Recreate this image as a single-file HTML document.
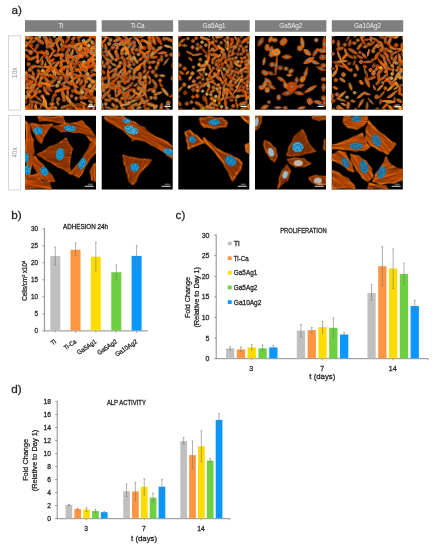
<!DOCTYPE html>
<html lang="en"><head><meta charset="utf-8"><title>Figure</title>
<style>
html,body{margin:0;padding:0;background:#fff;}
body{width:435px;height:550px;overflow:hidden;}
svg{display:block;}
svg text{font-family:"Liberation Sans", sans-serif;stroke-width:0.26px;paint-order:stroke;}
</style></head><body>
<svg width="435" height="550" viewBox="0 0 435 550">
<rect width="435" height="550" fill="#fff"/>
<text x="11.40" y="13.80" font-size="11.7" text-anchor="start" fill="#222" stroke="#222">a)</text>
<rect x="25.00" y="20.20" width="71.40" height="11.60" fill="#7f7f7f"/>
<text x="60.80" y="28.30" font-size="6.8" text-anchor="middle" fill="#f2f2f2" textLength="5.20" lengthAdjust="spacingAndGlyphs">Ti</text>
<rect x="101.70" y="20.20" width="71.40" height="11.60" fill="#7f7f7f"/>
<text x="137.50" y="28.30" font-size="6.8" text-anchor="middle" fill="#f2f2f2" textLength="14.20" lengthAdjust="spacingAndGlyphs">Ti-Ca</text>
<rect x="178.30" y="20.20" width="71.40" height="11.60" fill="#7f7f7f"/>
<text x="214.10" y="28.30" font-size="6.8" text-anchor="middle" fill="#f2f2f2" textLength="23.00" lengthAdjust="spacingAndGlyphs">Ga5Ag1</text>
<rect x="255.00" y="20.20" width="71.40" height="11.60" fill="#7f7f7f"/>
<text x="290.80" y="28.30" font-size="6.8" text-anchor="middle" fill="#f2f2f2" textLength="23.00" lengthAdjust="spacingAndGlyphs">Ga5Ag2</text>
<rect x="331.80" y="20.20" width="71.40" height="11.60" fill="#7f7f7f"/>
<text x="367.60" y="28.30" font-size="6.8" text-anchor="middle" fill="#f2f2f2" textLength="27.00" lengthAdjust="spacingAndGlyphs">Ga10Ag2</text>
<rect x="8.50" y="35.80" width="12.20" height="74.30" fill="#fff" stroke="#cdcdcd" stroke-width="0.8"/>
<text x="17.10" y="72.75" font-size="7.4" text-anchor="middle" fill="#969696" textLength="10.40" lengthAdjust="spacingAndGlyphs" transform="rotate(-90 17.10 72.75)">10x</text>
<rect x="8.50" y="115.60" width="12.20" height="74.30" fill="#fff" stroke="#cdcdcd" stroke-width="0.8"/>
<text x="17.10" y="152.55" font-size="7.4" text-anchor="middle" fill="#969696" textLength="10.40" lengthAdjust="spacingAndGlyphs" transform="rotate(-90 17.10 152.55)">40x</text>
<style>.k0{fill:#6e2800;stroke:#b04400;stroke-width:4}.k1{fill:#8a3000;stroke:#c85000;stroke-width:4}.k2{fill:#a03600;stroke:#dc5a02;stroke-width:4}.k3{fill:#b03c00;stroke:#ee6204;stroke-width:4}.k4{fill:#c04200;stroke:#f66c08;stroke-width:4}.k5{fill:#cc4a00;stroke:#ff760e;stroke-width:4}.k6{fill:#d85200;stroke:#ff8218;stroke-width:4}.k7{fill:#e66208;stroke:#ff9628;stroke-width:4}.k8{fill:#f47a14;stroke:#ffac3c;stroke-width:4}.k9{fill:#ff9a28;stroke:#ffc860;stroke-width:4}.nu{fill:#2a9ccc}.nv{fill:#2884a8}.nw{fill:#58b8d8}</style>
<defs><filter id="b1" x="-5%" y="-5%" width="110%" height="110%"><feGaussianBlur stdDeviation="1.4"/></filter><filter id="b2" x="-10%" y="-10%" width="120%" height="120%" color-interpolation-filters="sRGB"><feTurbulence type="fractalNoise" baseFrequency="0.008 0.09" numOctaves="3" seed="7" result="n"/><feColorMatrix in="n" type="matrix" values="0 0 0 0 0  0 0 0 0 0  0 0 0 0 0  1.7 0 0 0 -0.42" result="m"/><feGaussianBlur in="SourceGraphic" stdDeviation="4" result="g"/><feFlood flood-color="#6a2400" result="d"/><feComposite in="d" in2="m" operator="in" result="dm"/><feComposite in="dm" in2="g" operator="atop"/></filter><filter id="b3" x="-5%" y="-5%" width="110%" height="110%" color-interpolation-filters="sRGB"><feTurbulence type="fractalNoise" baseFrequency="0.11" numOctaves="2" seed="3" result="n"/><feColorMatrix in="n" type="matrix" values="0 0 0 0 0  0 0 0 0 0  0 0 0 0 0  1.6 0 0 0 -0.5" result="m"/><feGaussianBlur in="SourceGraphic" stdDeviation="2" result="g"/><feFlood flood-color="#0a4a78" result="d"/><feComposite in="d" in2="m" operator="in" result="dm"/><feComposite in="dm" in2="g" operator="atop"/></filter></defs>
<clipPath id="c00"><rect x="25.0" y="36.0" width="71.0" height="73.7"/></clipPath>
<rect x="25.0" y="36.0" width="71.0" height="73.7" fill="#000"/>
<g clip-path="url(#c00)"><svg x="25" y="36" width="71" height="74" viewBox="0 0 435 453" preserveAspectRatio="none" overflow="visible"><g filter="url(#b1)"><path transform="translate(202.2 230.1)rotate(16.9)" class="k5" d="M-20.1,0Q0,-15.1 20.1,0Q0,15.1 -20.1,0"/><ellipse transform="translate(202.2 230.1)rotate(16.9)" class="nv" rx="5.1" ry="4.1"/><ellipse transform="translate(286 280)rotate(43.5)" class="k9" rx="9.4" ry="9.4"/><ellipse transform="translate(286 280)rotate(43.5)" class="nv" rx="5.1" ry="4.3"/><path transform="translate(279.9 226.4)rotate(151.2)" class="k4" d="M-26.1,0Q0,-12.8 26.1,0Q0,12.8 -26.1,0"/><ellipse transform="translate(279.9 226.4)rotate(151.2)" class="nw" rx="6.2" ry="4.1"/><path transform="translate(135.3 101.3)rotate(69.6)" class="k6" d="M-17.5,0Q0,-17.6 17.5,0Q0,17.6 -17.5,0"/><ellipse transform="translate(135.3 101.3)rotate(69.6)" class="nv" rx="5.1" ry="4.1"/><path transform="translate(372.1 -4.7)rotate(13.1)" class="k3" d="M-36,0Q0,-14.7 36,0Q0,14.7 -36,0"/><ellipse transform="translate(341.4 119.9)rotate(44.3)" class="k6" rx="17.5" ry="9.3"/><ellipse transform="translate(341.4 119.9)rotate(44.3)" class="nw" rx="5.1" ry="4.3"/><ellipse transform="translate(21.7 364)rotate(23.6)" class="k7" rx="11.9" ry="11.9"/><ellipse transform="translate(21.7 364)rotate(23.6)" class="nw" rx="5.1" ry="5.5"/><path transform="translate(46.8 189.8)rotate(159.3)" class="k3" d="M-21.9,0Q0,-19.7 21.9,0Q0,19.7 -21.9,0"/><ellipse transform="translate(46.8 189.8)rotate(159.3)" class="nw" rx="5.2" ry="4.3"/><ellipse transform="translate(39.6 453)rotate(13.2)" class="k5" rx="16.3" ry="8.4"/><ellipse transform="translate(39.6 453)rotate(13.2)" class="nu" rx="5.1" ry="4.1"/><path transform="translate(254.3 107.5)rotate(103.4)" class="k4" d="M-24.2,0Q0,-14.6 24.2,0Q0,14.6 -24.2,0"/><ellipse transform="translate(254.3 107.5)rotate(103.4)" class="nv" rx="5.8" ry="4.1"/><ellipse transform="translate(358.9 110.5)rotate(158.8)" class="k5" rx="12.8" ry="12.8"/><ellipse transform="translate(358.9 110.5)rotate(158.8)" class="nv" rx="5.1" ry="5.5"/><ellipse transform="translate(182.5 43.1)rotate(148.3)" class="k4" rx="27.9" ry="5.9"/><ellipse transform="translate(182.5 43.1)rotate(148.3)" class="nu" rx="6.7" ry="4.1"/><ellipse transform="translate(374.3 279.4)rotate(80.2)" class="k7" rx="10.1" ry="10.1"/><ellipse transform="translate(374.3 279.4)rotate(80.2)" class="nv" rx="5.1" ry="4.6"/><ellipse transform="translate(431.3 299.2)rotate(163.8)" class="k6" rx="9.1" ry="9.1"/><path transform="translate(423.4 4.8)rotate(13.5)" class="k4" d="M-26.6,0Q0,-17.3 26.6,0Q0,17.3 -26.6,0"/><path transform="translate(382.6 188.1)rotate(104.9)" class="k3" d="M-35,0Q0,-15.7 35,0Q0,15.7 -35,0"/><ellipse transform="translate(382.6 188.1)rotate(104.9)" class="nv" rx="6.9" ry="4.1"/><path transform="translate(386.5 332.2)rotate(15.1)" class="k5" d="M-32.2,0Q0,-15.8 32.2,0Q0,15.8 -32.2,0"/><ellipse transform="translate(386.5 332.2)rotate(15.1)" class="nv" rx="6.9" ry="4.1"/><path transform="translate(8.3 273.4)rotate(165.7)" class="k1" d="M-21.1,0Q0,-17 21.1,0Q0,17 -21.1,0"/><path transform="translate(140.5 303.3)rotate(69.2)" class="k6" d="M-25.5,0Q0,-18 25.5,0Q0,18 -25.5,0"/><path transform="translate(417.8 123.2)rotate(112.6)" class="k2" d="M-25.9,0Q0,-12.8 25.9,0Q0,12.8 -25.9,0"/><ellipse transform="translate(417.8 123.2)rotate(112.6)" class="nw" rx="6.2" ry="4.1"/><ellipse transform="translate(3.5 57.9)rotate(8.4)" class="k7" rx="12.4" ry="8.7"/><ellipse transform="translate(3.5 57.9)rotate(8.4)" class="nu" rx="5.1" ry="4.1"/><ellipse transform="translate(83.7 215)rotate(49)" class="k5" rx="12.2" ry="7"/><ellipse transform="translate(83.7 215)rotate(49)" class="nu" rx="5.1" ry="4.1"/><path transform="translate(305.3 236)rotate(15.7)" class="k2" d="M-32.6,0Q0,-14 32.6,0Q0,14 -32.6,0"/><ellipse transform="translate(305.3 236)rotate(15.7)" class="nv" rx="6.9" ry="4.1"/><path transform="translate(316.5 55.1)rotate(158.3)" class="k7" d="M-29.8,0Q0,-19.1 29.8,0Q0,19.1 -29.8,0"/><ellipse transform="translate(316.5 55.1)rotate(158.3)" class="nu" rx="6.9" ry="4.2"/><path transform="translate(415.2 209.7)rotate(129.2)" class="k1" d="M-20.5,0Q0,-17.2 20.5,0Q0,17.2 -20.5,0"/><ellipse transform="translate(415.2 209.7)rotate(129.2)" class="nv" rx="5.1" ry="4.1"/><ellipse transform="translate(233.9 361.1)rotate(79.4)" class="k6" rx="27" ry="8.8"/><ellipse transform="translate(233.9 361.1)rotate(79.4)" class="nu" rx="6.5" ry="4.1"/><ellipse transform="translate(336.9 220.7)rotate(60.3)" class="k5" rx="25.4" ry="5.1"/><ellipse transform="translate(336.9 220.7)rotate(60.3)" class="nw" rx="6.1" ry="4.1"/><path transform="translate(124.1 332.5)rotate(68.6)" class="k5" d="M-27.5,0Q0,-18.4 27.5,0Q0,18.4 -27.5,0"/><ellipse transform="translate(124.1 332.5)rotate(68.6)" class="nv" rx="6.6" ry="4.1"/><path transform="translate(426 237.7)rotate(5)" class="k1" d="M-20.4,0Q0,-15.4 20.4,0Q0,15.4 -20.4,0"/><ellipse transform="translate(426 237.7)rotate(5)" class="nv" rx="5.1" ry="4.1"/><path transform="translate(24.3 244.4)rotate(22.9)" class="k4" d="M-37.1,0Q0,-19.2 37.1,0Q0,19.2 -37.1,0"/><ellipse transform="translate(24.3 244.4)rotate(22.9)" class="nv" rx="6.9" ry="4.2"/><path transform="translate(358 412)rotate(23.3)" class="k7" d="M-23,0Q0,-12 23,0Q0,12 -23,0"/><ellipse transform="translate(358 412)rotate(23.3)" class="nw" rx="5.5" ry="4.1"/><path transform="translate(5.1 84.9)rotate(18.9)" class="k3" d="M-31.1,0Q0,-13.3 31.1,0Q0,13.3 -31.1,0"/><ellipse transform="translate(5.1 84.9)rotate(18.9)" class="nu" rx="6.9" ry="4.1"/><path transform="translate(49.6 231.3)rotate(74.4)" class="k3" d="M-20.4,0Q0,-15.3 20.4,0Q0,15.3 -20.4,0"/><ellipse transform="translate(49.6 231.3)rotate(74.4)" class="nw" rx="5.1" ry="4.1"/><path transform="translate(267.2 391.7)rotate(56.7)" class="k8" d="M-32.3,0Q0,-18.1 32.3,0Q0,18.1 -32.3,0"/><ellipse transform="translate(267.2 391.7)rotate(56.7)" class="nu" rx="6.9" ry="4.1"/><ellipse transform="translate(182.6 360.7)rotate(122.8)" class="k3" rx="9.8" ry="9.8"/><ellipse transform="translate(425.9 48.4)rotate(12.7)" class="k4" rx="24.5" ry="7.2"/><ellipse transform="translate(425.9 48.4)rotate(12.7)" class="nu" rx="5.9" ry="4.1"/><path transform="translate(248.1 62.9)rotate(17.1)" class="k4" d="M-20.5,0Q0,-18.4 20.5,0Q0,18.4 -20.5,0"/><ellipse transform="translate(140.4 211.2)rotate(152)" class="k6" rx="11.8" ry="11.8"/><ellipse transform="translate(197 337.3)rotate(160.8)" class="k5" rx="15.2" ry="5.6"/><path transform="translate(175 272.6)rotate(134)" class="k3" d="M-37.6,0Q0,-18 37.6,0Q0,18 -37.6,0"/><ellipse transform="translate(175 272.6)rotate(134)" class="nv" rx="6.9" ry="4.1"/><ellipse transform="translate(335.5 182.9)rotate(64)" class="k5" rx="13.2" ry="6.4"/><ellipse transform="translate(335.5 182.9)rotate(64)" class="nv" rx="5.1" ry="4.1"/><path transform="translate(291.4 151.4)rotate(115.6)" class="k5" d="M-28.5,0Q0,-15.3 28.5,0Q0,15.3 -28.5,0"/><ellipse transform="translate(291.4 151.4)rotate(115.6)" class="nv" rx="6.8" ry="4.1"/><path transform="translate(334 448.8)rotate(9.1)" class="k5" d="M-29.5,0Q0,-17.4 29.5,0Q0,17.4 -29.5,0"/><path transform="translate(398 249.7)rotate(145.7)" class="k5" d="M-37.3,0Q0,-15.7 37.3,0Q0,15.7 -37.3,0"/><ellipse transform="translate(398 249.7)rotate(145.7)" class="nv" rx="6.9" ry="4.1"/><ellipse transform="translate(260.9 346.5)rotate(89.2)" class="k4" rx="27.3" ry="5.6"/><ellipse transform="translate(260.9 346.5)rotate(89.2)" class="nw" rx="6.5" ry="4.1"/><ellipse transform="translate(21.1 432.7)rotate(117.9)" class="k4" rx="20.7" ry="7.6"/><ellipse transform="translate(64.7 344.4)rotate(170)" class="k5" rx="13" ry="13"/><ellipse transform="translate(64.7 344.4)rotate(170)" class="nu" rx="5.1" ry="5.5"/><ellipse transform="translate(412.1 329.6)rotate(112.4)" class="k7" rx="28.2" ry="8.6"/><ellipse transform="translate(412.1 329.6)rotate(112.4)" class="nv" rx="6.7" ry="4.1"/><path transform="translate(197.7 116.4)rotate(171.5)" class="k6" d="M-25.2,0Q0,-17.8 25.2,0Q0,17.8 -25.2,0"/><ellipse transform="translate(197.7 116.4)rotate(171.5)" class="nu" rx="6" ry="4.1"/><path transform="translate(344 284.4)rotate(114)" class="k4" d="M-22,0Q0,-16.8 22,0Q0,16.8 -22,0"/><ellipse transform="translate(344 284.4)rotate(114)" class="nu" rx="5.3" ry="4.1"/><path transform="translate(402.5 401.9)rotate(18.4)" class="k7" d="M-17.3,0Q0,-12.8 17.3,0Q0,12.8 -17.3,0"/><ellipse transform="translate(402.5 401.9)rotate(18.4)" class="nv" rx="5.1" ry="4.1"/><path transform="translate(240 287.2)rotate(150.9)" class="k4" d="M-26.5,0Q0,-12.2 26.5,0Q0,12.2 -26.5,0"/><ellipse transform="translate(240 287.2)rotate(150.9)" class="nw" rx="6.3" ry="4.1"/><ellipse transform="translate(48.3 369.7)rotate(145.8)" class="k6" rx="24.7" ry="5.8"/><path transform="translate(285.9 453)rotate(66.5)" class="k1" d="M-28.1,0Q0,-17.4 28.1,0Q0,17.4 -28.1,0"/><ellipse transform="translate(285.9 453)rotate(66.5)" class="nv" rx="6.7" ry="4.1"/><ellipse transform="translate(384.5 31.3)rotate(139.6)" class="k8" rx="21.3" ry="7.1"/><ellipse transform="translate(384.5 31.3)rotate(139.6)" class="nv" rx="5.1" ry="4.1"/><ellipse transform="translate(89.9 301.6)rotate(25.7)" class="k4" rx="17" ry="8.2"/><ellipse transform="translate(89.9 301.6)rotate(25.7)" class="nu" rx="5.1" ry="4.1"/><path transform="translate(318.1 164.6)rotate(164.4)" class="k2" d="M-31.6,0Q0,-15.7 31.6,0Q0,15.7 -31.6,0"/><ellipse transform="translate(318.1 164.6)rotate(164.4)" class="nv" rx="6.9" ry="4.1"/><ellipse transform="translate(105.5 162.5)rotate(101.5)" class="k5" rx="18" ry="6.7"/><ellipse transform="translate(105.5 162.5)rotate(101.5)" class="nu" rx="5.1" ry="4.1"/><ellipse transform="translate(284.8 367.4)rotate(132.7)" class="k4" rx="9.3" ry="9.3"/><ellipse transform="translate(284.8 367.4)rotate(132.7)" class="nv" rx="5.1" ry="4.3"/><ellipse transform="translate(32.7 288.6)rotate(137.8)" class="k5" rx="24.3" ry="7.9"/><ellipse transform="translate(32.7 288.6)rotate(137.8)" class="nu" rx="5.8" ry="4.1"/><path transform="translate(402.2 185.1)rotate(160)" class="k4" d="M-30.7,0Q0,-18.5 30.7,0Q0,18.5 -30.7,0"/><ellipse transform="translate(162.1 72.6)rotate(55.5)" class="k6" rx="19" ry="6.2"/><ellipse transform="translate(162.1 72.6)rotate(55.5)" class="nv" rx="5.1" ry="4.1"/><path transform="translate(399.6 11.8)rotate(107.1)" class="k4" d="M-20.1,0Q0,-12.2 20.1,0Q0,12.2 -20.1,0"/><ellipse transform="translate(399.6 11.8)rotate(107.1)" class="nu" rx="5.1" ry="4.1"/><path transform="translate(77.3 125.1)rotate(86.3)" class="k5" d="M-32.7,0Q0,-13.2 32.7,0Q0,13.2 -32.7,0"/><ellipse transform="translate(77.3 125.1)rotate(86.3)" class="nv" rx="6.9" ry="4.1"/><path transform="translate(287.6 105)rotate(109.1)" class="k8" d="M-26.4,0Q0,-13.7 26.4,0Q0,13.7 -26.4,0"/><ellipse transform="translate(287.6 105)rotate(109.1)" class="nu" rx="6.3" ry="4.1"/><ellipse transform="translate(381.8 234)rotate(138.7)" class="k9" rx="10.5" ry="10.5"/><ellipse transform="translate(381.8 234)rotate(138.7)" class="nw" rx="5.1" ry="4.8"/><ellipse transform="translate(371.6 375.6)rotate(84.4)" class="k6" rx="10.9" ry="10.9"/><ellipse transform="translate(371.6 375.6)rotate(84.4)" class="nv" rx="5.1" ry="5"/><ellipse transform="translate(236.8 238.4)rotate(55)" class="k4" rx="25.7" ry="6.3"/><ellipse transform="translate(236.8 238.4)rotate(55)" class="nv" rx="6.2" ry="4.1"/><ellipse transform="translate(100.7 256.2)rotate(110.9)" class="k4" rx="12.2" ry="9.5"/><ellipse transform="translate(100.7 256.2)rotate(110.9)" class="nw" rx="5.1" ry="4.4"/><ellipse transform="translate(162.3 244.9)rotate(36)" class="k6" rx="17.6" ry="6.6"/><ellipse transform="translate(36.1 60.2)rotate(150.6)" class="k4" rx="10.6" ry="10.6"/><ellipse transform="translate(35.1 99.9)rotate(76.9)" class="k5" rx="12.7" ry="12.7"/><ellipse transform="translate(35.1 99.9)rotate(76.9)" class="nw" rx="5.1" ry="5.5"/><path transform="translate(166.7 148.4)rotate(142.1)" class="k5" d="M-16.3,0Q0,-14 16.3,0Q0,14 -16.3,0"/><ellipse transform="translate(265.8 3.6)rotate(91.7)" class="k6" rx="10.5" ry="10.5"/><ellipse transform="translate(265.8 3.6)rotate(91.7)" class="nu" rx="5.1" ry="4.8"/><ellipse transform="translate(313.3 381.8)rotate(44)" class="k6" rx="9.3" ry="9.3"/><ellipse transform="translate(313.3 381.8)rotate(44)" class="nu" rx="5.1" ry="4.3"/><path transform="translate(77.6 248.7)rotate(118.5)" class="k7" d="M-16.7,0Q0,-11.9 16.7,0Q0,11.9 -16.7,0"/><ellipse transform="translate(293.7 336.5)rotate(84.2)" class="k3" rx="9.8" ry="9.8"/><ellipse transform="translate(226.3 117.1)rotate(26.1)" class="k6" rx="11.7" ry="11.7"/><ellipse transform="translate(226.3 117.1)rotate(26.1)" class="nu" rx="5.1" ry="5.4"/><path transform="translate(262 212.6)rotate(87.4)" class="k2" d="M-29.7,0Q0,-16.9 29.7,0Q0,16.9 -29.7,0"/><ellipse transform="translate(262 212.6)rotate(87.4)" class="nv" rx="6.9" ry="4.1"/><path transform="translate(397.4 143.5)rotate(135.3)" class="k5" d="M-32,0Q0,-19 32,0Q0,19 -32,0"/><ellipse transform="translate(397.4 143.5)rotate(135.3)" class="nv" rx="6.9" ry="4.2"/><ellipse transform="translate(259.1 27.3)rotate(125.1)" class="k3" rx="19.4" ry="7.2"/><path transform="translate(101.4 136.8)rotate(119.8)" class="k4" d="M-21.2,0Q0,-10.8 21.2,0Q0,10.8 -21.2,0"/><ellipse transform="translate(101.4 136.8)rotate(119.8)" class="nv" rx="5.1" ry="4.1"/><ellipse transform="translate(234.2 435.3)rotate(161.1)" class="k6" rx="16" ry="6.2"/><ellipse transform="translate(234.2 435.3)rotate(161.1)" class="nv" rx="5.1" ry="4.1"/><path transform="translate(82 383)rotate(36.4)" class="k4" d="M-26.4,0Q0,-11.8 26.4,0Q0,11.8 -26.4,0"/><ellipse transform="translate(82 383)rotate(36.4)" class="nv" rx="6.3" ry="4.1"/><ellipse transform="translate(42.2 331)rotate(125.3)" class="k4" rx="26.9" ry="8.9"/><ellipse transform="translate(42.2 331)rotate(125.3)" class="nw" rx="6.4" ry="4.1"/><path transform="translate(118.2 291.3)rotate(8.2)" class="k7" d="M-37.6,0Q0,-14.4 37.6,0Q0,14.4 -37.6,0"/><path transform="translate(383.4 78.4)rotate(47.3)" class="k7" d="M-16.4,0Q0,-15 16.4,0Q0,15 -16.4,0"/><ellipse transform="translate(383.4 78.4)rotate(47.3)" class="nu" rx="5.1" ry="4.1"/><path transform="translate(360.2 74.5)rotate(11)" class="k3" d="M-19.5,0Q0,-16.9 19.5,0Q0,16.9 -19.5,0"/><ellipse transform="translate(360.2 74.5)rotate(11)" class="nv" rx="5.1" ry="4.1"/><ellipse transform="translate(326.5 13.2)rotate(76.4)" class="k2" rx="26.7" ry="5.5"/><path transform="translate(321.7 101.4)rotate(65.5)" class="k4" d="M-28.1,0Q0,-12.5 28.1,0Q0,12.5 -28.1,0"/><ellipse transform="translate(321.7 101.4)rotate(65.5)" class="nu" rx="6.7" ry="4.1"/><ellipse transform="translate(431.7 277.8)rotate(125)" class="k1" rx="10.4" ry="10.4"/><ellipse transform="translate(431.7 277.8)rotate(125)" class="nv" rx="5.1" ry="4.8"/><ellipse transform="translate(169.9 385.3)rotate(98.9)" class="k1" rx="24.9" ry="5.8"/><ellipse transform="translate(169.9 385.3)rotate(98.9)" class="nv" rx="6" ry="4.1"/><path transform="translate(156.5 122.1)rotate(128.7)" class="k5" d="M-20,0Q0,-12.7 20,0Q0,12.7 -20,0"/><ellipse transform="translate(139.7 351.8)rotate(27.2)" class="k5" rx="12.9" ry="6.7"/><ellipse transform="translate(139.7 351.8)rotate(27.2)" class="nw" rx="5.1" ry="4.1"/><path transform="translate(60.5 89.8)rotate(40.7)" class="k2" d="M-31.7,0Q0,-14.1 31.7,0Q0,14.1 -31.7,0"/><ellipse transform="translate(60.5 89.8)rotate(40.7)" class="nu" rx="6.9" ry="4.1"/><path transform="translate(293.4 420.5)rotate(42.2)" class="k6" d="M-31.2,0Q0,-16.7 31.2,0Q0,16.7 -31.2,0"/><ellipse transform="translate(293.4 420.5)rotate(42.2)" class="nu" rx="6.9" ry="4.1"/><ellipse transform="translate(21.7 172.5)rotate(85.5)" class="k3" rx="10.6" ry="10.6"/><ellipse transform="translate(21.7 172.5)rotate(85.5)" class="nu" rx="5.1" ry="4.9"/><path transform="translate(147.1 190.5)rotate(4.1)" class="k7" d="M-28.8,0Q0,-17 28.8,0Q0,17 -28.8,0"/><path transform="translate(157.1 24.1)rotate(58.6)" class="k2" d="M-17.2,0Q0,-15 17.2,0Q0,15 -17.2,0"/><ellipse transform="translate(157.1 24.1)rotate(58.6)" class="nv" rx="5.1" ry="4.1"/><path transform="translate(419.8 162.9)rotate(74)" class="k5" d="M-36.7,0Q0,-17.7 36.7,0Q0,17.7 -36.7,0"/><ellipse transform="translate(419.8 162.9)rotate(74)" class="nu" rx="6.9" ry="4.1"/><path transform="translate(164.9 416.2)rotate(175.9)" class="k6" d="M-19,0Q0,-15.1 19,0Q0,15.1 -19,0"/><ellipse transform="translate(164.9 416.2)rotate(175.9)" class="nw" rx="5.1" ry="4.1"/><path transform="translate(284.3 248.8)rotate(62.4)" class="k7" d="M-28.3,0Q0,-18.3 28.3,0Q0,18.3 -28.3,0"/><ellipse transform="translate(284.3 248.8)rotate(62.4)" class="nu" rx="6.8" ry="4.1"/><path transform="translate(66 282.8)rotate(96.1)" class="k4" d="M-28.4,0Q0,-13.7 28.4,0Q0,13.7 -28.4,0"/><ellipse transform="translate(223.6 53.3)rotate(81.3)" class="k7" rx="13.1" ry="5.3"/><ellipse transform="translate(223.6 53.3)rotate(81.3)" class="nu" rx="5.1" ry="4.1"/><path transform="translate(162.7 304.9)rotate(174.7)" class="k5" d="M-20.1,0Q0,-10.2 20.1,0Q0,10.2 -20.1,0"/><ellipse transform="translate(162.7 304.9)rotate(174.7)" class="nu" rx="5.1" ry="4.1"/><ellipse transform="translate(301 189.1)rotate(128.4)" class="k1" rx="18.5" ry="9.2"/><ellipse transform="translate(301 189.1)rotate(128.4)" class="nv" rx="5.1" ry="4.2"/><ellipse transform="translate(42.7 427.2)rotate(101.9)" class="k2" rx="20.1" ry="5.4"/><ellipse transform="translate(42.7 427.2)rotate(101.9)" class="nu" rx="5.1" ry="4.1"/><ellipse transform="translate(273.3 121.9)rotate(11.6)" class="k2" rx="20" ry="6.5"/><ellipse transform="translate(273.3 121.9)rotate(11.6)" class="nw" rx="5.1" ry="4.1"/><path transform="translate(132.7 31.3)rotate(87.2)" class="k6" d="M-26.6,0Q0,-19.9 26.6,0Q0,19.9 -26.6,0"/><ellipse transform="translate(132.7 31.3)rotate(87.2)" class="nv" rx="6.4" ry="4.4"/><ellipse transform="translate(317.6 76.4)rotate(135.6)" class="k5" rx="10.4" ry="10.4"/><ellipse transform="translate(317.6 76.4)rotate(135.6)" class="nv" rx="5.1" ry="4.8"/><path transform="translate(223.8 -0.2)rotate(142.6)" class="k6" d="M-37.1,0Q0,-10.2 37.1,0Q0,10.2 -37.1,0"/><ellipse transform="translate(223.8 -0.2)rotate(142.6)" class="nw" rx="6.9" ry="4.1"/><path transform="translate(106.5 416.2)rotate(118.3)" class="k5" d="M-28.7,0Q0,-12.3 28.7,0Q0,12.3 -28.7,0"/><ellipse transform="translate(106.5 416.2)rotate(118.3)" class="nv" rx="6.9" ry="4.1"/><ellipse transform="translate(89 339.1)rotate(63.1)" class="k5" rx="9.6" ry="9.6"/><ellipse transform="translate(89 339.1)rotate(63.1)" class="nv" rx="5.1" ry="4.4"/><ellipse transform="translate(-0.8 227.7)rotate(158.5)" class="k8" rx="17.3" ry="7.3"/><ellipse transform="translate(-0.8 227.7)rotate(158.5)" class="nv" rx="5.1" ry="4.1"/><ellipse transform="translate(186.4 440.7)rotate(121.9)" class="k5" rx="10.1" ry="10.1"/><ellipse transform="translate(186.4 440.7)rotate(121.9)" class="nu" rx="5.1" ry="4.6"/><ellipse transform="translate(196.7 303.1)rotate(92.7)" class="k9" rx="9.9" ry="9.9"/><ellipse transform="translate(196.7 303.1)rotate(92.7)" class="nv" rx="5.1" ry="4.5"/><path transform="translate(409.6 65.3)rotate(178.1)" class="k2" d="M-37.8,0Q0,-17.4 37.8,0Q0,17.4 -37.8,0"/><ellipse transform="translate(409.6 65.3)rotate(178.1)" class="nw" rx="6.9" ry="4.1"/><ellipse transform="translate(106.6 368.7)rotate(115.9)" class="k5" rx="10.1" ry="10.1"/><ellipse transform="translate(106.6 368.7)rotate(115.9)" class="nu" rx="5.1" ry="4.7"/><ellipse transform="translate(39.7 12)rotate(70)" class="k5" rx="9.7" ry="9.7"/><ellipse transform="translate(434.6 90.7)rotate(77.5)" class="k9" rx="9" ry="9"/><ellipse transform="translate(434.6 90.7)rotate(77.5)" class="nu" rx="5.1" ry="4.1"/><ellipse transform="translate(263.4 316.7)rotate(20.9)" class="k4" rx="14.1" ry="8.1"/><ellipse transform="translate(263.4 316.7)rotate(20.9)" class="nw" rx="5.1" ry="4.1"/><path transform="translate(266.5 160.5)rotate(55.8)" class="k5" d="M-37.9,0Q0,-16.9 37.9,0Q0,16.9 -37.9,0"/><ellipse transform="translate(266.5 160.5)rotate(55.8)" class="nv" rx="6.9" ry="4.1"/><path transform="translate(360 184.4)rotate(42.3)" class="k7" d="M-27.1,0Q0,-19.4 27.1,0Q0,19.4 -27.1,0"/><path transform="translate(121.8 399)rotate(69.8)" class="k8" d="M-34.8,0Q0,-16.8 34.8,0Q0,16.8 -34.8,0"/><path transform="translate(203.8 162.5)rotate(175.8)" class="k3" d="M-23,0Q0,-16.7 23,0Q0,16.7 -23,0"/><ellipse transform="translate(203.8 162.5)rotate(175.8)" class="nu" rx="5.5" ry="4.1"/><path transform="translate(92 453.3)rotate(15)" class="k6" d="M-24.1,0Q0,-11.5 24.1,0Q0,11.5 -24.1,0"/><ellipse transform="translate(92 453.3)rotate(15)" class="nv" rx="5.8" ry="4.1"/><path transform="translate(340.3 50.4)rotate(4.4)" class="k6" d="M-16.3,0Q0,-18.6 16.3,0Q0,18.6 -16.3,0"/><path transform="translate(50.4 257.9)rotate(44.4)" class="k6" d="M-17.9,0Q0,-15.1 17.9,0Q0,15.1 -17.9,0"/><ellipse transform="translate(50.4 257.9)rotate(44.4)" class="nu" rx="5.1" ry="4.1"/><ellipse transform="translate(179 -0)rotate(95.6)" class="k9" rx="8.3" ry="8.3"/><ellipse transform="translate(179 -0)rotate(95.6)" class="nu" rx="5.1" ry="4.1"/><ellipse transform="translate(172.9 98.1)rotate(134.9)" class="k5" rx="18.1" ry="6.3"/><ellipse transform="translate(172.9 98.1)rotate(134.9)" class="nu" rx="5.1" ry="4.1"/><path transform="translate(432.9 380)rotate(10.2)" class="k6" d="M-23,0Q0,-18.2 23,0Q0,18.2 -23,0"/><ellipse transform="translate(432.9 380)rotate(10.2)" class="nv" rx="5.5" ry="4.1"/><ellipse transform="translate(407.7 290.7)rotate(132.6)" class="k4" rx="27.4" ry="8.3"/><ellipse transform="translate(407.7 290.7)rotate(132.6)" class="nu" rx="6.6" ry="4.1"/><path transform="translate(366.1 303.5)rotate(100.8)" class="k3" d="M-18.5,0Q0,-11.2 18.5,0Q0,11.2 -18.5,0"/><ellipse transform="translate(366.1 303.5)rotate(100.8)" class="nu" rx="5.1" ry="4.1"/><path transform="translate(89 187.1)rotate(5.6)" class="k5" d="M-34.5,0Q0,-11.3 34.5,0Q0,11.3 -34.5,0"/><ellipse transform="translate(89 187.1)rotate(5.6)" class="nu" rx="6.9" ry="4.1"/><path transform="translate(258.2 235.7)rotate(86.5)" class="k6" d="M-28.6,0Q0,-18.4 28.6,0Q0,18.4 -28.6,0"/><ellipse transform="translate(258.2 235.7)rotate(86.5)" class="nw" rx="6.8" ry="4.1"/><path transform="translate(305.8 258)rotate(145)" class="k5" d="M-23.3,0Q0,-11.6 23.3,0Q0,11.6 -23.3,0"/><ellipse transform="translate(343.9 96.2)rotate(104.8)" class="k4" rx="12.1" ry="12.1"/><path transform="translate(404.1 353.9)rotate(42)" class="k4" d="M-17.2,0Q0,-19.3 17.2,0Q0,19.3 -17.2,0"/><ellipse transform="translate(220 257.1)rotate(118.3)" class="k3" rx="12.8" ry="12.8"/><ellipse transform="translate(220 257.1)rotate(118.3)" class="nw" rx="5.1" ry="5.5"/><ellipse transform="translate(229.5 80.5)rotate(75.1)" class="k2" rx="11.8" ry="11.8"/><ellipse transform="translate(410.3 35)rotate(172.3)" class="k9" rx="8.1" ry="8.1"/><ellipse transform="translate(410.3 35)rotate(172.3)" class="nv" rx="5.1" ry="4.1"/><path transform="translate(144.3 155.5)rotate(60.4)" class="k7" d="M-32.9,0Q0,-12.7 32.9,0Q0,12.7 -32.9,0"/><ellipse transform="translate(144.3 155.5)rotate(60.4)" class="nv" rx="6.9" ry="4.1"/><ellipse transform="translate(73.2 64.4)rotate(117.8)" class="k1" rx="19.9" ry="8.5"/><ellipse transform="translate(73.2 64.4)rotate(117.8)" class="nv" rx="5.1" ry="4.1"/><path transform="translate(346.7 245.1)rotate(178.2)" class="k3" d="M-32.8,0Q0,-12.5 32.8,0Q0,12.5 -32.8,0"/><ellipse transform="translate(346.7 245.1)rotate(178.2)" class="nv" rx="6.9" ry="4.1"/><ellipse transform="translate(77.3 155.9)rotate(97.3)" class="k5" rx="11.1" ry="11.1"/><ellipse transform="translate(77.3 155.9)rotate(97.3)" class="nw" rx="5.1" ry="5.1"/><ellipse transform="translate(371.5 210.3)rotate(72.1)" class="k4" rx="12.1" ry="12.1"/><ellipse transform="translate(371.5 210.3)rotate(72.1)" class="nu" rx="5.1" ry="5.5"/><ellipse transform="translate(89.2 4.1)rotate(32.9)" class="k9" rx="8.9" ry="8.9"/><ellipse transform="translate(89.2 4.1)rotate(32.9)" class="nu" rx="5.1" ry="4.1"/><ellipse transform="translate(253.5 188.1)rotate(168.5)" class="k7" rx="19.6" ry="6.4"/><ellipse transform="translate(253.5 188.1)rotate(168.5)" class="nv" rx="5.1" ry="4.1"/><path transform="translate(65.1 433.7)rotate(89.5)" class="k7" d="M-18.1,0Q0,-16.9 18.1,0Q0,16.9 -18.1,0"/><path transform="translate(223.8 170.5)rotate(83.2)" class="k5" d="M-26.9,0Q0,-12.7 26.9,0Q0,12.7 -26.9,0"/><ellipse transform="translate(223.8 170.5)rotate(83.2)" class="nu" rx="6.4" ry="4.1"/><path transform="translate(224.5 141.3)rotate(59.5)" class="k5" d="M-20.1,0Q0,-16.5 20.1,0Q0,16.5 -20.1,0"/><ellipse transform="translate(224.5 141.3)rotate(59.5)" class="nv" rx="5.1" ry="4.1"/><path transform="translate(169 211.9)rotate(56.8)" class="k3" d="M-37,0Q0,-18.5 37,0Q0,18.5 -37,0"/><ellipse transform="translate(169 211.9)rotate(56.8)" class="nw" rx="6.9" ry="4.1"/><path transform="translate(48.4 135.8)rotate(159.7)" class="k5" d="M-35,0Q0,-15.1 35,0Q0,15.1 -35,0"/><ellipse transform="translate(48.4 135.8)rotate(159.7)" class="nu" rx="6.9" ry="4.1"/><path transform="translate(347.1 322.8)rotate(112.3)" class="k6" d="M-24,0Q0,-14.4 24,0Q0,14.4 -24,0"/><ellipse transform="translate(347.1 322.8)rotate(112.3)" class="nv" rx="5.8" ry="4.1"/><path transform="translate(147.1 324.5)rotate(39.8)" class="k2" d="M-25.2,0Q0,-17.6 25.2,0Q0,17.6 -25.2,0"/><ellipse transform="translate(147.1 324.5)rotate(39.8)" class="nv" rx="6" ry="4.1"/><ellipse transform="translate(287.5 63.8)rotate(21.2)" class="k6" rx="26.4" ry="9.2"/><ellipse transform="translate(287.5 63.8)rotate(21.2)" class="nu" rx="6.3" ry="4.2"/><path transform="translate(308 318.8)rotate(79.5)" class="k4" d="M-35.3,0Q0,-12.2 35.3,0Q0,12.2 -35.3,0"/><ellipse transform="translate(308 318.8)rotate(79.5)" class="nu" rx="6.9" ry="4.1"/><ellipse transform="translate(16 317.1)rotate(8)" class="k5" rx="25.9" ry="7.4"/><ellipse transform="translate(16 317.1)rotate(8)" class="nw" rx="6.2" ry="4.1"/><path transform="translate(22.9 42.2)rotate(125.2)" class="k5" d="M-31.3,0Q0,-11.8 31.3,0Q0,11.8 -31.3,0"/><ellipse transform="translate(22.9 42.2)rotate(125.2)" class="nu" rx="6.9" ry="4.1"/><path transform="translate(133.1 269.1)rotate(56.1)" class="k5" d="M-18.5,0Q0,-18.4 18.5,0Q0,18.4 -18.5,0"/><ellipse transform="translate(133.1 269.1)rotate(56.1)" class="nu" rx="5.1" ry="4.1"/><path transform="translate(392.2 98.7)rotate(51.4)" class="k4" d="M-22.6,0Q0,-10.4 22.6,0Q0,10.4 -22.6,0"/><ellipse transform="translate(392.2 98.7)rotate(51.4)" class="nv" rx="5.4" ry="4.1"/><ellipse transform="translate(395.7 307.1)rotate(113.7)" class="k9" rx="8.7" ry="8.7"/><ellipse transform="translate(395.7 307.1)rotate(113.7)" class="nu" rx="5.1" ry="4.1"/><path transform="translate(421.3 143.8)rotate(168.4)" class="k7" d="M-34.2,0Q0,-11.9 34.2,0Q0,11.9 -34.2,0"/><ellipse transform="translate(67.2 12.4)rotate(152.3)" class="k7" rx="9.2" ry="9.2"/><ellipse transform="translate(67.2 12.4)rotate(152.3)" class="nv" rx="5.1" ry="4.2"/><path transform="translate(268.7 84.5)rotate(97.5)" class="k3" d="M-16.2,0Q0,-18.8 16.2,0Q0,18.8 -16.2,0"/><ellipse transform="translate(268.7 84.5)rotate(97.5)" class="nu" rx="5.1" ry="4.1"/><path transform="translate(13.2 126.7)rotate(33.4)" class="k3" d="M-32.5,0Q0,-17.8 32.5,0Q0,17.8 -32.5,0"/><path transform="translate(374.5 349.4)rotate(109)" class="k3" d="M-37.6,0Q0,-17.4 37.6,0Q0,17.4 -37.6,0"/><ellipse transform="translate(374.5 349.4)rotate(109)" class="nu" rx="6.9" ry="4.1"/><ellipse transform="translate(242.7 152.2)rotate(178.4)" class="k4" rx="12" ry="4.8"/><ellipse transform="translate(242.7 152.2)rotate(178.4)" class="nu" rx="5.1" ry="4.1"/><ellipse transform="translate(238.8 391.4)rotate(5.4)" class="k3" rx="9.9" ry="9.9"/><ellipse transform="translate(238.8 391.4)rotate(5.4)" class="nv" rx="5.1" ry="4.6"/><path transform="translate(222.1 22.2)rotate(52.2)" class="k6" d="M-29.4,0Q0,-16.8 29.4,0Q0,16.8 -29.4,0"/><ellipse transform="translate(222.1 22.2)rotate(52.2)" class="nv" rx="6.9" ry="4.1"/><path transform="translate(326 346.6)rotate(21.3)" class="k6" d="M-25.2,0Q0,-17 25.2,0Q0,17 -25.2,0"/><ellipse transform="translate(326 346.6)rotate(21.3)" class="nv" rx="6" ry="4.1"/><path transform="translate(385 444)rotate(116.5)" class="k3" d="M-30.3,0Q0,-13.8 30.3,0Q0,13.8 -30.3,0"/><ellipse transform="translate(205.7 88.4)rotate(115)" class="k1" rx="19" ry="6.1"/><ellipse transform="translate(205.7 88.4)rotate(115)" class="nv" rx="5.1" ry="4.1"/><ellipse transform="translate(152.3 445.2)rotate(145.4)" class="k6" rx="27.2" ry="8.9"/><ellipse transform="translate(346 377.1)rotate(55.7)" class="k4" rx="12.8" ry="12.8"/><ellipse transform="translate(346 377.1)rotate(55.7)" class="nu" rx="5.1" ry="5.5"/><path transform="translate(36.4 404.3)rotate(74.3)" class="k1" d="M-21.9,0Q0,-17.7 21.9,0Q0,17.7 -21.9,0"/><ellipse transform="translate(36.4 404.3)rotate(74.3)" class="nv" rx="5.2" ry="4.1"/><path transform="translate(189.5 206.5)rotate(58.7)" class="k5" d="M-24.1,0Q0,-14.6 24.1,0Q0,14.6 -24.1,0"/><ellipse transform="translate(3.7 402)rotate(141.4)" class="k1" rx="9.4" ry="9.4"/><ellipse transform="translate(18.2 343.2)rotate(67.6)" class="k6" rx="10.9" ry="10.9"/><ellipse transform="translate(18.2 343.2)rotate(67.6)" class="nv" rx="5.1" ry="5"/><path transform="translate(104 100)rotate(3.7)" class="k4" d="M-25.1,0Q0,-16.9 25.1,0Q0,16.9 -25.1,0"/><ellipse transform="translate(435.6 207.8)rotate(65.4)" class="k9" rx="10.5" ry="10.5"/><ellipse transform="translate(435.6 207.8)rotate(65.4)" class="nv" rx="5.1" ry="4.8"/><path transform="translate(200.7 410.4)rotate(71.1)" class="k5" d="M-16.2,0Q0,-13.3 16.2,0Q0,13.3 -16.2,0"/><ellipse transform="translate(200.7 410.4)rotate(71.1)" class="nu" rx="5.1" ry="4.1"/><ellipse transform="translate(-3.4 251.5)rotate(35.8)" class="k5" rx="23.8" ry="9.3"/><ellipse transform="translate(120.2 251.2)rotate(168.3)" class="k2" rx="9.5" ry="9.5"/><ellipse transform="translate(199.1 24.1)rotate(109.8)" class="k5" rx="12.3" ry="12.3"/><ellipse transform="translate(199.1 24.1)rotate(109.8)" class="nu" rx="5.1" ry="5.5"/><ellipse transform="translate(241.1 309)rotate(159.6)" class="k4" rx="10.8" ry="10.8"/><ellipse transform="translate(241.1 309)rotate(159.6)" class="nu" rx="5.1" ry="4.9"/><path transform="translate(262.1 284.2)rotate(38.8)" class="k4" d="M-29.5,0Q0,-13 29.5,0Q0,13 -29.5,0"/><ellipse transform="translate(262.1 284.2)rotate(38.8)" class="nu" rx="6.9" ry="4.1"/><ellipse transform="translate(325.2 274.6)rotate(121.5)" class="k7" rx="21" ry="7.9"/><ellipse transform="translate(325.2 274.6)rotate(121.5)" class="nv" rx="5.1" ry="4.1"/><path transform="translate(68.6 406.4)rotate(16)" class="k4" d="M-31.7,0Q0,-11.8 31.7,0Q0,11.8 -31.7,0"/><ellipse transform="translate(68.6 406.4)rotate(16)" class="nu" rx="6.9" ry="4.1"/><path transform="translate(190.1 180.7)rotate(133.7)" class="k5" d="M-27.5,0Q0,-15.5 27.5,0Q0,15.5 -27.5,0"/><ellipse transform="translate(190.1 180.7)rotate(133.7)" class="nw" rx="6.6" ry="4.1"/><ellipse transform="translate(127.6 434)rotate(39.9)" class="k7" rx="24.2" ry="5.5"/><ellipse transform="translate(108.7 212.8)rotate(21.3)" class="k9" rx="9.6" ry="9.6"/><ellipse transform="translate(166.5 170.3)rotate(143.2)" class="k5" rx="18" ry="5.6"/><ellipse transform="translate(166.5 170.3)rotate(143.2)" class="nv" rx="5.1" ry="4.1"/><ellipse transform="translate(401.5 425.7)rotate(112)" class="k9" rx="10.3" ry="10.3"/><ellipse transform="translate(401.5 425.7)rotate(112)" class="nu" rx="5.1" ry="4.7"/><ellipse transform="translate(412.6 458)rotate(115.6)" class="k3" rx="24.1" ry="7.6"/><ellipse transform="translate(412.6 458)rotate(115.6)" class="nv" rx="5.8" ry="4.1"/><ellipse transform="translate(297 14.4)rotate(140.7)" class="k4" rx="13.9" ry="8.4"/><ellipse transform="translate(297 14.4)rotate(140.7)" class="nu" rx="5.1" ry="4.1"/><path transform="translate(124.3 176.7)rotate(98)" class="k5" d="M-17.3,0Q0,-10.4 17.3,0Q0,10.4 -17.3,0"/><ellipse transform="translate(124.3 176.7)rotate(98)" class="nw" rx="5.1" ry="4.1"/><ellipse transform="translate(324.5 137.7)rotate(134)" class="k6" rx="24.1" ry="8.3"/><ellipse transform="translate(324.5 137.7)rotate(134)" class="nv" rx="5.8" ry="4.1"/><ellipse transform="translate(17.5 8.2)rotate(94.1)" class="k7" rx="11.2" ry="11.2"/><ellipse transform="translate(17.5 8.2)rotate(94.1)" class="nw" rx="5.1" ry="5.2"/><ellipse transform="translate(359.4 30.1)rotate(82.5)" class="k9" rx="9.5" ry="9.5"/><ellipse transform="translate(359.4 30.1)rotate(82.5)" class="nv" rx="5.1" ry="4.4"/><path transform="translate(403.8 270.3)rotate(34.2)" class="k8" d="M-28.1,0Q0,-15.4 28.1,0Q0,15.4 -28.1,0"/><ellipse transform="translate(403.8 270.3)rotate(34.2)" class="nu" rx="6.7" ry="4.1"/><ellipse transform="translate(439.1 28)rotate(87.4)" class="k6" rx="15.8" ry="8.6"/><ellipse transform="translate(439.1 28)rotate(87.4)" class="nu" rx="5.1" ry="4.1"/><ellipse transform="translate(138.6 63.8)rotate(176.4)" class="k4" rx="11.1" ry="11.1"/><ellipse transform="translate(138.6 63.8)rotate(176.4)" class="nv" rx="5.1" ry="5.1"/><ellipse transform="translate(390.1 56.5)rotate(154.8)" class="k9" rx="8.1" ry="8.1"/><ellipse transform="translate(390.1 56.5)rotate(154.8)" class="nw" rx="5.1" ry="4.1"/><ellipse transform="translate(436.1 113.4)rotate(146.7)" class="k8" rx="13.3" ry="9.1"/><ellipse transform="translate(436.1 113.4)rotate(146.7)" class="nu" rx="5.1" ry="4.2"/><path transform="translate(153 283.3)rotate(6.7)" class="k3" d="M-23,0Q0,-15.6 23,0Q0,15.6 -23,0"/><ellipse transform="translate(153 283.3)rotate(6.7)" class="nv" rx="5.5" ry="4.1"/><ellipse transform="translate(380.1 120.8)rotate(112.5)" class="k2" rx="9.3" ry="9.3"/><ellipse transform="translate(380.1 120.8)rotate(112.5)" class="nu" rx="5.1" ry="4.3"/><ellipse transform="translate(92.1 30.9)rotate(36.3)" class="k5" rx="27.7" ry="9.4"/><ellipse transform="translate(92.1 30.9)rotate(36.3)" class="nu" rx="6.6" ry="4.3"/><ellipse transform="translate(291.9 39.1)rotate(45.4)" class="k2" rx="10.2" ry="10.2"/><path transform="translate(129.6 229)rotate(50)" class="k6" d="M-28.1,0Q0,-14.4 28.1,0Q0,14.4 -28.1,0"/><ellipse transform="translate(129.6 229)rotate(50)" class="nv" rx="6.7" ry="4.1"/><path transform="translate(226.7 192.9)rotate(46.7)" class="k5" d="M-22.2,0Q0,-19 22.2,0Q0,19 -22.2,0"/><ellipse transform="translate(-4 429.3)rotate(44.2)" class="k6" rx="22.7" ry="8.4"/><path transform="translate(134.5 130.2)rotate(45.6)" class="k3" d="M-36.7,0Q0,-17.3 36.7,0Q0,17.3 -36.7,0"/><ellipse transform="translate(134.5 130.2)rotate(45.6)" class="nu" rx="6.9" ry="4.1"/><path transform="translate(220.6 329.7)rotate(165.3)" class="k6" d="M-36.9,0Q0,-17.4 36.9,0Q0,17.4 -36.9,0"/><path transform="translate(75.9 321.8)rotate(130.4)" class="k2" d="M-24.9,0Q0,-11.2 24.9,0Q0,11.2 -24.9,0"/><ellipse transform="translate(75.9 321.8)rotate(130.4)" class="nw" rx="6" ry="4.1"/><path transform="translate(46.4 304.5)rotate(142.6)" class="k7" d="M-16.6,0Q0,-19 16.6,0Q0,19 -16.6,0"/><ellipse transform="translate(46.4 304.5)rotate(142.6)" class="nv" rx="5.1" ry="4.2"/><ellipse transform="translate(0.6 458)rotate(37.7)" class="k9" rx="8.5" ry="8.5"/><ellipse transform="translate(0.6 458)rotate(37.7)" class="nu" rx="5.1" ry="4.1"/><path transform="translate(434.9 180.3)rotate(31.9)" class="k4" d="M-30.4,0Q0,-17.2 30.4,0Q0,17.2 -30.4,0"/><ellipse transform="translate(434.9 180.3)rotate(31.9)" class="nw" rx="6.9" ry="4.1"/><ellipse transform="translate(361.2 159.9)rotate(4.3)" class="k9" rx="9.7" ry="9.7"/><ellipse transform="translate(361.2 159.9)rotate(4.3)" class="nu" rx="5.1" ry="4.5"/><ellipse transform="translate(412.4 104.1)rotate(44.3)" class="k7" rx="11.2" ry="11.2"/><ellipse transform="translate(412.4 104.1)rotate(44.3)" class="nu" rx="5.1" ry="5.2"/><ellipse transform="translate(29.3 207.8)rotate(104.7)" class="k5" rx="10.3" ry="10.3"/><ellipse transform="translate(29.3 207.8)rotate(104.7)" class="nv" rx="5.1" ry="4.7"/><path transform="translate(48.7 34)rotate(157.2)" class="k3" d="M-17.7,0Q0,-14.8 17.7,0Q0,14.8 -17.7,0"/><ellipse transform="translate(48.7 34)rotate(157.2)" class="nu" rx="5.1" ry="4.1"/><path transform="translate(338.5 73.8)rotate(119.9)" class="k8" d="M-19.8,0Q0,-18.1 19.8,0Q0,18.1 -19.8,0"/><ellipse transform="translate(338.5 73.8)rotate(119.9)" class="nv" rx="5.1" ry="4.1"/><path transform="translate(423.7 432.2)rotate(112.3)" class="k8" d="M-17.1,0Q0,-10.6 17.1,0Q0,10.6 -17.1,0"/><ellipse transform="translate(423.7 432.2)rotate(112.3)" class="nu" rx="5.1" ry="4.1"/><ellipse transform="translate(435.8 405.5)rotate(65.9)" class="k7" rx="19" ry="7.3"/><ellipse transform="translate(435.8 405.5)rotate(65.9)" class="nu" rx="5.1" ry="4.1"/><path transform="translate(325.4 246.7)rotate(150.8)" class="k3" d="M-23.8,0Q0,-10.7 23.8,0Q0,10.7 -23.8,0"/><path transform="translate(263 139.8)rotate(96.8)" class="k5" d="M-33.3,0Q0,-18.5 33.3,0Q0,18.5 -33.3,0"/><ellipse transform="translate(263 139.8)rotate(96.8)" class="nv" rx="6.9" ry="4.1"/><path transform="translate(119.9 7.4)rotate(69)" class="k4" d="M-28.3,0Q0,-18.9 28.3,0Q0,18.9 -28.3,0"/><ellipse transform="translate(119.9 7.4)rotate(69)" class="nu" rx="6.8" ry="4.1"/><path transform="translate(368.1 50)rotate(37.7)" class="k6" d="M-20.7,0Q0,-15.1 20.7,0Q0,15.1 -20.7,0"/><ellipse transform="translate(434.6 324.7)rotate(77.1)" class="k9" rx="8.2" ry="8.2"/><ellipse transform="translate(434.6 324.7)rotate(77.1)" class="nv" rx="5.1" ry="4.1"/><path transform="translate(407.2 85.6)rotate(150.2)" class="k5" d="M-32,0Q0,-17.3 32,0Q0,17.3 -32,0"/><ellipse transform="translate(407.2 85.6)rotate(150.2)" class="nw" rx="6.9" ry="4.1"/><ellipse transform="translate(316.9 207.6)rotate(73.7)" class="k6" rx="10.3" ry="10.3"/><ellipse transform="translate(370.3 93.4)rotate(69.4)" class="k5" rx="27.3" ry="4.9"/><path transform="translate(159.1 47.5)rotate(41.8)" class="k6" d="M-26,0Q0,-19.4 26,0Q0,19.4 -26,0"/><ellipse transform="translate(159.1 47.5)rotate(41.8)" class="nv" rx="6.2" ry="4.3"/><ellipse transform="translate(218 212.9)rotate(63.7)" class="k7" rx="10.4" ry="10.4"/><ellipse transform="translate(2.4 374.3)rotate(39.6)" class="k6" rx="14.2" ry="9"/><ellipse transform="translate(2.4 374.3)rotate(39.6)" class="nv" rx="5.1" ry="4.1"/><path transform="translate(330.2 422.7)rotate(0.9)" class="k1" d="M-37.4,0Q0,-18.6 37.4,0Q0,18.6 -37.4,0"/><ellipse transform="translate(260.2 452.2)rotate(147.3)" class="k5" rx="11.7" ry="11.7"/><ellipse transform="translate(260.2 452.2)rotate(147.3)" class="nw" rx="5.1" ry="5.4"/><ellipse transform="translate(204.5 386)rotate(75.2)" class="k4" rx="10.2" ry="10.2"/><ellipse transform="translate(204.5 386)rotate(75.2)" class="nu" rx="5.1" ry="4.7"/><ellipse transform="translate(-3.9 -2.9)rotate(79.2)" class="k7" rx="27.6" ry="6.8"/><ellipse transform="translate(-3.9 -2.9)rotate(79.2)" class="nu" rx="6.6" ry="4.1"/><path transform="translate(306.6 126.9)rotate(167.8)" class="k5" d="M-31.4,0Q0,-16.7 31.4,0Q0,16.7 -31.4,0"/><ellipse transform="translate(306.6 126.9)rotate(167.8)" class="nu" rx="6.9" ry="4.1"/><path transform="translate(-1.2 37.1)rotate(15.5)" class="k5" d="M-23.8,0Q0,-14.3 23.8,0Q0,14.3 -23.8,0"/><ellipse transform="translate(208 281.5)rotate(86.9)" class="k9" rx="9.3" ry="9.3"/><ellipse transform="translate(208 281.5)rotate(86.9)" class="nv" rx="5.1" ry="4.3"/><ellipse transform="translate(360.9 450.9)rotate(87.6)" class="k6" rx="26" ry="7.2"/><ellipse transform="translate(360.9 450.9)rotate(87.6)" class="nu" rx="6.2" ry="4.1"/><path transform="translate(262.7 426.2)rotate(170.1)" class="k3" d="M-19.1,0Q0,-12.9 19.1,0Q0,12.9 -19.1,0"/><ellipse transform="translate(262.7 426.2)rotate(170.1)" class="nv" rx="5.1" ry="4.1"/><ellipse transform="translate(255.7 256.7)rotate(85.4)" class="k3" rx="12.3" ry="12.3"/><ellipse transform="translate(255.7 256.7)rotate(85.4)" class="nv" rx="5.1" ry="5.5"/><path transform="translate(385.2 164.7)rotate(159)" class="k4" d="M-32.1,0Q0,-12.7 32.1,0Q0,12.7 -32.1,0"/><path transform="translate(180.8 230)rotate(86.4)" class="k8" d="M-27.6,0Q0,-13 27.6,0Q0,13 -27.6,0"/><ellipse transform="translate(180.8 230)rotate(86.4)" class="nv" rx="6.6" ry="4.1"/><path transform="translate(189.9 253.9)rotate(28.1)" class="k1" d="M-34.4,0Q0,-14.7 34.4,0Q0,14.7 -34.4,0"/><ellipse transform="translate(189.9 253.9)rotate(28.1)" class="nv" rx="6.9" ry="4.1"/><ellipse transform="translate(345.4 0)rotate(155.9)" class="k4" rx="23.5" ry="4.9"/><ellipse transform="translate(345.4 0)rotate(155.9)" class="nw" rx="5.6" ry="4.1"/><ellipse transform="translate(347.7 201.5)rotate(8.9)" class="k5" rx="12.3" ry="12.3"/><path transform="translate(297.8 297.4)rotate(32.6)" class="k5" d="M-35.6,0Q0,-16.5 35.6,0Q0,16.5 -35.6,0"/><ellipse transform="translate(297.8 297.4)rotate(32.6)" class="nv" rx="6.9" ry="4.1"/><path transform="translate(393.8 375.6)rotate(24.7)" class="k1" d="M-34.1,0Q0,-19.4 34.1,0Q0,19.4 -34.1,0"/><path transform="translate(200.3 62)rotate(74.2)" class="k5" d="M-29.4,0Q0,-12.2 29.4,0Q0,12.2 -29.4,0"/><ellipse transform="translate(200.3 62)rotate(74.2)" class="nv" rx="6.9" ry="4.1"/><ellipse transform="translate(282.4 198.7)rotate(76.6)" class="k6" rx="18.1" ry="8.1"/><ellipse transform="translate(282.4 198.7)rotate(76.6)" class="nu" rx="5.1" ry="4.1"/><ellipse transform="translate(351.1 343.5)rotate(38.6)" class="k9" rx="9.7" ry="9.7"/><ellipse transform="translate(351.1 343.5)rotate(38.6)" class="nu" rx="5.1" ry="4.5"/><path transform="translate(92.3 281.1)rotate(102.4)" class="k5" d="M-24.9,0Q0,-12.3 24.9,0Q0,12.3 -24.9,0"/><ellipse transform="translate(92.3 281.1)rotate(102.4)" class="nv" rx="6" ry="4.1"/><path transform="translate(107.1 233.5)rotate(4.7)" class="k5" d="M-37.2,0Q0,-13.9 37.2,0Q0,13.9 -37.2,0"/><ellipse transform="translate(107.1 233.5)rotate(4.7)" class="nv" rx="6.9" ry="4.1"/><path transform="translate(148.4 -4.9)rotate(178.5)" class="k6" d="M-17,0Q0,-12 17,0Q0,12 -17,0"/><ellipse transform="translate(148.4 -4.9)rotate(178.5)" class="nv" rx="5.1" ry="4.1"/><path transform="translate(12.6 293.7)rotate(134.6)" class="k3" d="M-35.7,0Q0,-17.5 35.7,0Q0,17.5 -35.7,0"/><ellipse transform="translate(12.6 293.7)rotate(134.6)" class="nw" rx="6.9" ry="4.1"/><ellipse transform="translate(369.1 251)rotate(104.9)" class="k3" rx="17.9" ry="8.7"/><ellipse transform="translate(369.1 251)rotate(104.9)" class="nu" rx="5.1" ry="4.1"/><path transform="translate(432.7 67.3)rotate(164.8)" class="k7" d="M-34.4,0Q0,-16.1 34.4,0Q0,16.1 -34.4,0"/><ellipse transform="translate(432.7 67.3)rotate(164.8)" class="nv" rx="6.9" ry="4.1"/></g>
<g filter="url(#b1)"><rect x="384" y="428" width="37" height="6.5" fill="#fff"/><rect x="390" y="417" width="26" height="9" fill="#fff" opacity=".4"/></g></svg></g>
<clipPath id="c01"><rect x="101.7" y="36.0" width="71.0" height="73.7"/></clipPath>
<rect x="101.7" y="36.0" width="71.0" height="73.7" fill="#000"/>
<g clip-path="url(#c01)"><svg x="102" y="36" width="71" height="74" viewBox="0 0 435 453" preserveAspectRatio="none" overflow="visible"><g filter="url(#b1)"><ellipse transform="translate(206.2 299.4)rotate(145.9)" class="k7" rx="13.6" ry="4.6"/><ellipse transform="translate(206.2 299.4)rotate(145.9)" class="nu" rx="5.5" ry="4.5"/><ellipse transform="translate(262.6 253.4)rotate(10.6)" class="k8" rx="12" ry="12"/><ellipse transform="translate(262.6 253.4)rotate(10.6)" class="nw" rx="5.5" ry="6"/><ellipse transform="translate(28.2 313.1)rotate(164.7)" class="k7" rx="8.8" ry="8.8"/><ellipse transform="translate(28.2 313.1)rotate(164.7)" class="nv" rx="5.5" ry="4.5"/><ellipse transform="translate(45.1 190.9)rotate(9.2)" class="k3" rx="11.2" ry="11.2"/><ellipse transform="translate(45.1 190.9)rotate(9.2)" class="nw" rx="5.5" ry="5.6"/><path transform="translate(260.2 215.7)rotate(119.4)" class="k3" d="M-15.8,0Q0,-16.4 15.8,0Q0,16.4 -15.8,0"/><ellipse transform="translate(260.2 215.7)rotate(119.4)" class="nw" rx="5.5" ry="4.5"/><path transform="translate(156.6 314.5)rotate(145.8)" class="k7" d="M-17.6,0Q0,-11.8 17.6,0Q0,11.8 -17.6,0"/><ellipse transform="translate(156.6 314.5)rotate(145.8)" class="nu" rx="5.5" ry="4.5"/><path transform="translate(7.5 375.8)rotate(138.9)" class="k4" d="M-26,0Q0,-11.7 26,0Q0,11.7 -26,0"/><ellipse transform="translate(7.5 375.8)rotate(138.9)" class="nv" rx="6.8" ry="4.5"/><ellipse transform="translate(11.4 123)rotate(50.7)" class="k3" rx="21.4" ry="4.8"/><ellipse transform="translate(11.4 123)rotate(50.7)" class="nv" rx="5.6" ry="4.5"/><ellipse transform="translate(69.6 422.9)rotate(48.3)" class="k5" rx="14.4" ry="7.9"/><ellipse transform="translate(69.6 422.9)rotate(48.3)" class="nw" rx="5.5" ry="4.5"/><ellipse transform="translate(147.1 106.9)rotate(90.6)" class="k9" rx="8.5" ry="8.5"/><ellipse transform="translate(147.1 106.9)rotate(90.6)" class="nv" rx="5.5" ry="4.5"/><path transform="translate(97.1 239.1)rotate(29.2)" class="k7" d="M-28.3,0Q0,-12 28.3,0Q0,12 -28.3,0"/><ellipse transform="translate(97.1 239.1)rotate(29.2)" class="nv" rx="7.4" ry="4.5"/><ellipse transform="translate(224.3 317.2)rotate(124.9)" class="k6" rx="11.1" ry="11.1"/><ellipse transform="translate(224.3 317.2)rotate(124.9)" class="nv" rx="5.5" ry="5.6"/><path transform="translate(188.7 448.5)rotate(75.2)" class="k4" d="M-28.3,0Q0,-18.2 28.3,0Q0,18.2 -28.3,0"/><ellipse transform="translate(188.7 448.5)rotate(75.2)" class="nu" rx="7.3" ry="4.5"/><path transform="translate(163.9 40.5)rotate(112)" class="k6" d="M-21.7,0Q0,-18.3 21.7,0Q0,18.3 -21.7,0"/><ellipse transform="translate(163.9 40.5)rotate(112)" class="nv" rx="5.6" ry="4.5"/><ellipse transform="translate(104.4 183.4)rotate(125.2)" class="k7" rx="9.7" ry="9.7"/><ellipse transform="translate(8.2 220.9)rotate(58.9)" class="k3" rx="14.2" ry="7.5"/><ellipse transform="translate(-1.6 161.8)rotate(90.2)" class="k5" rx="12" ry="12"/><ellipse transform="translate(-1.6 161.8)rotate(90.2)" class="nw" rx="5.5" ry="6"/><path transform="translate(67.2 210.1)rotate(149.7)" class="k6" d="M-32.8,0Q0,-11.9 32.8,0Q0,11.9 -32.8,0"/><ellipse transform="translate(67.2 210.1)rotate(149.7)" class="nv" rx="7.5" ry="4.5"/><path transform="translate(234.4 347.5)rotate(122.5)" class="k8" d="M-29.3,0Q0,-15.8 29.3,0Q0,15.8 -29.3,0"/><ellipse transform="translate(234.4 347.5)rotate(122.5)" class="nv" rx="7.5" ry="4.5"/><ellipse transform="translate(155.6 137.2)rotate(144.6)" class="k5" rx="8.7" ry="8.7"/><ellipse transform="translate(155.6 137.2)rotate(144.6)" class="nu" rx="5.5" ry="4.5"/><path transform="translate(265.8 358.1)rotate(69.2)" class="k4" d="M-28.1,0Q0,-12 28.1,0Q0,12 -28.1,0"/><ellipse transform="translate(265.8 358.1)rotate(69.2)" class="nu" rx="7.3" ry="4.5"/><ellipse transform="translate(354.2 73.6)rotate(150.4)" class="k7" rx="15.4" ry="8.9"/><ellipse transform="translate(354.2 73.6)rotate(150.4)" class="nu" rx="5.5" ry="4.5"/><ellipse transform="translate(127 83)rotate(123.3)" class="k8" rx="16.3" ry="8.4"/><path transform="translate(194.6 239.3)rotate(114.1)" class="k1" d="M-31.9,0Q0,-14.3 31.9,0Q0,14.3 -31.9,0"/><ellipse transform="translate(194.6 239.3)rotate(114.1)" class="nv" rx="7.5" ry="4.5"/><path transform="translate(118.9 423.2)rotate(76.8)" class="k3" d="M-33.1,0Q0,-16 33.1,0Q0,16 -33.1,0"/><ellipse transform="translate(118.9 423.2)rotate(76.8)" class="nv" rx="7.5" ry="4.5"/><ellipse transform="translate(52.5 23.9)rotate(20.4)" class="k7" rx="9.5" ry="9.5"/><ellipse transform="translate(52.5 23.9)rotate(20.4)" class="nu" rx="5.5" ry="4.7"/><ellipse transform="translate(327.3 434.7)rotate(136.2)" class="k8" rx="15" ry="8.7"/><ellipse transform="translate(327.3 434.7)rotate(136.2)" class="nv" rx="5.5" ry="4.5"/><path transform="translate(236.7 141.3)rotate(137.7)" class="k5" d="M-17,0Q0,-15.3 17,0Q0,15.3 -17,0"/><path transform="translate(262.1 304.8)rotate(136.3)" class="k5" d="M-20,0Q0,-14.1 20,0Q0,14.1 -20,0"/><ellipse transform="translate(262.1 304.8)rotate(136.3)" class="nu" rx="5.5" ry="4.5"/><ellipse transform="translate(210.8 85.2)rotate(110.2)" class="k3" rx="10" ry="10"/><ellipse transform="translate(210.8 85.2)rotate(110.2)" class="nu" rx="5.5" ry="5"/><path transform="translate(323 287.6)rotate(55.8)" class="k6" d="M-26.7,0Q0,-15.2 26.7,0Q0,15.2 -26.7,0"/><ellipse transform="translate(323 287.6)rotate(55.8)" class="nv" rx="6.9" ry="4.5"/><ellipse transform="translate(86.2 144.2)rotate(118.4)" class="k5" rx="9.8" ry="9.8"/><ellipse transform="translate(86.2 144.2)rotate(118.4)" class="nw" rx="5.5" ry="4.9"/><ellipse transform="translate(293.8 41.8)rotate(78.9)" class="k5" rx="24.1" ry="9"/><ellipse transform="translate(293.8 41.8)rotate(78.9)" class="nu" rx="6.3" ry="4.5"/><path transform="translate(369.3 103)rotate(172.6)" class="k5" d="M-28.5,0Q0,-15.6 28.5,0Q0,15.6 -28.5,0"/><ellipse transform="translate(369.3 103)rotate(172.6)" class="nu" rx="7.4" ry="4.5"/><path transform="translate(312.9 159.5)rotate(174.1)" class="k6" d="M-15.7,0Q0,-17.9 15.7,0Q0,17.9 -15.7,0"/><ellipse transform="translate(312.9 159.5)rotate(174.1)" class="nv" rx="5.5" ry="4.5"/><ellipse transform="translate(62.4 382.4)rotate(9.1)" class="k6" rx="16.3" ry="5.7"/><ellipse transform="translate(62.4 382.4)rotate(9.1)" class="nu" rx="5.5" ry="4.5"/><path transform="translate(262.6 427)rotate(95.1)" class="k1" d="M-20,0Q0,-17.6 20,0Q0,17.6 -20,0"/><path transform="translate(232.5 414.7)rotate(115.9)" class="k6" d="M-28.1,0Q0,-11.3 28.1,0Q0,11.3 -28.1,0"/><ellipse transform="translate(232.5 414.7)rotate(115.9)" class="nw" rx="7.3" ry="4.5"/><path transform="translate(272 453.6)rotate(139.9)" class="k6" d="M-23.7,0Q0,-17.1 23.7,0Q0,17.1 -23.7,0"/><ellipse transform="translate(272 453.6)rotate(139.9)" class="nv" rx="6.2" ry="4.5"/><ellipse transform="translate(122.6 33)rotate(24.1)" class="k5" rx="10.8" ry="10.8"/><ellipse transform="translate(122.6 33)rotate(24.1)" class="nv" rx="5.5" ry="5.4"/><path transform="translate(174.1 300.9)rotate(135.2)" class="k2" d="M-27.1,0Q0,-16.1 27.1,0Q0,16.1 -27.1,0"/><ellipse transform="translate(174.1 300.9)rotate(135.2)" class="nv" rx="7" ry="4.5"/><ellipse transform="translate(331.2 195.8)rotate(88.2)" class="k6" rx="11.7" ry="7.3"/><ellipse transform="translate(331.2 195.8)rotate(88.2)" class="nv" rx="5.5" ry="4.5"/><ellipse transform="translate(139.7 257.2)rotate(157)" class="k3" rx="19.7" ry="9"/><ellipse transform="translate(412 21.7)rotate(21.9)" class="k6" rx="26" ry="7.5"/><ellipse transform="translate(412 21.7)rotate(21.9)" class="nu" rx="6.8" ry="4.5"/><path transform="translate(24.3 76.2)rotate(78.7)" class="k5" d="M-32.3,0Q0,-15.9 32.3,0Q0,15.9 -32.3,0"/><ellipse transform="translate(24.3 76.2)rotate(78.7)" class="nv" rx="7.5" ry="4.5"/><path transform="translate(85.7 96.5)rotate(92.6)" class="k4" d="M-17.2,0Q0,-14.1 17.2,0Q0,14.1 -17.2,0"/><ellipse transform="translate(85.7 96.5)rotate(92.6)" class="nu" rx="5.5" ry="4.5"/><ellipse transform="translate(257.7 73.1)rotate(31.6)" class="k3" rx="10.1" ry="10.1"/><path transform="translate(224.9 195.9)rotate(117)" class="k7" d="M-19.4,0Q0,-18.6 19.4,0Q0,18.6 -19.4,0"/><ellipse transform="translate(236 72.3)rotate(87.3)" class="k6" rx="11.3" ry="11.3"/><ellipse transform="translate(236 72.3)rotate(87.3)" class="nv" rx="5.5" ry="5.7"/><ellipse transform="translate(399.6 62.7)rotate(14.2)" class="k8" rx="20" ry="5.7"/><ellipse transform="translate(399.6 62.7)rotate(14.2)" class="nw" rx="5.5" ry="4.5"/><ellipse transform="translate(293 192.5)rotate(155.2)" class="k3" rx="10.2" ry="10.2"/><ellipse transform="translate(293 192.5)rotate(155.2)" class="nw" rx="5.5" ry="5.1"/><ellipse transform="translate(22.8 415.1)rotate(79)" class="k6" rx="9.3" ry="9.3"/><ellipse transform="translate(22.8 415.1)rotate(79)" class="nu" rx="5.5" ry="4.7"/><path transform="translate(368.8 243.1)rotate(4.6)" class="k7" d="M-18.9,0Q0,-12.3 18.9,0Q0,12.3 -18.9,0"/><ellipse transform="translate(368.8 243.1)rotate(4.6)" class="nw" rx="5.5" ry="4.5"/><ellipse transform="translate(439.4 44)rotate(85.9)" class="k9" rx="7.8" ry="7.8"/><ellipse transform="translate(439.4 44)rotate(85.9)" class="nu" rx="5.5" ry="4.5"/><ellipse transform="translate(326.4 377.6)rotate(56.8)" class="k2" rx="11.9" ry="11.9"/><ellipse transform="translate(326.4 377.6)rotate(56.8)" class="nw" rx="5.5" ry="5.9"/><ellipse transform="translate(134.2 325.4)rotate(178)" class="k9" rx="8.9" ry="8.9"/><ellipse transform="translate(134.2 325.4)rotate(178)" class="nv" rx="5.5" ry="4.5"/><ellipse transform="translate(323.6 100)rotate(142.5)" class="k6" rx="26.8" ry="7.6"/><ellipse transform="translate(323.6 100)rotate(142.5)" class="nu" rx="7" ry="4.5"/><ellipse transform="translate(272.1 37.1)rotate(32.1)" class="k7" rx="23.2" ry="6.1"/><ellipse transform="translate(272.1 37.1)rotate(32.1)" class="nw" rx="6" ry="4.5"/><ellipse transform="translate(185.2 81.1)rotate(9.2)" class="k4" rx="10.3" ry="10.3"/><ellipse transform="translate(185.2 81.1)rotate(9.2)" class="nw" rx="5.5" ry="5.2"/><path transform="translate(209.4 390)rotate(169.2)" class="k1" d="M-26.6,0Q0,-13.4 26.6,0Q0,13.4 -26.6,0"/><ellipse transform="translate(209.4 390)rotate(169.2)" class="nv" rx="6.9" ry="4.5"/><path transform="translate(260.7 185.5)rotate(89.4)" class="k3" d="M-18.9,0Q0,-16 18.9,0Q0,16 -18.9,0"/><ellipse transform="translate(260.7 185.5)rotate(89.4)" class="nv" rx="5.5" ry="4.5"/><path transform="translate(406.4 450.6)rotate(46.2)" class="k4" d="M-34.6,0Q0,-10.5 34.6,0Q0,10.5 -34.6,0"/><ellipse transform="translate(406.4 450.6)rotate(46.2)" class="nw" rx="7.5" ry="4.5"/><ellipse transform="translate(193.9 364.6)rotate(120.5)" class="k5" rx="14.2" ry="4.8"/><ellipse transform="translate(193.9 364.6)rotate(120.5)" class="nu" rx="5.5" ry="4.5"/><ellipse transform="translate(119.5 253.3)rotate(88)" class="k4" rx="14.7" ry="5.7"/><ellipse transform="translate(119.5 253.3)rotate(88)" class="nv" rx="5.5" ry="4.5"/><path transform="translate(20.2 97.6)rotate(0.2)" class="k2" d="M-25.3,0Q0,-10.7 25.3,0Q0,10.7 -25.3,0"/><ellipse transform="translate(20.2 97.6)rotate(0.2)" class="nu" rx="6.6" ry="4.5"/><path transform="translate(57.8 315.1)rotate(22.1)" class="k5" d="M-31.7,0Q0,-16.6 31.7,0Q0,16.6 -31.7,0"/><ellipse transform="translate(57.8 315.1)rotate(22.1)" class="nv" rx="7.5" ry="4.5"/><path transform="translate(114.4 217.5)rotate(128.9)" class="k6" d="M-28.7,0Q0,-12.6 28.7,0Q0,12.6 -28.7,0"/><ellipse transform="translate(114.4 217.5)rotate(128.9)" class="nw" rx="7.5" ry="4.5"/><ellipse transform="translate(393 117.6)rotate(158.8)" class="k4" rx="9.1" ry="9.1"/><ellipse transform="translate(393 117.6)rotate(158.8)" class="nu" rx="5.5" ry="4.6"/><path transform="translate(83.1 338.4)rotate(90.9)" class="k4" d="M-28.2,0Q0,-9.7 28.2,0Q0,9.7 -28.2,0"/><ellipse transform="translate(83.1 338.4)rotate(90.9)" class="nu" rx="7.3" ry="4.5"/><path transform="translate(161 339.4)rotate(147)" class="k3" d="M-32.1,0Q0,-16.5 32.1,0Q0,16.5 -32.1,0"/><ellipse transform="translate(161 339.4)rotate(147)" class="nv" rx="7.5" ry="4.5"/><path transform="translate(139.5 208.8)rotate(83.6)" class="k6" d="M-33.9,0Q0,-15.3 33.9,0Q0,15.3 -33.9,0"/><ellipse transform="translate(343.4 164.7)rotate(103.2)" class="k3" rx="26.6" ry="7.3"/><ellipse transform="translate(343.4 164.7)rotate(103.2)" class="nw" rx="6.9" ry="4.5"/><ellipse transform="translate(423.4 113.6)rotate(110.1)" class="k4" rx="10.2" ry="10.2"/><ellipse transform="translate(423.4 113.6)rotate(110.1)" class="nu" rx="5.5" ry="5.1"/><path transform="translate(42.4 271.5)rotate(97.6)" class="k7" d="M-26.9,0Q0,-11.1 26.9,0Q0,11.1 -26.9,0"/><ellipse transform="translate(42.4 271.5)rotate(97.6)" class="nu" rx="7" ry="4.5"/><path transform="translate(279.1 99.4)rotate(156.8)" class="k5" d="M-19.9,0Q0,-14.8 19.9,0Q0,14.8 -19.9,0"/><ellipse transform="translate(279.1 99.4)rotate(156.8)" class="nv" rx="5.5" ry="4.5"/><ellipse transform="translate(175.9 376.8)rotate(162.7)" class="k3" rx="11.4" ry="11.4"/><ellipse transform="translate(175.9 376.8)rotate(162.7)" class="nu" rx="5.5" ry="5.7"/><path transform="translate(87 -1)rotate(18.3)" class="k3" d="M-26,0Q0,-16 26,0Q0,16 -26,0"/><ellipse transform="translate(87 -1)rotate(18.3)" class="nv" rx="6.8" ry="4.5"/><path transform="translate(5.1 453.4)rotate(91.5)" class="k1" d="M-24.1,0Q0,-14.9 24.1,0Q0,14.9 -24.1,0"/><ellipse transform="translate(289.5 8.9)rotate(167)" class="k6" rx="10.3" ry="10.3"/><path transform="translate(228.7 370.3)rotate(161.7)" class="k5" d="M-32.2,0Q0,-13.3 32.2,0Q0,13.3 -32.2,0"/><ellipse transform="translate(228.7 370.3)rotate(161.7)" class="nv" rx="7.5" ry="4.5"/><ellipse transform="translate(0.3 253.9)rotate(59)" class="k4" rx="19.7" ry="5.6"/><ellipse transform="translate(0.3 253.9)rotate(59)" class="nv" rx="5.5" ry="4.5"/><path transform="translate(37.7 230.3)rotate(90.3)" class="k6" d="M-27.7,0Q0,-13.9 27.7,0Q0,13.9 -27.7,0"/><ellipse transform="translate(289.5 254.8)rotate(62.4)" class="k4" rx="16.1" ry="5"/><ellipse transform="translate(289.5 254.8)rotate(62.4)" class="nw" rx="5.5" ry="4.5"/><path transform="translate(348.2 24.6)rotate(59.6)" class="k4" d="M-36,0Q0,-18.8 36,0Q0,18.8 -36,0"/><ellipse transform="translate(96 361.1)rotate(146)" class="k6" rx="17.1" ry="6.4"/><ellipse transform="translate(96 361.1)rotate(146)" class="nv" rx="5.5" ry="4.5"/><ellipse transform="translate(223.7 112)rotate(175.8)" class="k7" rx="9.4" ry="9.4"/><ellipse transform="translate(223.7 112)rotate(175.8)" class="nu" rx="5.5" ry="4.7"/><path transform="translate(137.9 152.9)rotate(80.2)" class="k4" d="M-17.9,0Q0,-15.3 17.9,0Q0,15.3 -17.9,0"/><path transform="translate(170.1 59.7)rotate(125.4)" class="k6" d="M-29.7,0Q0,-11.3 29.7,0Q0,11.3 -29.7,0"/><ellipse transform="translate(170.1 59.7)rotate(125.4)" class="nu" rx="7.5" ry="4.5"/><path transform="translate(143.8 372.5)rotate(36)" class="k4" d="M-28.1,0Q0,-17.5 28.1,0Q0,17.5 -28.1,0"/><ellipse transform="translate(143.8 372.5)rotate(36)" class="nv" rx="7.3" ry="4.5"/><ellipse transform="translate(364.5 137.5)rotate(92.1)" class="k4" rx="20.5" ry="6.4"/><ellipse transform="translate(364.5 137.5)rotate(92.1)" class="nu" rx="5.5" ry="4.5"/><path transform="translate(71.6 175)rotate(24.7)" class="k8" d="M-17.9,0Q0,-10.9 17.9,0Q0,10.9 -17.9,0"/><ellipse transform="translate(71.6 175)rotate(24.7)" class="nv" rx="5.5" ry="4.5"/><ellipse transform="translate(131.2 232.4)rotate(173.6)" class="k6" rx="11.7" ry="11.7"/><ellipse transform="translate(131.2 232.4)rotate(173.6)" class="nu" rx="5.5" ry="5.9"/><path transform="translate(143.2 5.4)rotate(46.3)" class="k6" d="M-26.4,0Q0,-12.9 26.4,0Q0,12.9 -26.4,0"/><ellipse transform="translate(143.2 5.4)rotate(46.3)" class="nw" rx="6.9" ry="4.5"/><path transform="translate(282.8 123.7)rotate(93)" class="k6" d="M-32.2,0Q0,-10.1 32.2,0Q0,10.1 -32.2,0"/><ellipse transform="translate(282.8 123.7)rotate(93)" class="nv" rx="7.5" ry="4.5"/><ellipse transform="translate(316.7 337)rotate(47.8)" class="k6" rx="12" ry="12"/><ellipse transform="translate(316.7 337)rotate(47.8)" class="nw" rx="5.5" ry="6"/><ellipse transform="translate(162.6 406.9)rotate(54.9)" class="k5" rx="8.7" ry="8.7"/><ellipse transform="translate(162.6 406.9)rotate(54.9)" class="nw" rx="5.5" ry="4.5"/><ellipse transform="translate(246 291.5)rotate(120.5)" class="k7" rx="12.3" ry="12.3"/><ellipse transform="translate(246 291.5)rotate(120.5)" class="nv" rx="5.5" ry="6"/><path transform="translate(253.1 -0.7)rotate(156.5)" class="k6" d="M-28.2,0Q0,-9.6 28.2,0Q0,9.6 -28.2,0"/><ellipse transform="translate(253.1 -0.7)rotate(156.5)" class="nv" rx="7.3" ry="4.5"/><path transform="translate(86.4 309.8)rotate(32.6)" class="k3" d="M-35.7,0Q0,-18.2 35.7,0Q0,18.2 -35.7,0"/><ellipse transform="translate(86.4 309.8)rotate(32.6)" class="nw" rx="7.5" ry="4.5"/><ellipse transform="translate(122.6 381.2)rotate(35.5)" class="k6" rx="8.8" ry="8.8"/><path transform="translate(291.5 329.5)rotate(155.9)" class="k4" d="M-21.1,0Q0,-13.7 21.1,0Q0,13.7 -21.1,0"/><ellipse transform="translate(291.5 329.5)rotate(155.9)" class="nu" rx="5.5" ry="4.5"/><ellipse transform="translate(171.4 252)rotate(99.6)" class="k6" rx="15.3" ry="6.4"/><ellipse transform="translate(171.4 252)rotate(99.6)" class="nv" rx="5.5" ry="4.5"/><ellipse transform="translate(93.4 24.4)rotate(155.3)" class="k6" rx="24.9" ry="8.4"/><ellipse transform="translate(93.4 24.4)rotate(155.3)" class="nu" rx="6.5" ry="4.5"/><path transform="translate(152.3 87.2)rotate(67.8)" class="k8" d="M-34.7,0Q0,-18.6 34.7,0Q0,18.6 -34.7,0"/><ellipse transform="translate(326.6 313.8)rotate(94.7)" class="k1" rx="10.7" ry="10.7"/><ellipse transform="translate(326.6 313.8)rotate(94.7)" class="nv" rx="5.5" ry="5.3"/><ellipse transform="translate(311.7 219.1)rotate(75.4)" class="k4" rx="11" ry="11"/><ellipse transform="translate(311.7 219.1)rotate(75.4)" class="nu" rx="5.5" ry="5.5"/><path transform="translate(58.9 255.6)rotate(159.3)" class="k3" d="M-23.4,0Q0,-13 23.4,0Q0,13 -23.4,0"/><ellipse transform="translate(58.9 255.6)rotate(159.3)" class="nv" rx="6.1" ry="4.5"/><path transform="translate(265.6 402.2)rotate(156.9)" class="k5" d="M-26.7,0Q0,-18.5 26.7,0Q0,18.5 -26.7,0"/><ellipse transform="translate(265.6 402.2)rotate(156.9)" class="nu" rx="6.9" ry="4.5"/><ellipse transform="translate(43.4 365.5)rotate(135.4)" class="k6" rx="9.2" ry="9.2"/><ellipse transform="translate(43.4 365.5)rotate(135.4)" class="nv" rx="5.5" ry="4.6"/><ellipse transform="translate(114.2 309.5)rotate(19)" class="k5" rx="21.8" ry="5.3"/><ellipse transform="translate(114.2 309.5)rotate(19)" class="nv" rx="5.7" ry="4.5"/><path transform="translate(122.8 450.5)rotate(156.2)" class="k6" d="M-23.2,0Q0,-11.2 23.2,0Q0,11.2 -23.2,0"/><ellipse transform="translate(122.8 450.5)rotate(156.2)" class="nv" rx="6" ry="4.5"/><ellipse transform="translate(435.6 259.4)rotate(135.9)" class="k5" rx="11.9" ry="11.9"/><ellipse transform="translate(435.6 259.4)rotate(135.9)" class="nv" rx="5.5" ry="5.9"/><ellipse transform="translate(88.2 391.5)rotate(87.5)" class="k6" rx="11.3" ry="11.3"/><ellipse transform="translate(88.2 391.5)rotate(87.5)" class="nw" rx="5.5" ry="5.7"/><ellipse transform="translate(-3.3 313.5)rotate(16.1)" class="k5" rx="11.7" ry="11.7"/><ellipse transform="translate(-3.3 313.5)rotate(16.1)" class="nu" rx="5.5" ry="5.9"/><ellipse transform="translate(246.4 27.8)rotate(165.5)" class="k3" rx="9.2" ry="9.2"/><ellipse transform="translate(9 332.3)rotate(46.5)" class="k4" rx="11.1" ry="11.1"/><ellipse transform="translate(9 332.3)rotate(46.5)" class="nw" rx="5.5" ry="5.6"/><ellipse transform="translate(232.4 232.8)rotate(23.6)" class="k6" rx="10.6" ry="10.6"/><ellipse transform="translate(232.4 232.8)rotate(23.6)" class="nv" rx="5.5" ry="5.3"/><path transform="translate(266.1 151.2)rotate(109.6)" class="k4" d="M-32.6,0Q0,-17.9 32.6,0Q0,17.9 -32.6,0"/><ellipse transform="translate(266.1 151.2)rotate(109.6)" class="nu" rx="7.5" ry="4.5"/><ellipse transform="translate(123.6 132.3)rotate(28.2)" class="k4" rx="10.5" ry="10.5"/><ellipse transform="translate(123.6 132.3)rotate(28.2)" class="nu" rx="5.5" ry="5.2"/><path transform="translate(304.5 111.2)rotate(107.5)" class="k8" d="M-19.6,0Q0,-15.8 19.6,0Q0,15.8 -19.6,0"/><ellipse transform="translate(304.5 111.2)rotate(107.5)" class="nv" rx="5.5" ry="4.5"/><ellipse transform="translate(52.2 154.6)rotate(19.9)" class="k4" rx="10" ry="10"/><ellipse transform="translate(52.2 154.6)rotate(19.9)" class="nu" rx="5.5" ry="5"/><ellipse transform="translate(245 100.3)rotate(34.6)" class="k6" rx="24.8" ry="7.3"/><ellipse transform="translate(43.1 47.2)rotate(9.8)" class="k7" rx="10.6" ry="10.6"/><ellipse transform="translate(43.1 47.2)rotate(9.8)" class="nu" rx="5.5" ry="5.3"/><ellipse transform="translate(196.5 62.3)rotate(127.7)" class="k5" rx="13.7" ry="9"/><ellipse transform="translate(196.5 62.3)rotate(127.7)" class="nu" rx="5.5" ry="4.5"/><ellipse transform="translate(194.8 334.5)rotate(168.5)" class="k4" rx="11.2" ry="11.2"/><ellipse transform="translate(194.8 334.5)rotate(168.5)" class="nw" rx="5.5" ry="5.6"/><ellipse transform="translate(194.3 172.7)rotate(113.6)" class="k2" rx="8.9" ry="8.9"/><ellipse transform="translate(194.3 172.7)rotate(113.6)" class="nu" rx="5.5" ry="4.5"/><ellipse transform="translate(159.5 274.5)rotate(153.1)" class="k6" rx="10.3" ry="10.3"/><ellipse transform="translate(159.5 274.5)rotate(153.1)" class="nv" rx="5.5" ry="5.1"/><path transform="translate(36.1 438.6)rotate(13.8)" class="k5" d="M-19.9,0Q0,-9.9 19.9,0Q0,9.9 -19.9,0"/><ellipse transform="translate(36.1 438.6)rotate(13.8)" class="nv" rx="5.5" ry="4.5"/><ellipse transform="translate(166.8 179.8)rotate(120.5)" class="k7" rx="13.9" ry="8.1"/><ellipse transform="translate(166.8 179.8)rotate(120.5)" class="nw" rx="5.5" ry="4.5"/><path transform="translate(186.8 399.2)rotate(157.9)" class="k8" d="M-18.8,0Q0,-11.4 18.8,0Q0,11.4 -18.8,0"/><ellipse transform="translate(186.8 399.2)rotate(157.9)" class="nv" rx="5.5" ry="4.5"/><ellipse transform="translate(301 377.9)rotate(98.5)" class="k7" rx="8.9" ry="8.9"/><ellipse transform="translate(301 377.9)rotate(98.5)" class="nu" rx="5.5" ry="4.5"/><path transform="translate(172.9 121.4)rotate(72.9)" class="k4" d="M-25.4,0Q0,-11.5 25.4,0Q0,11.5 -25.4,0"/><ellipse transform="translate(172.9 121.4)rotate(72.9)" class="nu" rx="6.6" ry="4.5"/><ellipse transform="translate(405.8 408.7)rotate(101.9)" class="k6" rx="11.3" ry="11.3"/><ellipse transform="translate(405.8 408.7)rotate(101.9)" class="nv" rx="5.5" ry="5.7"/><path transform="translate(41.6 95.2)rotate(129.5)" class="k3" d="M-20.3,0Q0,-10.5 20.3,0Q0,10.5 -20.3,0"/><ellipse transform="translate(41.6 95.2)rotate(129.5)" class="nw" rx="5.5" ry="4.5"/><path transform="translate(312.3 75.8)rotate(41.3)" class="k3" d="M-22.1,0Q0,-18.8 22.1,0Q0,18.8 -22.1,0"/><ellipse transform="translate(312.3 75.8)rotate(41.3)" class="nw" rx="5.7" ry="4.5"/><path transform="translate(43.7 336.4)rotate(112.4)" class="k1" d="M-32.3,0Q0,-11.2 32.3,0Q0,11.2 -32.3,0"/><ellipse transform="translate(43.7 336.4)rotate(112.4)" class="nv" rx="7.5" ry="4.5"/><ellipse transform="translate(108.3 338.9)rotate(119.2)" class="k7" rx="11.4" ry="11.4"/><ellipse transform="translate(108.3 338.9)rotate(119.2)" class="nv" rx="5.5" ry="5.7"/><ellipse transform="translate(14 185)rotate(170.2)" class="k5" rx="9.6" ry="9.6"/><ellipse transform="translate(14 185)rotate(170.2)" class="nu" rx="5.5" ry="4.8"/><path transform="translate(55 120.9)rotate(57.6)" class="k8" d="M-31,0Q0,-15.3 31,0Q0,15.3 -31,0"/><ellipse transform="translate(55 120.9)rotate(57.6)" class="nu" rx="7.5" ry="4.5"/><ellipse transform="translate(140.4 283.6)rotate(177)" class="k4" rx="10.3" ry="10.3"/><path transform="translate(145.6 26.7)rotate(4.6)" class="k3" d="M-17.5,0Q0,-17.7 17.5,0Q0,17.7 -17.5,0"/><ellipse transform="translate(145.6 26.7)rotate(4.6)" class="nu" rx="5.5" ry="4.5"/><path transform="translate(205.2 13.6)rotate(46.7)" class="k3" d="M-23.8,0Q0,-16.4 23.8,0Q0,16.4 -23.8,0"/><ellipse transform="translate(205.2 13.6)rotate(46.7)" class="nu" rx="6.2" ry="4.5"/><ellipse transform="translate(381.2 16.2)rotate(150.4)" class="k4" rx="10.9" ry="10.9"/><ellipse transform="translate(381.2 16.2)rotate(150.4)" class="nu" rx="5.5" ry="5.4"/><ellipse transform="translate(32.7 167.4)rotate(138)" class="k6" rx="10.4" ry="10.4"/><ellipse transform="translate(32.7 167.4)rotate(138)" class="nu" rx="5.5" ry="5.2"/><path transform="translate(91.6 116.4)rotate(67)" class="k6" d="M-30.6,0Q0,-17.2 30.6,0Q0,17.2 -30.6,0"/><ellipse transform="translate(91.6 116.4)rotate(67)" class="nv" rx="7.5" ry="4.5"/><ellipse transform="translate(112.7 164)rotate(125)" class="k6" rx="10.4" ry="10.4"/><ellipse transform="translate(112.7 164)rotate(125)" class="nw" rx="5.5" ry="5.2"/><ellipse transform="translate(91.8 73.2)rotate(127.4)" class="k3" rx="10.3" ry="10.3"/><ellipse transform="translate(91.8 73.2)rotate(127.4)" class="nw" rx="5.5" ry="5.2"/><path transform="translate(189 427)rotate(147)" class="k5" d="M-31.4,0Q0,-17 31.4,0Q0,17 -31.4,0"/><ellipse transform="translate(189 427)rotate(147)" class="nv" rx="7.5" ry="4.5"/><path transform="translate(386.4 341.7)rotate(50)" class="k8" d="M-31.2,0Q0,-16.1 31.2,0Q0,16.1 -31.2,0"/><ellipse transform="translate(386.4 341.7)rotate(50)" class="nu" rx="7.5" ry="4.5"/><ellipse transform="translate(102 292.7)rotate(137)" class="k5" rx="11.2" ry="11.2"/><ellipse transform="translate(102 292.7)rotate(137)" class="nu" rx="5.5" ry="5.6"/><ellipse transform="translate(189.2 101.6)rotate(49.3)" class="k4" rx="17.3" ry="6.1"/><path transform="translate(3.6 290)rotate(66.4)" class="k5" d="M-35.8,0Q0,-15.9 35.8,0Q0,15.9 -35.8,0"/><ellipse transform="translate(3.6 290)rotate(66.4)" class="nw" rx="7.5" ry="4.5"/><ellipse transform="translate(221.7 -4.8)rotate(151.9)" class="k4" rx="9.4" ry="9.4"/><ellipse transform="translate(221.7 -4.8)rotate(151.9)" class="nv" rx="5.5" ry="4.7"/><path transform="translate(238.4 175)rotate(143.3)" class="k7" d="M-34,0Q0,-11.8 34,0Q0,11.8 -34,0"/><path transform="translate(261.2 333.3)rotate(103.5)" class="k6" d="M-30.2,0Q0,-15.6 30.2,0Q0,15.6 -30.2,0"/><ellipse transform="translate(261.2 333.3)rotate(103.5)" class="nv" rx="7.5" ry="4.5"/><ellipse transform="translate(166.5 441.2)rotate(46.2)" class="k2" rx="9.9" ry="9.9"/><ellipse transform="translate(85.9 221.8)rotate(94.4)" class="k1" rx="10.6" ry="10.6"/><ellipse transform="translate(85.9 221.8)rotate(94.4)" class="nv" rx="5.5" ry="5.3"/><ellipse transform="translate(141.9 395.3)rotate(74.4)" class="k3" rx="17.9" ry="6.2"/><ellipse transform="translate(141.9 395.3)rotate(74.4)" class="nv" rx="5.5" ry="4.5"/><path transform="translate(40.6 293.5)rotate(169.9)" class="k5" d="M-33.2,0Q0,-13.7 33.2,0Q0,13.7 -33.2,0"/><ellipse transform="translate(40.6 293.5)rotate(169.9)" class="nv" rx="7.5" ry="4.5"/><path transform="translate(-4.8 75)rotate(108.4)" class="k7" d="M-28.8,0Q0,-17.2 28.8,0Q0,17.2 -28.8,0"/><ellipse transform="translate(-4.8 75)rotate(108.4)" class="nu" rx="7.5" ry="4.5"/><ellipse transform="translate(316.9 129.9)rotate(176.1)" class="k4" rx="24" ry="6.6"/><ellipse transform="translate(316.9 129.9)rotate(176.1)" class="nu" rx="6.2" ry="4.5"/><path transform="translate(178.4 198.1)rotate(26.3)" class="k2" d="M-34.5,0Q0,-10.2 34.5,0Q0,10.2 -34.5,0"/><ellipse transform="translate(178.4 198.1)rotate(26.3)" class="nw" rx="7.5" ry="4.5"/><path transform="translate(317 33.5)rotate(62.3)" class="k4" d="M-23.8,0Q0,-17.9 23.8,0Q0,17.9 -23.8,0"/><ellipse transform="translate(317 33.5)rotate(62.3)" class="nw" rx="6.2" ry="4.5"/><ellipse transform="translate(288.1 68.7)rotate(71.5)" class="k5" rx="22.7" ry="8.7"/><ellipse transform="translate(288.1 68.7)rotate(71.5)" class="nv" rx="5.9" ry="4.5"/><path transform="translate(12.3 3.2)rotate(16.2)" class="k6" d="M-31.2,0Q0,-12.5 31.2,0Q0,12.5 -31.2,0"/><ellipse transform="translate(12.3 3.2)rotate(16.2)" class="nv" rx="7.5" ry="4.5"/><path transform="translate(125.9 -4.9)rotate(39.5)" class="k1" d="M-31.5,0Q0,-14.1 31.5,0Q0,14.1 -31.5,0"/><ellipse transform="translate(125.9 -4.9)rotate(39.5)" class="nv" rx="7.5" ry="4.5"/><ellipse transform="translate(342.7 352.2)rotate(160.1)" class="k7" rx="25.6" ry="5.3"/><ellipse transform="translate(342.7 352.2)rotate(160.1)" class="nv" rx="6.7" ry="4.5"/><ellipse transform="translate(169.1 217.3)rotate(108.8)" class="k9" rx="8.2" ry="8.2"/><ellipse transform="translate(169.1 217.3)rotate(108.8)" class="nv" rx="5.5" ry="4.5"/><ellipse transform="translate(434.5 79.9)rotate(42.5)" class="k7" rx="22.7" ry="4.6"/><ellipse transform="translate(434.5 79.9)rotate(42.5)" class="nv" rx="5.9" ry="4.5"/><path transform="translate(362 301)rotate(50.2)" class="k3" d="M-15.5,0Q0,-11.5 15.5,0Q0,11.5 -15.5,0"/><ellipse transform="translate(33.3 144.2)rotate(14.9)" class="k6" rx="13.1" ry="8.2"/><ellipse transform="translate(33.3 144.2)rotate(14.9)" class="nu" rx="5.5" ry="4.5"/><ellipse transform="translate(292.7 281.9)rotate(113.7)" class="k5" rx="14.4" ry="5.4"/><ellipse transform="translate(292.7 281.9)rotate(113.7)" class="nu" rx="5.5" ry="4.5"/><path transform="translate(226.7 440)rotate(163.2)" class="k7" d="M-18.1,0Q0,-9.8 18.1,0Q0,9.8 -18.1,0"/><ellipse transform="translate(226.7 440)rotate(163.2)" class="nu" rx="5.5" ry="4.5"/><ellipse transform="translate(195.5 134.2)rotate(82.4)" class="k9" rx="10.4" ry="10.4"/><ellipse transform="translate(195.5 134.2)rotate(82.4)" class="nv" rx="5.5" ry="5.2"/><path transform="translate(228.6 280.7)rotate(78.2)" class="k5" d="M-17.8,0Q0,-15.7 17.8,0Q0,15.7 -17.8,0"/><ellipse transform="translate(228.6 280.7)rotate(78.2)" class="nu" rx="5.5" ry="4.5"/><path transform="translate(86.9 51.5)rotate(177.9)" class="k6" d="M-21.3,0Q0,-18.3 21.3,0Q0,18.3 -21.3,0"/><ellipse transform="translate(86.9 51.5)rotate(177.9)" class="nv" rx="5.5" ry="4.5"/><ellipse transform="translate(166.6 20.3)rotate(146.4)" class="k4" rx="18.2" ry="4.6"/><ellipse transform="translate(166.6 20.3)rotate(146.4)" class="nu" rx="5.5" ry="4.5"/><ellipse transform="translate(160.6 360.1)rotate(120.2)" class="k6" rx="12.1" ry="5.9"/><path transform="translate(138.1 46.9)rotate(143.6)" class="k6" d="M-20.9,0Q0,-16.3 20.9,0Q0,16.3 -20.9,0"/><ellipse transform="translate(138.1 46.9)rotate(143.6)" class="nu" rx="5.5" ry="4.5"/><path transform="translate(313.7 7)rotate(68.4)" class="k5" d="M-32.7,0Q0,-14.3 32.7,0Q0,14.3 -32.7,0"/><ellipse transform="translate(30.5 115.5)rotate(9.7)" class="k2" rx="10.4" ry="10.4"/><ellipse transform="translate(30.5 115.5)rotate(9.7)" class="nu" rx="5.5" ry="5.2"/><path transform="translate(230.5 43.9)rotate(59.6)" class="k7" d="M-34.5,0Q0,-14.9 34.5,0Q0,14.9 -34.5,0"/><ellipse transform="translate(230.5 43.9)rotate(59.6)" class="nv" rx="7.5" ry="4.5"/><path transform="translate(244.6 318.5)rotate(159.9)" class="k6" d="M-29.4,0Q0,-13.5 29.4,0Q0,13.5 -29.4,0"/><ellipse transform="translate(244.6 318.5)rotate(159.9)" class="nv" rx="7.5" ry="4.5"/><ellipse transform="translate(331.1 241.7)rotate(63.3)" class="k4" rx="11" ry="11"/><ellipse transform="translate(331.1 241.7)rotate(63.3)" class="nu" rx="5.5" ry="5.5"/><ellipse transform="translate(34.7 392)rotate(8.1)" class="k4" rx="21.6" ry="7.8"/><ellipse transform="translate(34.7 392)rotate(8.1)" class="nu" rx="5.6" ry="4.5"/><path transform="translate(108.5 50.1)rotate(149)" class="k5" d="M-25.5,0Q0,-18.2 25.5,0Q0,18.2 -25.5,0"/><ellipse transform="translate(108.5 50.1)rotate(149)" class="nw" rx="6.6" ry="4.5"/><ellipse transform="translate(260.2 121.4)rotate(160.6)" class="k5" rx="11.7" ry="11.7"/><ellipse transform="translate(260.2 121.4)rotate(160.6)" class="nu" rx="5.5" ry="5.8"/><path transform="translate(62.7 453.5)rotate(162.1)" class="k5" d="M-34,0Q0,-16.9 34,0Q0,16.9 -34,0"/><ellipse transform="translate(62.7 453.5)rotate(162.1)" class="nv" rx="7.5" ry="4.5"/><path transform="translate(23.3 257)rotate(167.4)" class="k2" d="M-21.4,0Q0,-18.9 21.4,0Q0,18.9 -21.4,0"/><ellipse transform="translate(23.3 257)rotate(167.4)" class="nv" rx="5.6" ry="4.5"/><ellipse transform="translate(74.4 241.5)rotate(49.1)" class="k6" rx="11.4" ry="11.4"/><ellipse transform="translate(74.4 241.5)rotate(49.1)" class="nv" rx="5.5" ry="5.7"/><ellipse transform="translate(214.9 252.9)rotate(7.1)" class="k5" rx="26" ry="6.3"/><ellipse transform="translate(214.9 252.9)rotate(7.1)" class="nu" rx="6.8" ry="4.5"/><path transform="translate(12.7 29.2)rotate(128.2)" class="k6" d="M-28.2,0Q0,-12.1 28.2,0Q0,12.1 -28.2,0"/><ellipse transform="translate(194.3 40.6)rotate(101.9)" class="k2" rx="12.1" ry="12.1"/><ellipse transform="translate(194.3 40.6)rotate(101.9)" class="nu" rx="5.5" ry="6"/><ellipse transform="translate(140 172.9)rotate(53.4)" class="k4" rx="11.5" ry="11.5"/><ellipse transform="translate(140 172.9)rotate(53.4)" class="nv" rx="5.5" ry="5.8"/><ellipse transform="translate(363.4 436)rotate(97.9)" class="k4" rx="25.3" ry="7.1"/><ellipse transform="translate(363.4 436)rotate(97.9)" class="nw" rx="6.6" ry="4.5"/><path transform="translate(392.8 156.8)rotate(126.8)" class="k5" d="M-27,0Q0,-9.8 27,0Q0,9.8 -27,0"/><ellipse transform="translate(392.8 156.8)rotate(126.8)" class="nu" rx="7" ry="4.5"/><path transform="translate(128.7 346)rotate(20.3)" class="k3" d="M-33.9,0Q0,-13.5 33.9,0Q0,13.5 -33.9,0"/><ellipse transform="translate(128.7 346)rotate(20.3)" class="nu" rx="7.5" ry="4.5"/><path transform="translate(278 227.9)rotate(123.4)" class="k5" d="M-21.5,0Q0,-10.6 21.5,0Q0,10.6 -21.5,0"/><ellipse transform="translate(122 106.5)rotate(5)" class="k4" rx="10.7" ry="10.7"/><ellipse transform="translate(122 106.5)rotate(5)" class="nv" rx="5.5" ry="5.3"/><ellipse transform="translate(266 276.7)rotate(162.1)" class="k6" rx="9.2" ry="9.2"/><ellipse transform="translate(64.7 282.3)rotate(122.3)" class="k2" rx="9.6" ry="9.6"/><path transform="translate(175.5 141.8)rotate(56.6)" class="k5" d="M-24,0Q0,-18.4 24,0Q0,18.4 -24,0"/><ellipse transform="translate(175.5 141.8)rotate(56.6)" class="nw" rx="6.2" ry="4.5"/><ellipse transform="translate(-3.4 419.4)rotate(124.3)" class="k9" rx="9.6" ry="9.6"/><ellipse transform="translate(-3.4 419.4)rotate(124.3)" class="nv" rx="5.5" ry="4.8"/><ellipse transform="translate(65.9 70)rotate(64.4)" class="k3" rx="10.9" ry="10.9"/><ellipse transform="translate(65.9 70)rotate(64.4)" class="nu" rx="5.5" ry="5.4"/><path transform="translate(203 209.4)rotate(115.1)" class="k7" d="M-25.3,0Q0,-16.8 25.3,0Q0,16.8 -25.3,0"/><ellipse transform="translate(203 209.4)rotate(115.1)" class="nu" rx="6.6" ry="4.5"/><ellipse transform="translate(192.6 259.9)rotate(86.4)" class="k3" rx="10.8" ry="10.8"/><ellipse transform="translate(192.6 259.9)rotate(86.4)" class="nu" rx="5.5" ry="5.4"/><ellipse transform="translate(90.7 432.2)rotate(9.1)" class="k4" rx="8.7" ry="8.7"/><ellipse transform="translate(90.7 432.2)rotate(9.1)" class="nv" rx="5.5" ry="4.5"/><path transform="translate(208.8 151.9)rotate(58.6)" class="k8" d="M-19.6,0Q0,-16.3 19.6,0Q0,16.3 -19.6,0"/><ellipse transform="translate(208.8 151.9)rotate(58.6)" class="nv" rx="5.5" ry="4.5"/><ellipse transform="translate(300.4 420.6)rotate(16.5)" class="k7" rx="26.3" ry="8.1"/><ellipse transform="translate(300.4 420.6)rotate(16.5)" class="nu" rx="6.8" ry="4.5"/><ellipse transform="translate(290.5 161.1)rotate(119.1)" class="k2" rx="10.1" ry="10.1"/><ellipse transform="translate(290.5 161.1)rotate(119.1)" class="nu" rx="5.5" ry="5.1"/><path transform="translate(105.7 404.7)rotate(57.1)" class="k5" d="M-18.4,0Q0,-10.6 18.4,0Q0,10.6 -18.4,0"/><ellipse transform="translate(105.7 404.7)rotate(57.1)" class="nu" rx="5.5" ry="4.5"/><path transform="translate(143.6 419.7)rotate(170.2)" class="k8" d="M-31.1,0Q0,-13.1 31.1,0Q0,13.1 -31.1,0"/><ellipse transform="translate(143.6 419.7)rotate(170.2)" class="nu" rx="7.5" ry="4.5"/><ellipse transform="translate(355.6 272.7)rotate(57.6)" class="k7" rx="9.1" ry="9.1"/><ellipse transform="translate(114.6 277)rotate(173.9)" class="k5" rx="25.1" ry="4.7"/><ellipse transform="translate(114.6 277)rotate(173.9)" class="nu" rx="6.5" ry="4.5"/><path transform="translate(438.9 173.3)rotate(122.4)" class="k3" d="M-19.8,0Q0,-18 19.8,0Q0,18 -19.8,0"/><ellipse transform="translate(438.9 173.3)rotate(122.4)" class="nv" rx="5.5" ry="4.5"/><path transform="translate(246.5 388.1)rotate(51.6)" class="k6" d="M-16.7,0Q0,-17.1 16.7,0Q0,17.1 -16.7,0"/><ellipse transform="translate(246.5 388.1)rotate(51.6)" class="nv" rx="5.5" ry="4.5"/><path transform="translate(209.7 350.2)rotate(31)" class="k7" d="M-19.8,0Q0,-14 19.8,0Q0,14 -19.8,0"/><ellipse transform="translate(211.2 418.7)rotate(127.3)" class="k6" rx="9.3" ry="9.3"/><ellipse transform="translate(211.2 418.7)rotate(127.3)" class="nu" rx="5.5" ry="4.6"/><ellipse transform="translate(151.5 231)rotate(148)" class="k3" rx="23.8" ry="7.8"/><ellipse transform="translate(151.5 231)rotate(148)" class="nw" rx="6.2" ry="4.5"/><ellipse transform="translate(85.3 265.1)rotate(136.8)" class="k5" rx="23.7" ry="5.9"/><ellipse transform="translate(85.3 265.1)rotate(136.8)" class="nv" rx="6.2" ry="4.5"/><ellipse transform="translate(164.1 159.4)rotate(61.8)" class="k4" rx="8.8" ry="8.8"/><ellipse transform="translate(164.1 159.4)rotate(61.8)" class="nv" rx="5.5" ry="4.5"/><path transform="translate(432.8 364.9)rotate(161.1)" class="k3" d="M-22.9,0Q0,-9.7 22.9,0Q0,9.7 -22.9,0"/><path transform="translate(236 258.9)rotate(105.5)" class="k6" d="M-20.6,0Q0,-14.1 20.6,0Q0,14.1 -20.6,0"/><ellipse transform="translate(236 258.9)rotate(105.5)" class="nu" rx="5.5" ry="4.5"/><path transform="translate(24 350.9)rotate(142.2)" class="k4" d="M-32.8,0Q0,-11.5 32.8,0Q0,11.5 -32.8,0"/><ellipse transform="translate(24 350.9)rotate(142.2)" class="nu" rx="7.5" ry="4.5"/><path transform="translate(88.9 200.8)rotate(120.7)" class="k5" d="M-19.1,0Q0,-13 19.1,0Q0,13 -19.1,0"/><ellipse transform="translate(88.9 200.8)rotate(120.7)" class="nu" rx="5.5" ry="4.5"/></g>
<g filter="url(#b1)"><rect x="384" y="428" width="37" height="6.5" fill="#fff"/><rect x="390" y="417" width="26" height="9" fill="#fff" opacity=".4"/></g></svg></g>
<clipPath id="c02"><rect x="178.3" y="36.0" width="71.0" height="73.7"/></clipPath>
<rect x="178.3" y="36.0" width="71.0" height="73.7" fill="#000"/>
<g clip-path="url(#c02)"><svg x="178" y="36" width="71" height="74" viewBox="0 0 435 453" preserveAspectRatio="none" overflow="visible"><g filter="url(#b1)"><ellipse transform="translate(373 81)rotate(95.6)" class="k6" rx="12.3" ry="5"/><ellipse transform="translate(373 81)rotate(95.6)" class="nv" rx="4.7" ry="3.8"/><path transform="translate(265.7 1.7)rotate(148.7)" class="k5" d="M-16.3,0Q0,-15.9 16.3,0Q0,15.9 -16.3,0"/><ellipse transform="translate(265.7 1.7)rotate(148.7)" class="nv" rx="4.7" ry="3.8"/><path transform="translate(417.4 362.5)rotate(77.3)" class="k5" d="M-29.5,0Q0,-12.7 29.5,0Q0,12.7 -29.5,0"/><path transform="translate(186.3 140.3)rotate(99.8)" class="k6" d="M-28.9,0Q0,-15.3 28.9,0Q0,15.3 -28.9,0"/><ellipse transform="translate(171.1 55.6)rotate(13.2)" class="k7" rx="8.9" ry="8.9"/><ellipse transform="translate(171.1 55.6)rotate(13.2)" class="nv" rx="4.7" ry="3.8"/><ellipse transform="translate(419.4 175.4)rotate(150.9)" class="k5" rx="10.4" ry="10.4"/><ellipse transform="translate(419.4 175.4)rotate(150.9)" class="nw" rx="4.7" ry="4.4"/><ellipse transform="translate(389.4 366.9)rotate(174.8)" class="k4" rx="22.2" ry="5.6"/><ellipse transform="translate(389.4 366.9)rotate(174.8)" class="nv" rx="4.9" ry="3.8"/><ellipse transform="translate(316.6 93)rotate(61.4)" class="k2" rx="10.1" ry="10.1"/><ellipse transform="translate(316.6 93)rotate(61.4)" class="nv" rx="4.7" ry="4.3"/><ellipse transform="translate(68.2 311.7)rotate(97.8)" class="k9" rx="7.9" ry="7.9"/><ellipse transform="translate(68.2 311.7)rotate(97.8)" class="nv" rx="4.7" ry="3.8"/><ellipse transform="translate(147.7 37.9)rotate(107.5)" class="k9" rx="8" ry="8"/><ellipse transform="translate(147.7 37.9)rotate(107.5)" class="nu" rx="4.7" ry="3.8"/><path transform="translate(158.2 381.4)rotate(85.4)" class="k1" d="M-19.9,0Q0,-12.7 19.9,0Q0,12.7 -19.9,0"/><ellipse transform="translate(158.2 381.4)rotate(85.4)" class="nv" rx="4.7" ry="3.8"/><ellipse transform="translate(400.1 336.9)rotate(64)" class="k4" rx="9.6" ry="9.6"/><ellipse transform="translate(12 179.1)rotate(34.3)" class="k5" rx="10.3" ry="10.3"/><ellipse transform="translate(12 179.1)rotate(34.3)" class="nv" rx="4.7" ry="4.4"/><ellipse transform="translate(241.8 149.1)rotate(148.2)" class="k4" rx="16.3" ry="4.6"/><ellipse transform="translate(241.8 149.1)rotate(148.2)" class="nv" rx="4.7" ry="3.8"/><ellipse transform="translate(130 174.8)rotate(178.2)" class="k9" rx="8.2" ry="8.2"/><ellipse transform="translate(392.3 247.5)rotate(86.2)" class="k4" rx="10.3" ry="5.1"/><ellipse transform="translate(392.3 247.5)rotate(86.2)" class="nv" rx="4.7" ry="3.8"/><path transform="translate(226.4 421.2)rotate(20.8)" class="k6" d="M-24.3,0Q0,-13.8 24.3,0Q0,13.8 -24.3,0"/><ellipse transform="translate(226.4 421.2)rotate(20.8)" class="nu" rx="5.4" ry="3.8"/><ellipse transform="translate(232.6 371.2)rotate(9.4)" class="k9" rx="8.7" ry="8.7"/><ellipse transform="translate(232.6 371.2)rotate(9.4)" class="nw" rx="4.7" ry="3.8"/><ellipse transform="translate(439.8 369.6)rotate(137.2)" class="k7" rx="18.9" ry="7.4"/><ellipse transform="translate(439.8 369.6)rotate(137.2)" class="nu" rx="4.7" ry="3.8"/><ellipse transform="translate(142.7 428.9)rotate(137.1)" class="k2" rx="11" ry="11"/><ellipse transform="translate(142.7 428.9)rotate(137.1)" class="nu" rx="4.7" ry="4.7"/><ellipse transform="translate(233.8 84.8)rotate(147.8)" class="k4" rx="16.9" ry="4.8"/><ellipse transform="translate(233.8 84.8)rotate(147.8)" class="nu" rx="4.7" ry="3.8"/><path transform="translate(388.9 225.1)rotate(77.1)" class="k4" d="M-29.2,0Q0,-10.4 29.2,0Q0,10.4 -29.2,0"/><ellipse transform="translate(388.9 225.1)rotate(77.1)" class="nu" rx="6.4" ry="3.8"/><ellipse transform="translate(211.5 276.5)rotate(61.2)" class="k4" rx="10.2" ry="10.2"/><ellipse transform="translate(211.5 276.5)rotate(61.2)" class="nv" rx="4.7" ry="4.3"/><ellipse transform="translate(291.9 268.5)rotate(115.5)" class="k6" rx="12.1" ry="7"/><path transform="translate(192.8 436)rotate(14)" class="k7" d="M-26.2,0Q0,-16.2 26.2,0Q0,16.2 -26.2,0"/><ellipse transform="translate(192.8 436)rotate(14)" class="nv" rx="5.8" ry="3.8"/><ellipse transform="translate(433.8 202.3)rotate(26.2)" class="k2" rx="8.4" ry="8.4"/><ellipse transform="translate(433.8 202.3)rotate(26.2)" class="nv" rx="4.7" ry="3.8"/><ellipse transform="translate(410.4 131.4)rotate(12)" class="k5" rx="8.1" ry="8.1"/><ellipse transform="translate(410.4 131.4)rotate(12)" class="nu" rx="4.7" ry="3.8"/><ellipse transform="translate(89.5 68.7)rotate(159)" class="k5" rx="9.6" ry="9.6"/><ellipse transform="translate(89.5 68.7)rotate(159)" class="nw" rx="4.7" ry="4.1"/><path transform="translate(271.3 235.2)rotate(75.9)" class="k5" d="M-28.2,0Q0,-10 28.2,0Q0,10 -28.2,0"/><ellipse transform="translate(271.3 235.2)rotate(75.9)" class="nu" rx="6.2" ry="3.8"/><ellipse transform="translate(38.2 296.9)rotate(39.5)" class="k6" rx="10.4" ry="10.4"/><ellipse transform="translate(38.2 296.9)rotate(39.5)" class="nv" rx="4.7" ry="4.4"/><ellipse transform="translate(40.9 199.4)rotate(42)" class="k5" rx="10.1" ry="10.1"/><ellipse transform="translate(359.2 202.2)rotate(27.2)" class="k1" rx="12.2" ry="4.1"/><ellipse transform="translate(359.2 202.2)rotate(27.2)" class="nv" rx="4.7" ry="3.8"/><ellipse transform="translate(270.7 169.3)rotate(100)" class="k4" rx="8.6" ry="8.6"/><path transform="translate(366.1 270.1)rotate(130.1)" class="k7" d="M-28.2,0Q0,-12.3 28.2,0Q0,12.3 -28.2,0"/><ellipse transform="translate(366.1 270.1)rotate(130.1)" class="nu" rx="6.2" ry="3.8"/><ellipse transform="translate(150.6 337.7)rotate(102.2)" class="k9" rx="7.8" ry="7.8"/><ellipse transform="translate(150.6 337.7)rotate(102.2)" class="nu" rx="4.7" ry="3.8"/><path transform="translate(352.3 335.4)rotate(130.3)" class="k7" d="M-21.5,0Q0,-8.9 21.5,0Q0,8.9 -21.5,0"/><path transform="translate(173.9 399.9)rotate(80.6)" class="k3" d="M-31.5,0Q0,-9.3 31.5,0Q0,9.3 -31.5,0"/><ellipse transform="translate(223 230.4)rotate(75.6)" class="k4" rx="8" ry="8"/><ellipse transform="translate(223 230.4)rotate(75.6)" class="nu" rx="4.7" ry="3.8"/><ellipse transform="translate(217.2 441.2)rotate(53.1)" class="k4" rx="9.6" ry="9.6"/><ellipse transform="translate(217.2 441.2)rotate(53.1)" class="nu" rx="4.7" ry="4.1"/><ellipse transform="translate(422.8 303.4)rotate(129.7)" class="k9" rx="8.1" ry="8.1"/><path transform="translate(74.9 255.8)rotate(121.9)" class="k8" d="M-14.1,0Q0,-13.8 14.1,0Q0,13.8 -14.1,0"/><ellipse transform="translate(329.3 44.5)rotate(129.6)" class="k5" rx="13.5" ry="6.8"/><ellipse transform="translate(342.7 263.6)rotate(24.9)" class="k5" rx="13.6" ry="5.8"/><ellipse transform="translate(342.7 263.6)rotate(24.9)" class="nu" rx="4.7" ry="3.8"/><path transform="translate(290.6 411.2)rotate(84)" class="k5" d="M-24.2,0Q0,-15.9 24.2,0Q0,15.9 -24.2,0"/><path transform="translate(421.3 152.3)rotate(157.3)" class="k5" d="M-20,0Q0,-16 20,0Q0,16 -20,0"/><ellipse transform="translate(421.3 152.3)rotate(157.3)" class="nu" rx="4.7" ry="3.8"/><ellipse transform="translate(418 67)rotate(146.2)" class="k5" rx="11.2" ry="6.4"/><ellipse transform="translate(418 67)rotate(146.2)" class="nw" rx="4.7" ry="3.8"/><path transform="translate(166 16.7)rotate(12.8)" class="k6" d="M-31.8,0Q0,-12.5 31.8,0Q0,12.5 -31.8,0"/><ellipse transform="translate(166 16.7)rotate(12.8)" class="nu" rx="6.4" ry="3.8"/><ellipse transform="translate(422.6 18.2)rotate(156)" class="k3" rx="20.7" ry="7.2"/><ellipse transform="translate(422.6 18.2)rotate(156)" class="nu" rx="4.7" ry="3.8"/><ellipse transform="translate(126.1 254.3)rotate(160.9)" class="k5" rx="16.1" ry="6.7"/><ellipse transform="translate(126.1 254.3)rotate(160.9)" class="nw" rx="4.7" ry="3.8"/><ellipse transform="translate(298.2 441.4)rotate(32.1)" class="k7" rx="9.1" ry="9.1"/><ellipse transform="translate(298.2 441.4)rotate(32.1)" class="nu" rx="4.7" ry="3.8"/><ellipse transform="translate(302.3 217.1)rotate(111.1)" class="k7" rx="10.5" ry="10.5"/><ellipse transform="translate(302.3 217.1)rotate(111.1)" class="nv" rx="4.7" ry="4.5"/><ellipse transform="translate(153.3 263.4)rotate(162.6)" class="k4" rx="8.4" ry="8.4"/><ellipse transform="translate(153.3 263.4)rotate(162.6)" class="nu" rx="4.7" ry="3.8"/><path transform="translate(356.7 393.4)rotate(88.1)" class="k3" d="M-27,0Q0,-9.6 27,0Q0,9.6 -27,0"/><ellipse transform="translate(356.7 393.4)rotate(88.1)" class="nu" rx="6" ry="3.8"/><path transform="translate(194.7 198.2)rotate(67.4)" class="k4" d="M-17.2,0Q0,-11 17.2,0Q0,11 -17.2,0"/><ellipse transform="translate(194.7 198.2)rotate(67.4)" class="nw" rx="4.7" ry="3.8"/><path transform="translate(76.2 141)rotate(46.6)" class="k6" d="M-16.3,0Q0,-10.5 16.3,0Q0,10.5 -16.3,0"/><ellipse transform="translate(250.2 210.2)rotate(43)" class="k9" rx="8.9" ry="8.9"/><ellipse transform="translate(250.2 210.2)rotate(43)" class="nu" rx="4.7" ry="3.8"/><path transform="translate(187.1 32.1)rotate(52.9)" class="k4" d="M-25,0Q0,-11.9 25,0Q0,11.9 -25,0"/><path transform="translate(377.2 333.8)rotate(157.1)" class="k3" d="M-20.4,0Q0,-15 20.4,0Q0,15 -20.4,0"/><ellipse transform="translate(377.2 333.8)rotate(157.1)" class="nu" rx="4.7" ry="3.8"/><path transform="translate(167.5 295.7)rotate(135.4)" class="k7" d="M-22.6,0Q0,-12.8 22.6,0Q0,12.8 -22.6,0"/><ellipse transform="translate(167.5 295.7)rotate(135.4)" class="nu" rx="5" ry="3.8"/><ellipse transform="translate(383.2 418.9)rotate(141.3)" class="k4" rx="8.5" ry="8.5"/><ellipse transform="translate(383.2 418.9)rotate(141.3)" class="nu" rx="4.7" ry="3.8"/><ellipse transform="translate(241.3 4.2)rotate(164.6)" class="k7" rx="10.7" ry="10.7"/><ellipse transform="translate(241.3 4.2)rotate(164.6)" class="nv" rx="4.7" ry="4.6"/><path transform="translate(204 113.1)rotate(17.7)" class="k3" d="M-25.2,0Q0,-14.4 25.2,0Q0,14.4 -25.2,0"/><ellipse transform="translate(204 113.1)rotate(17.7)" class="nu" rx="5.6" ry="3.8"/><path transform="translate(141 235.2)rotate(39.3)" class="k2" d="M-20.8,0Q0,-11.5 20.8,0Q0,11.5 -20.8,0"/><ellipse transform="translate(141 235.2)rotate(39.3)" class="nw" rx="4.7" ry="3.8"/><path transform="translate(326.1 228.1)rotate(127.9)" class="k3" d="M-18.3,0Q0,-15.7 18.3,0Q0,15.7 -18.3,0"/><ellipse transform="translate(326.1 228.1)rotate(127.9)" class="nu" rx="4.7" ry="3.8"/><ellipse transform="translate(403.1 314.7)rotate(149.6)" class="k4" rx="8.5" ry="8.5"/><ellipse transform="translate(403.1 314.7)rotate(149.6)" class="nv" rx="4.7" ry="3.8"/><path transform="translate(290.3 131.2)rotate(92)" class="k2" d="M-14.7,0Q0,-12 14.7,0Q0,12 -14.7,0"/><ellipse transform="translate(290.3 131.2)rotate(92)" class="nv" rx="4.7" ry="3.8"/><path transform="translate(290.4 294.9)rotate(117.2)" class="k5" d="M-19.5,0Q0,-9.6 19.5,0Q0,9.6 -19.5,0"/><ellipse transform="translate(290.4 294.9)rotate(117.2)" class="nv" rx="4.7" ry="3.8"/><ellipse transform="translate(428.4 39)rotate(172.6)" class="k6" rx="7.8" ry="7.8"/><ellipse transform="translate(428.4 39)rotate(172.6)" class="nv" rx="4.7" ry="3.8"/><path transform="translate(8.1 252.6)rotate(60.2)" class="k4" d="M-22.9,0Q0,-16.9 22.9,0Q0,16.9 -22.9,0"/><ellipse transform="translate(265.3 78)rotate(31.8)" class="k8" rx="23" ry="6.3"/><ellipse transform="translate(302.8 77.5)rotate(19.8)" class="k9" rx="7" ry="7"/><ellipse transform="translate(366 110.5)rotate(95.7)" class="k1" rx="10.4" ry="10.4"/><ellipse transform="translate(366 110.5)rotate(95.7)" class="nv" rx="4.7" ry="4.4"/><ellipse transform="translate(391 0.7)rotate(121.7)" class="k3" rx="13.7" ry="4.3"/><ellipse transform="translate(391 0.7)rotate(121.7)" class="nv" rx="4.7" ry="3.8"/><ellipse transform="translate(167.9 445.7)rotate(172.8)" class="k3" rx="18" ry="5.7"/><ellipse transform="translate(167.9 445.7)rotate(172.8)" class="nv" rx="4.7" ry="3.8"/><path transform="translate(252.5 121.3)rotate(127.1)" class="k8" d="M-13.9,0Q0,-10.7 13.9,0Q0,10.7 -13.9,0"/><ellipse transform="translate(252.5 121.3)rotate(127.1)" class="nu" rx="4.7" ry="3.8"/><ellipse transform="translate(119.9 334.2)rotate(174.5)" class="k7" rx="9.7" ry="9.7"/><ellipse transform="translate(119.9 334.2)rotate(174.5)" class="nu" rx="4.7" ry="4.1"/><ellipse transform="translate(88 229.1)rotate(15)" class="k7" rx="10.2" ry="10.2"/><ellipse transform="translate(88 229.1)rotate(15)" class="nw" rx="4.7" ry="4.3"/><path transform="translate(363.3 47.4)rotate(85)" class="k5" d="M-13.8,0Q0,-13.2 13.8,0Q0,13.2 -13.8,0"/><ellipse transform="translate(363.3 47.4)rotate(85)" class="nu" rx="4.7" ry="3.8"/><ellipse transform="translate(365.7 370.7)rotate(95.7)" class="k9" rx="8.1" ry="8.1"/><ellipse transform="translate(365.7 370.7)rotate(95.7)" class="nv" rx="4.7" ry="3.8"/><ellipse transform="translate(355.3 132.9)rotate(48)" class="k5" rx="8.1" ry="8.1"/><ellipse transform="translate(355.3 132.9)rotate(48)" class="nw" rx="4.7" ry="3.8"/><ellipse transform="translate(-2.3 371.9)rotate(24.7)" class="k2" rx="10.2" ry="10.2"/><ellipse transform="translate(-2.3 371.9)rotate(24.7)" class="nu" rx="4.7" ry="4.3"/><ellipse transform="translate(248.9 300)rotate(110.2)" class="k5" rx="9" ry="9"/><ellipse transform="translate(248.9 300)rotate(110.2)" class="nw" rx="4.7" ry="3.8"/><ellipse transform="translate(389.7 157.1)rotate(108)" class="k6" rx="9.2" ry="9.2"/><path transform="translate(261.1 264.6)rotate(66.4)" class="k5" d="M-16.6,0Q0,-12.8 16.6,0Q0,12.8 -16.6,0"/><ellipse transform="translate(261.1 264.6)rotate(66.4)" class="nu" rx="4.7" ry="3.8"/><ellipse transform="translate(360.7 310.1)rotate(168.7)" class="k6" rx="8.4" ry="8.4"/><ellipse transform="translate(360.7 310.1)rotate(168.7)" class="nu" rx="4.7" ry="3.8"/><ellipse transform="translate(304.8 181.8)rotate(123.1)" class="k2" rx="10.2" ry="10.2"/><ellipse transform="translate(304.8 181.8)rotate(123.1)" class="nw" rx="4.7" ry="4.3"/><path transform="translate(225.7 292.6)rotate(37.4)" class="k4" d="M-23.3,0Q0,-11.7 23.3,0Q0,11.7 -23.3,0"/><ellipse transform="translate(225.7 292.6)rotate(37.4)" class="nu" rx="5.1" ry="3.8"/><path transform="translate(433.4 348.8)rotate(21.7)" class="k3" d="M-26.1,0Q0,-11 26.1,0Q0,11 -26.1,0"/><ellipse transform="translate(433.4 348.8)rotate(21.7)" class="nv" rx="5.8" ry="3.8"/><ellipse transform="translate(186.7 325.8)rotate(116.1)" class="k4" rx="19.8" ry="4.5"/><path transform="translate(392.3 207.2)rotate(149.3)" class="k6" d="M-31.5,0Q0,-12.6 31.5,0Q0,12.6 -31.5,0"/><ellipse transform="translate(392.3 207.2)rotate(149.3)" class="nw" rx="6.4" ry="3.8"/><ellipse transform="translate(291.8 161)rotate(113.4)" class="k7" rx="8.6" ry="8.6"/><ellipse transform="translate(306.3 47.5)rotate(86.8)" class="k7" rx="21.3" ry="5.7"/><ellipse transform="translate(306.3 47.5)rotate(86.8)" class="nv" rx="4.7" ry="3.8"/><ellipse transform="translate(54.3 414.2)rotate(0.6)" class="k4" rx="10.1" ry="10.1"/><ellipse transform="translate(54.3 414.2)rotate(0.6)" class="nv" rx="4.7" ry="4.3"/><path transform="translate(337.3 213.5)rotate(12.8)" class="k3" d="M-31.1,0Q0,-10.6 31.1,0Q0,10.6 -31.1,0"/><ellipse transform="translate(337.3 213.5)rotate(12.8)" class="nw" rx="6.4" ry="3.8"/><path transform="translate(279.7 348.2)rotate(98.6)" class="k6" d="M-31.5,0Q0,-15.6 31.5,0Q0,15.6 -31.5,0"/><ellipse transform="translate(279.7 348.2)rotate(98.6)" class="nv" rx="6.4" ry="3.8"/><path transform="translate(413.7 260.1)rotate(161.5)" class="k2" d="M-29.7,0Q0,-10.8 29.7,0Q0,10.8 -29.7,0"/><ellipse transform="translate(413.7 260.1)rotate(161.5)" class="nu" rx="6.4" ry="3.8"/><ellipse transform="translate(326.3 66.1)rotate(141.2)" class="k4" rx="11" ry="7.5"/><ellipse transform="translate(326.3 66.1)rotate(141.2)" class="nv" rx="4.7" ry="3.8"/><ellipse transform="translate(349.2 158.3)rotate(39.6)" class="k4" rx="9.2" ry="9.2"/><path transform="translate(160.4 92.7)rotate(46.3)" class="k3" d="M-21.4,0Q0,-9.6 21.4,0Q0,9.6 -21.4,0"/><ellipse transform="translate(82.7 404.4)rotate(54.9)" class="k6" rx="8.6" ry="8.6"/><ellipse transform="translate(82.7 404.4)rotate(54.9)" class="nu" rx="4.7" ry="3.8"/><ellipse transform="translate(172.6 234)rotate(163.7)" class="k9" rx="7.5" ry="7.5"/><ellipse transform="translate(172.6 234)rotate(163.7)" class="nu" rx="4.7" ry="3.8"/><ellipse transform="translate(117.7 367.2)rotate(112.6)" class="k5" rx="10.7" ry="10.7"/><ellipse transform="translate(216.7 314.6)rotate(95.1)" class="k6" rx="9.7" ry="9.7"/><ellipse transform="translate(216.7 314.6)rotate(95.1)" class="nv" rx="4.7" ry="4.1"/><ellipse transform="translate(426.6 280.2)rotate(173.8)" class="k6" rx="9.8" ry="9.8"/><ellipse transform="translate(426.6 280.2)rotate(173.8)" class="nv" rx="4.7" ry="4.2"/><ellipse transform="translate(324.4 278.4)rotate(121.1)" class="k6" rx="14.9" ry="7.7"/><ellipse transform="translate(324.4 278.4)rotate(121.1)" class="nw" rx="4.7" ry="3.8"/><path transform="translate(310.3 119.8)rotate(89.9)" class="k4" d="M-20.1,0Q0,-8.9 20.1,0Q0,8.9 -20.1,0"/><ellipse transform="translate(310.3 119.8)rotate(89.9)" class="nu" rx="4.7" ry="3.8"/><path transform="translate(353.6 11.8)rotate(64.4)" class="k2" d="M-32.1,0Q0,-9.6 32.1,0Q0,9.6 -32.1,0"/><ellipse transform="translate(353.6 11.8)rotate(64.4)" class="nw" rx="6.4" ry="3.8"/><ellipse transform="translate(303.3 12.3)rotate(170.2)" class="k4" rx="10.3" ry="10.3"/><ellipse transform="translate(303.3 12.3)rotate(170.2)" class="nu" rx="4.7" ry="4.4"/><ellipse transform="translate(96.6 278)rotate(38.2)" class="k6" rx="10.4" ry="10.4"/><ellipse transform="translate(96.6 278)rotate(38.2)" class="nu" rx="4.7" ry="4.4"/><ellipse transform="translate(389.8 270.1)rotate(137.2)" class="k8" rx="8.8" ry="8.8"/><ellipse transform="translate(389.8 270.1)rotate(137.2)" class="nu" rx="4.7" ry="3.8"/><path transform="translate(243 254.2)rotate(42.5)" class="k5" d="M-30.4,0Q0,-16.8 30.4,0Q0,16.8 -30.4,0"/><ellipse transform="translate(243 254.2)rotate(42.5)" class="nu" rx="6.4" ry="3.8"/><path transform="translate(9.2 328.5)rotate(134.8)" class="k6" d="M-28.9,0Q0,-12.3 28.9,0Q0,12.3 -28.9,0"/><ellipse transform="translate(9.2 328.5)rotate(134.8)" class="nv" rx="6.4" ry="3.8"/><path transform="translate(286.1 249.2)rotate(99.3)" class="k1" d="M-24,0Q0,-12.3 24,0Q0,12.3 -24,0"/><ellipse transform="translate(286.1 249.2)rotate(99.3)" class="nv" rx="5.3" ry="3.8"/><ellipse transform="translate(327.7 455.7)rotate(78.4)" class="k8" rx="9.2" ry="9.2"/><ellipse transform="translate(327.7 455.7)rotate(78.4)" class="nv" rx="4.7" ry="3.9"/><ellipse transform="translate(338.1 428.2)rotate(97.4)" class="k5" rx="9.2" ry="9.2"/><ellipse transform="translate(326 169.4)rotate(75.9)" class="k4" rx="22.8" ry="6.7"/><ellipse transform="translate(326 169.4)rotate(75.9)" class="nu" rx="5" ry="3.8"/><ellipse transform="translate(264.7 41)rotate(124.3)" class="k4" rx="8.2" ry="8.2"/><ellipse transform="translate(264.7 41)rotate(124.3)" class="nv" rx="4.7" ry="3.8"/><ellipse transform="translate(60.5 14.9)rotate(137)" class="k5" rx="8.3" ry="8.3"/><ellipse transform="translate(60.5 14.9)rotate(137)" class="nv" rx="4.7" ry="3.8"/><ellipse transform="translate(111.6 12.7)rotate(91.5)" class="k4" rx="9.1" ry="9.1"/><ellipse transform="translate(266.8 432.3)rotate(107.1)" class="k9" rx="8.1" ry="8.1"/><ellipse transform="translate(266.8 432.3)rotate(107.1)" class="nu" rx="4.7" ry="3.8"/><ellipse transform="translate(328 393.4)rotate(0.2)" class="k2" rx="13.8" ry="5.4"/><ellipse transform="translate(328 393.4)rotate(0.2)" class="nu" rx="4.7" ry="3.8"/><ellipse transform="translate(212.4 162.2)rotate(144.8)" class="k4" rx="8.5" ry="8.5"/><ellipse transform="translate(212.4 162.2)rotate(144.8)" class="nu" rx="4.7" ry="3.8"/><ellipse transform="translate(191.7 55.5)rotate(99)" class="k5" rx="23.7" ry="4.3"/><ellipse transform="translate(191.7 55.5)rotate(99)" class="nu" rx="5.2" ry="3.8"/><ellipse transform="translate(257.6 318.5)rotate(162.4)" class="k6" rx="8.7" ry="8.7"/><ellipse transform="translate(257.6 318.5)rotate(162.4)" class="nw" rx="4.7" ry="3.8"/><path transform="translate(328.2 302.8)rotate(174.9)" class="k5" d="M-18.9,0Q0,-16.1 18.9,0Q0,16.1 -18.9,0"/><ellipse transform="translate(328.2 302.8)rotate(174.9)" class="nv" rx="4.7" ry="3.8"/><ellipse transform="translate(135.8 286.8)rotate(40.1)" class="k2" rx="9.9" ry="9.9"/><ellipse transform="translate(135.8 286.8)rotate(40.1)" class="nv" rx="4.7" ry="4.2"/><path transform="translate(262.1 147.5)rotate(134.9)" class="k5" d="M-27.9,0Q0,-12.8 27.9,0Q0,12.8 -27.9,0"/><path transform="translate(345.5 239.7)rotate(119.4)" class="k3" d="M-27.1,0Q0,-9.8 27.1,0Q0,9.8 -27.1,0"/><ellipse transform="translate(345.5 239.7)rotate(119.4)" class="nw" rx="6" ry="3.8"/><ellipse transform="translate(384 59.9)rotate(3.5)" class="k4" rx="9.1" ry="9.1"/><ellipse transform="translate(384 59.9)rotate(3.5)" class="nu" rx="4.7" ry="3.9"/><ellipse transform="translate(216 196.9)rotate(38.7)" class="k5" rx="8.1" ry="8.1"/><ellipse transform="translate(216 196.9)rotate(38.7)" class="nu" rx="4.7" ry="3.8"/><ellipse transform="translate(388 110.3)rotate(122.1)" class="k4" rx="8.8" ry="8.8"/><ellipse transform="translate(388 110.3)rotate(122.1)" class="nu" rx="4.7" ry="3.8"/><ellipse transform="translate(201.6 358.3)rotate(98.5)" class="k9" rx="7" ry="7"/><ellipse transform="translate(201.6 358.3)rotate(98.5)" class="nu" rx="4.7" ry="3.8"/><path transform="translate(308.4 144)rotate(162.1)" class="k3" d="M-27.6,0Q0,-11.9 27.6,0Q0,11.9 -27.6,0"/><ellipse transform="translate(308.4 144)rotate(162.1)" class="nu" rx="6.1" ry="3.8"/><ellipse transform="translate(421.2 89)rotate(178.4)" class="k4" rx="7.7" ry="7.7"/><ellipse transform="translate(421.2 89)rotate(178.4)" class="nu" rx="4.7" ry="3.8"/><path transform="translate(422.4 219.2)rotate(3.5)" class="k5" d="M-23.9,0Q0,-13.4 23.9,0Q0,13.4 -23.9,0"/><ellipse transform="translate(422.4 219.2)rotate(3.5)" class="nv" rx="5.3" ry="3.8"/><ellipse transform="translate(119.6 310.9)rotate(154)" class="k5" rx="10.5" ry="10.5"/><ellipse transform="translate(119.6 310.9)rotate(154)" class="nw" rx="4.7" ry="4.5"/><ellipse transform="translate(308.9 299.1)rotate(55.4)" class="k4" rx="9.4" ry="9.4"/><ellipse transform="translate(308.9 299.1)rotate(55.4)" class="nu" rx="4.7" ry="4"/><ellipse transform="translate(191.7 90.7)rotate(26.5)" class="k5" rx="8.3" ry="8.3"/><ellipse transform="translate(191.7 90.7)rotate(26.5)" class="nu" rx="4.7" ry="3.8"/><path transform="translate(142.8 307.5)rotate(126.9)" class="k2" d="M-29.1,0Q0,-11.3 29.1,0Q0,11.3 -29.1,0"/><ellipse transform="translate(142.8 307.5)rotate(126.9)" class="nw" rx="6.4" ry="3.8"/><path transform="translate(71.2 104.4)rotate(24.3)" class="k5" d="M-23.3,0Q0,-10.3 23.3,0Q0,10.3 -23.3,0"/><ellipse transform="translate(71.2 104.4)rotate(24.3)" class="nv" rx="5.2" ry="3.8"/><path transform="translate(430.8 240.3)rotate(136.8)" class="k3" d="M-19.3,0Q0,-10.9 19.3,0Q0,10.9 -19.3,0"/><ellipse transform="translate(231.6 116)rotate(24.9)" class="k5" rx="19.7" ry="7.2"/><path transform="translate(14.6 -2.9)rotate(144.2)" class="k3" d="M-20.8,0Q0,-14.5 20.8,0Q0,14.5 -20.8,0"/><ellipse transform="translate(14.6 -2.9)rotate(144.2)" class="nv" rx="4.7" ry="3.8"/><ellipse transform="translate(283.3 201.3)rotate(52.5)" class="k9" rx="8.4" ry="8.4"/><ellipse transform="translate(283.3 201.3)rotate(52.5)" class="nu" rx="4.7" ry="3.8"/><path transform="translate(417.2 387.2)rotate(80.9)" class="k3" d="M-17.1,0Q0,-9.6 17.1,0Q0,9.6 -17.1,0"/><ellipse transform="translate(417.2 387.2)rotate(80.9)" class="nu" rx="4.7" ry="3.8"/><ellipse transform="translate(391.5 136.4)rotate(14.1)" class="k6" rx="12.2" ry="4.8"/><ellipse transform="translate(118.6 78.2)rotate(43.4)" class="k4" rx="11" ry="11"/><ellipse transform="translate(118.6 78.2)rotate(43.4)" class="nw" rx="4.7" ry="4.7"/><path transform="translate(38.7 57.7)rotate(5.4)" class="k3" d="M-18.3,0Q0,-13 18.3,0Q0,13 -18.3,0"/><ellipse transform="translate(38.7 57.7)rotate(5.4)" class="nw" rx="4.7" ry="3.8"/><ellipse transform="translate(434.2 427.3)rotate(108.1)" class="k7" rx="11" ry="11"/><ellipse transform="translate(434.2 427.3)rotate(108.1)" class="nu" rx="4.7" ry="4.7"/><path transform="translate(336.6 90.3)rotate(106.1)" class="k5" d="M-20.1,0Q0,-10.1 20.1,0Q0,10.1 -20.1,0"/><ellipse transform="translate(336.6 90.3)rotate(106.1)" class="nv" rx="4.7" ry="3.8"/><ellipse transform="translate(237.3 323.6)rotate(11.1)" class="k9" rx="7.6" ry="7.6"/><ellipse transform="translate(237.3 323.6)rotate(11.1)" class="nu" rx="4.7" ry="3.8"/><ellipse transform="translate(349.6 66.2)rotate(118.2)" class="k7" rx="10.9" ry="10.9"/><ellipse transform="translate(349.6 66.2)rotate(118.2)" class="nu" rx="4.7" ry="4.7"/><ellipse transform="translate(319.2 250)rotate(124.8)" class="k2" rx="10.6" ry="10.6"/><ellipse transform="translate(182.4 265.9)rotate(85.2)" class="k6" rx="9.4" ry="9.4"/><ellipse transform="translate(182.4 265.9)rotate(85.2)" class="nu" rx="4.7" ry="4"/><ellipse transform="translate(404.5 30.7)rotate(142.7)" class="k6" rx="19.6" ry="7.5"/><path transform="translate(317.3 342.3)rotate(59.2)" class="k5" d="M-26.8,0Q0,-13.1 26.8,0Q0,13.1 -26.8,0"/><path transform="translate(216.5 249.1)rotate(142.9)" class="k6" d="M-28.2,0Q0,-12.4 28.2,0Q0,12.4 -28.2,0"/><ellipse transform="translate(216.5 249.1)rotate(142.9)" class="nw" rx="6.2" ry="3.8"/><ellipse transform="translate(392.9 452.7)rotate(177.8)" class="k4" rx="10.1" ry="10.1"/><ellipse transform="translate(328 187.6)rotate(36.1)" class="k2" rx="10.2" ry="10.2"/><ellipse transform="translate(328 187.6)rotate(36.1)" class="nv" rx="4.7" ry="4.3"/><ellipse transform="translate(270.1 386)rotate(148.7)" class="k7" rx="16.1" ry="5.9"/><ellipse transform="translate(270.1 386)rotate(148.7)" class="nv" rx="4.7" ry="3.8"/><ellipse transform="translate(246.3 385.7)rotate(178.7)" class="k1" rx="10.5" ry="10.5"/><ellipse transform="translate(246.3 385.7)rotate(178.7)" class="nv" rx="4.7" ry="4.5"/><path transform="translate(184.9 178)rotate(16.3)" class="k5" d="M-17.8,0Q0,-15.1 17.8,0Q0,15.1 -17.8,0"/><ellipse transform="translate(184.9 178)rotate(16.3)" class="nu" rx="4.7" ry="3.8"/><ellipse transform="translate(173.5 121.1)rotate(20.7)" class="k6" rx="8" ry="8"/><ellipse transform="translate(173.5 121.1)rotate(20.7)" class="nu" rx="4.7" ry="3.8"/><ellipse transform="translate(438.7 1.4)rotate(94.5)" class="k6" rx="10.8" ry="10.8"/><ellipse transform="translate(438.7 1.4)rotate(94.5)" class="nw" rx="4.7" ry="4.6"/><ellipse transform="translate(232.8 31.2)rotate(22.7)" class="k4" rx="7.8" ry="7.8"/><ellipse transform="translate(232.8 31.2)rotate(22.7)" class="nv" rx="4.7" ry="3.8"/><ellipse transform="translate(372.5 24.9)rotate(79)" class="k3" rx="17.5" ry="6.5"/><ellipse transform="translate(372.5 24.9)rotate(79)" class="nv" rx="4.7" ry="3.8"/><ellipse transform="translate(432.3 456.1)rotate(97.7)" class="k5" rx="19.1" ry="6.1"/><ellipse transform="translate(432.3 456.1)rotate(97.7)" class="nu" rx="4.7" ry="3.8"/><ellipse transform="translate(210.4 339.2)rotate(152.2)" class="k7" rx="15.9" ry="5.2"/><path transform="translate(363.9 427.5)rotate(87.6)" class="k6" d="M-14.6,0Q0,-10.2 14.6,0Q0,10.2 -14.6,0"/><ellipse transform="translate(190.7 -2.5)rotate(77)" class="k3" rx="8" ry="8"/><ellipse transform="translate(190.7 -2.5)rotate(77)" class="nu" rx="4.7" ry="3.8"/><ellipse transform="translate(44.1 348)rotate(100.6)" class="k1" rx="10.7" ry="10.7"/><ellipse transform="translate(336.5 366.2)rotate(63.6)" class="k4" rx="19.6" ry="5"/><ellipse transform="translate(336.5 366.2)rotate(63.6)" class="nu" rx="4.7" ry="3.8"/><ellipse transform="translate(291 33.1)rotate(52.5)" class="k7" rx="19.2" ry="4.5"/><ellipse transform="translate(291 33.1)rotate(52.5)" class="nu" rx="4.7" ry="3.8"/><ellipse transform="translate(173.5 159.3)rotate(67.2)" class="k9" rx="9" ry="9"/><ellipse transform="translate(173.5 159.3)rotate(67.2)" class="nu" rx="4.7" ry="3.8"/><ellipse transform="translate(270 97)rotate(153.6)" class="k6" rx="10" ry="10"/><ellipse transform="translate(270 97)rotate(153.6)" class="nu" rx="4.7" ry="4.2"/><ellipse transform="translate(382.4 180.2)rotate(107.4)" class="k4" rx="7.7" ry="7.7"/><ellipse transform="translate(382.4 180.2)rotate(107.4)" class="nv" rx="4.7" ry="3.8"/><ellipse transform="translate(146.2 5.8)rotate(64.9)" class="k5" rx="12.7" ry="7.2"/><ellipse transform="translate(146.2 5.8)rotate(64.9)" class="nw" rx="4.7" ry="3.8"/><path transform="translate(333.6 113.1)rotate(149.9)" class="k5" d="M-20.6,0Q0,-11.3 20.6,0Q0,11.3 -20.6,0"/><ellipse transform="translate(333.6 113.1)rotate(149.9)" class="nw" rx="4.7" ry="3.8"/><ellipse transform="translate(263 454.9)rotate(23.3)" class="k4" rx="8.6" ry="8.6"/><ellipse transform="translate(263 454.9)rotate(23.3)" class="nu" rx="4.7" ry="3.8"/><path transform="translate(160.2 203.9)rotate(101.1)" class="k4" d="M-29.1,0Q0,-11.7 29.1,0Q0,11.7 -29.1,0"/><ellipse transform="translate(160.2 203.9)rotate(101.1)" class="nw" rx="6.4" ry="3.8"/><ellipse transform="translate(246.1 190.6)rotate(122.6)" class="k2" rx="21.1" ry="7.6"/><ellipse transform="translate(246.1 190.6)rotate(122.6)" class="nu" rx="4.7" ry="3.8"/><ellipse transform="translate(336.4 139.6)rotate(34.4)" class="k4" rx="7.9" ry="7.9"/><ellipse transform="translate(336.4 139.6)rotate(34.4)" class="nu" rx="4.7" ry="3.8"/><ellipse transform="translate(91.5 372.6)rotate(43.1)" class="k5" rx="8.1" ry="8.1"/><path transform="translate(245.1 229.9)rotate(84.3)" class="k5" d="M-13.7,0Q0,-16.1 13.7,0Q0,16.1 -13.7,0"/><ellipse transform="translate(365.1 249.8)rotate(70)" class="k1" rx="9.6" ry="9.6"/><ellipse transform="translate(365.1 249.8)rotate(70)" class="nv" rx="4.7" ry="4.1"/><path transform="translate(278.3 318.3)rotate(91.3)" class="k5" d="M-17.3,0Q0,-10.5 17.3,0Q0,10.5 -17.3,0"/><ellipse transform="translate(278.3 318.3)rotate(91.3)" class="nu" rx="4.7" ry="3.8"/><ellipse transform="translate(176.8 355.4)rotate(20.2)" class="k9" rx="8.4" ry="8.4"/><ellipse transform="translate(273.2 285.8)rotate(34)" class="k5" rx="9.8" ry="9.8"/><ellipse transform="translate(273.2 285.8)rotate(34)" class="nu" rx="4.7" ry="4.2"/><path transform="translate(215.7 10)rotate(77.1)" class="k3" d="M-19.4,0Q0,-10.1 19.4,0Q0,10.1 -19.4,0"/><ellipse transform="translate(215.7 10)rotate(77.1)" class="nv" rx="4.7" ry="3.8"/><path transform="translate(297.2 369.5)rotate(102.6)" class="k3" d="M-25.1,0Q0,-11.9 25.1,0Q0,11.9 -25.1,0"/><ellipse transform="translate(297.2 369.5)rotate(102.6)" class="nw" rx="5.5" ry="3.8"/><path transform="translate(21.1 225.1)rotate(30.7)" class="k6" d="M-16.3,0Q0,-14.4 16.3,0Q0,14.4 -16.3,0"/><path transform="translate(400.8 86.9)rotate(77.1)" class="k5" d="M-20.5,0Q0,-16.4 20.5,0Q0,16.4 -20.5,0"/><ellipse transform="translate(400.8 86.9)rotate(77.1)" class="nu" rx="4.7" ry="3.8"/><ellipse transform="translate(313 199.1)rotate(63.3)" class="k3" rx="8.5" ry="8.5"/><ellipse transform="translate(313 199.1)rotate(63.3)" class="nv" rx="4.7" ry="3.8"/><ellipse transform="translate(94.1 327.5)rotate(134.9)" class="k3" rx="11" ry="11"/><ellipse transform="translate(94.1 327.5)rotate(134.9)" class="nv" rx="4.7" ry="4.7"/><path transform="translate(26.1 29.6)rotate(143.5)" class="k4" d="M-20.2,0Q0,-14.9 20.2,0Q0,14.9 -20.2,0"/><ellipse transform="translate(26.1 29.6)rotate(143.5)" class="nv" rx="4.7" ry="3.8"/><path transform="translate(116 114)rotate(170.8)" class="k5" d="M-30.3,0Q0,-10.7 30.3,0Q0,10.7 -30.3,0"/><ellipse transform="translate(116 114)rotate(170.8)" class="nv" rx="6.4" ry="3.8"/><ellipse transform="translate(404.4 410)rotate(172.7)" class="k4" rx="21" ry="6.5"/><ellipse transform="translate(404.4 410)rotate(172.7)" class="nw" rx="4.7" ry="3.8"/><path transform="translate(291.4 61.3)rotate(93.6)" class="k1" d="M-16.5,0Q0,-9.3 16.5,0Q0,9.3 -16.5,0"/><ellipse transform="translate(291.4 61.3)rotate(93.6)" class="nv" rx="4.7" ry="3.8"/><ellipse transform="translate(252.8 410.6)rotate(103)" class="k6" rx="11.3" ry="6.5"/><ellipse transform="translate(437.6 184.3)rotate(91)" class="k4" rx="10.9" ry="10.9"/><ellipse transform="translate(212.3 82.2)rotate(175.5)" class="k7" rx="10.2" ry="10.2"/><ellipse transform="translate(212.3 82.2)rotate(175.5)" class="nv" rx="4.7" ry="4.3"/><path transform="translate(406.1 288.3)rotate(34.1)" class="k3" d="M-25.5,0Q0,-11.3 25.5,0Q0,11.3 -25.5,0"/><path transform="translate(140.4 454.6)rotate(137.4)" class="k7" d="M-30.5,0Q0,-16.4 30.5,0Q0,16.4 -30.5,0"/><path transform="translate(137.1 208.2)rotate(164.3)" class="k8" d="M-24.5,0Q0,-14.2 24.5,0Q0,14.2 -24.5,0"/><ellipse transform="translate(137.1 208.2)rotate(164.3)" class="nu" rx="5.4" ry="3.8"/><ellipse transform="translate(234.8 174.2)rotate(72.2)" class="k4" rx="9.7" ry="9.7"/><ellipse transform="translate(234.8 174.2)rotate(72.2)" class="nu" rx="4.7" ry="4.1"/><ellipse transform="translate(428.4 113.9)rotate(77)" class="k3" rx="11" ry="11"/><ellipse transform="translate(428.4 113.9)rotate(77)" class="nw" rx="4.7" ry="4.7"/><ellipse transform="translate(249.7 339.9)rotate(105.1)" class="k4" rx="9.5" ry="9.5"/><ellipse transform="translate(249.7 339.9)rotate(105.1)" class="nw" rx="4.7" ry="4"/><path transform="translate(0.7 116.9)rotate(105.7)" class="k3" d="M-20.9,0Q0,-16.3 20.9,0Q0,16.3 -20.9,0"/><ellipse transform="translate(0.7 116.9)rotate(105.7)" class="nw" rx="4.7" ry="3.8"/><ellipse transform="translate(193.7 245.9)rotate(33.6)" class="k4" rx="9.2" ry="9.2"/><ellipse transform="translate(139.6 65.9)rotate(47.1)" class="k4" rx="8.8" ry="8.8"/><ellipse transform="translate(139.6 65.9)rotate(47.1)" class="nu" rx="4.7" ry="3.8"/><ellipse transform="translate(241 452.9)rotate(103.6)" class="k5" rx="10.8" ry="10.8"/><ellipse transform="translate(241 452.9)rotate(103.6)" class="nu" rx="4.7" ry="4.6"/><ellipse transform="translate(94.1 190.4)rotate(44.4)" class="k5" rx="8.3" ry="8.3"/><ellipse transform="translate(94.1 190.4)rotate(44.4)" class="nv" rx="4.7" ry="3.8"/><ellipse transform="translate(223.9 135)rotate(138.1)" class="k5" rx="24.2" ry="7.3"/><ellipse transform="translate(223.9 135)rotate(138.1)" class="nu" rx="5.4" ry="3.8"/><ellipse transform="translate(295.8 328.7)rotate(76.5)" class="k7" rx="10.2" ry="10.2"/><ellipse transform="translate(295.8 328.7)rotate(76.5)" class="nv" rx="4.7" ry="4.3"/><path transform="translate(189.7 284.7)rotate(172.7)" class="k4" d="M-17,0Q0,-13.1 17,0Q0,13.1 -17,0"/><ellipse transform="translate(189.7 284.7)rotate(172.7)" class="nw" rx="4.7" ry="3.8"/><ellipse transform="translate(439.2 136.1)rotate(79.2)" class="k5" rx="10.7" ry="10.7"/><ellipse transform="translate(439.2 136.1)rotate(79.2)" class="nu" rx="4.7" ry="4.5"/><ellipse transform="translate(248.8 62)rotate(149.7)" class="k6" rx="7.7" ry="7.7"/><ellipse transform="translate(248.8 62)rotate(149.7)" class="nw" rx="4.7" ry="3.8"/><ellipse transform="translate(351.5 284.4)rotate(179.6)" class="k4" rx="8.8" ry="8.8"/><ellipse transform="translate(351.5 284.4)rotate(179.6)" class="nu" rx="4.7" ry="3.8"/><path transform="translate(382.6 310.9)rotate(124.6)" class="k3" d="M-22,0Q0,-10.2 22,0Q0,10.2 -22,0"/><ellipse transform="translate(18.8 452.8)rotate(78)" class="k1" rx="10" ry="10"/><ellipse transform="translate(18.8 452.8)rotate(78)" class="nv" rx="4.7" ry="4.3"/><ellipse transform="translate(95.7 449.2)rotate(64.7)" class="k4" rx="9.8" ry="9.8"/><ellipse transform="translate(95.7 449.2)rotate(64.7)" class="nu" rx="4.7" ry="4.2"/><ellipse transform="translate(207.3 383.1)rotate(152.4)" class="k7" rx="10.6" ry="10.6"/><ellipse transform="translate(437.9 161.4)rotate(18.4)" class="k9" rx="9.2" ry="9.2"/><ellipse transform="translate(437.9 161.4)rotate(18.4)" class="nv" rx="4.7" ry="3.9"/><ellipse transform="translate(270.5 130)rotate(45.4)" class="k2" rx="8.4" ry="8.4"/><ellipse transform="translate(270.5 130)rotate(45.4)" class="nv" rx="4.7" ry="3.8"/><ellipse transform="translate(265.9 191.7)rotate(128.7)" class="k1" rx="17.8" ry="5"/><ellipse transform="translate(265.9 191.7)rotate(128.7)" class="nv" rx="4.7" ry="3.8"/><path transform="translate(363.1 177.5)rotate(30.7)" class="k8" d="M-23,0Q0,-12.3 23,0Q0,12.3 -23,0"/><ellipse transform="translate(119.9 412.6)rotate(23.4)" class="k5" rx="17.6" ry="7.6"/><ellipse transform="translate(119.9 412.6)rotate(23.4)" class="nv" rx="4.7" ry="3.8"/><path transform="translate(202.7 415.2)rotate(135.5)" class="k6" d="M-20,0Q0,-16.6 20,0Q0,16.6 -20,0"/><ellipse transform="translate(202.7 415.2)rotate(135.5)" class="nv" rx="4.7" ry="3.8"/><ellipse transform="translate(136.5 144.3)rotate(167.6)" class="k5" rx="8.7" ry="8.7"/><ellipse transform="translate(136.5 144.3)rotate(167.6)" class="nu" rx="4.7" ry="3.8"/><ellipse transform="translate(438.1 263.2)rotate(28.4)" class="k1" rx="9" ry="9"/><ellipse transform="translate(438.1 263.2)rotate(28.4)" class="nv" rx="4.7" ry="3.8"/><ellipse transform="translate(10.8 413.8)rotate(53.8)" class="k4" rx="13" ry="6.5"/><ellipse transform="translate(370.5 224.3)rotate(172.4)" class="k4" rx="9.4" ry="9.4"/><ellipse transform="translate(370.5 224.3)rotate(172.4)" class="nv" rx="4.7" ry="4"/><ellipse transform="translate(8.9 54.1)rotate(119.4)" class="k5" rx="9.6" ry="9.6"/><ellipse transform="translate(8.9 54.1)rotate(119.4)" class="nv" rx="4.7" ry="4.1"/><path transform="translate(255.1 360.6)rotate(100.8)" class="k6" d="M-25.8,0Q0,-11.7 25.8,0Q0,11.7 -25.8,0"/><ellipse transform="translate(255.1 360.6)rotate(100.8)" class="nv" rx="5.7" ry="3.8"/><ellipse transform="translate(328.1 323.3)rotate(33.3)" class="k3" rx="14.9" ry="8"/><ellipse transform="translate(328.1 323.3)rotate(33.3)" class="nu" rx="4.7" ry="3.8"/><ellipse transform="translate(119.7 51.5)rotate(140.3)" class="k2" rx="9.3" ry="9.3"/><ellipse transform="translate(119.7 51.5)rotate(140.3)" class="nv" rx="4.7" ry="3.9"/><ellipse transform="translate(197.5 225.5)rotate(124.8)" class="k6" rx="22.7" ry="4.4"/><ellipse transform="translate(211.3 39.2)rotate(61.9)" class="k5" rx="9.8" ry="9.8"/><ellipse transform="translate(211.3 39.2)rotate(61.9)" class="nw" rx="4.7" ry="4.2"/><ellipse transform="translate(92.5 29.9)rotate(94.1)" class="k5" rx="9.2" ry="9.2"/><ellipse transform="translate(92.5 29.9)rotate(94.1)" class="nv" rx="4.7" ry="3.9"/><ellipse transform="translate(282.6 112.8)rotate(179.6)" class="k5" rx="10.7" ry="10.7"/><ellipse transform="translate(282.6 112.8)rotate(179.6)" class="nu" rx="4.7" ry="4.5"/><path transform="translate(57.2 225.4)rotate(132.1)" class="k6" d="M-14.2,0Q0,-12.1 14.2,0Q0,12.1 -14.2,0"/><path transform="translate(411.4 439.1)rotate(156.3)" class="k3" d="M-28.1,0Q0,-13.1 28.1,0Q0,13.1 -28.1,0"/><path transform="translate(228.2 62.9)rotate(47.1)" class="k3" d="M-26.6,0Q0,-13 26.6,0Q0,13 -26.6,0"/><path transform="translate(374.9 290.3)rotate(114.8)" class="k7" d="M-30.4,0Q0,-8.7 30.4,0Q0,8.7 -30.4,0"/><ellipse transform="translate(374.9 290.3)rotate(114.8)" class="nu" rx="6.4" ry="3.8"/><ellipse transform="translate(424.9 324)rotate(82.2)" class="k5" rx="8.6" ry="8.6"/><ellipse transform="translate(424.9 324)rotate(82.2)" class="nv" rx="4.7" ry="3.8"/><ellipse transform="translate(329.8 22.5)rotate(50.1)" class="k3" rx="10.7" ry="10.7"/><path transform="translate(92.1 302.7)rotate(162.5)" class="k6" d="M-30.5,0Q0,-11.9 30.5,0Q0,11.9 -30.5,0"/><ellipse transform="translate(92.1 302.7)rotate(162.5)" class="nv" rx="6.4" ry="3.8"/><ellipse transform="translate(317.6 376)rotate(166)" class="k2" rx="21.3" ry="4.7"/><ellipse transform="translate(317.6 376)rotate(166)" class="nu" rx="4.7" ry="3.8"/><ellipse transform="translate(304 238.4)rotate(47.4)" class="k3" rx="12.9" ry="6.2"/><ellipse transform="translate(304 238.4)rotate(47.4)" class="nv" rx="4.7" ry="3.8"/><ellipse transform="translate(186.5 303.8)rotate(11.1)" class="k9" rx="8.4" ry="8.4"/><ellipse transform="translate(186.5 303.8)rotate(11.1)" class="nu" rx="4.7" ry="3.8"/><ellipse transform="translate(367.3 157.1)rotate(164.7)" class="k9" rx="8.1" ry="8.1"/><ellipse transform="translate(367.3 157.1)rotate(164.7)" class="nu" rx="4.7" ry="3.8"/><ellipse transform="translate(298.9 348.9)rotate(114.7)" class="k5" rx="9.3" ry="9.3"/><ellipse transform="translate(298.9 348.9)rotate(114.7)" class="nw" rx="4.7" ry="3.9"/><ellipse transform="translate(416.9 194.8)rotate(0.2)" class="k6" rx="14.2" ry="7.3"/><ellipse transform="translate(153.7 180.6)rotate(153.1)" class="k7" rx="19.3" ry="6.7"/><ellipse transform="translate(153.7 180.6)rotate(153.1)" class="nu" rx="4.7" ry="3.8"/><ellipse transform="translate(225 396.3)rotate(20.5)" class="k9" rx="8.6" ry="8.6"/><ellipse transform="translate(354.4 457.7)rotate(54.6)" class="k5" rx="7.8" ry="7.8"/><ellipse transform="translate(354.4 457.7)rotate(54.6)" class="nv" rx="4.7" ry="3.8"/></g>
<g filter="url(#b1)"><rect x="384" y="428" width="37" height="6.5" fill="#fff"/><rect x="390" y="417" width="26" height="9" fill="#fff" opacity=".4"/></g></svg></g>
<clipPath id="c03"><rect x="255.0" y="36.0" width="71.0" height="73.7"/></clipPath>
<rect x="255.0" y="36.0" width="71.0" height="73.7" fill="#000"/>
<g clip-path="url(#c03)"><svg x="255" y="36" width="71" height="74" viewBox="0 0 435 453" preserveAspectRatio="none" overflow="visible"><g filter="url(#b1)"><path transform="translate(35 35)rotate(-60)" class="k2" d="M-30,0Q0,-26.5 30,0Q0,26.5 -30,0"/><ellipse transform="translate(35 35)rotate(-60)" class="nu" style="fill:#34a8dc" rx="7.9" ry="6.3"/><path transform="translate(95 20)rotate(110)" class="k6" d="M-21.6,0Q0,-18.9 21.6,0Q0,18.9 -21.6,0"/><ellipse transform="translate(95 20)rotate(110)" class="nu" style="fill:#34a8dc" rx="5.9" ry="4.7"/><ellipse transform="translate(120 25)rotate(0)" class="k6" rx="16.5" ry="11"/><ellipse transform="translate(120 25)rotate(0)" class="nu" style="fill:#34a8dc" rx="5.8" ry="5.8"/><ellipse transform="translate(175 35)rotate(-50)" class="k6" rx="24.2" ry="17.6"/><ellipse transform="translate(175 35)rotate(-50)" class="nu" style="fill:#34a8dc" rx="6.6" ry="6.3"/><ellipse transform="translate(75 70)rotate(90)" class="k5" rx="19.8" ry="13.2"/><ellipse transform="translate(75 70)rotate(90)" class="nu" style="fill:#34a8dc" rx="5.8" ry="6.3"/><path transform="translate(100 85)rotate(100)" class="k5" d="M-24,0Q0,-22.7 24,0Q0,22.7 -24,0"/><ellipse transform="translate(100 85)rotate(100)" class="nu" style="fill:#34a8dc" rx="6.6" ry="5.7"/><ellipse transform="translate(130 100)rotate(-20)" class="k8" rx="24.2" ry="19.8"/><ellipse transform="translate(130 100)rotate(-20)" class="nu" style="fill:#34a8dc" rx="6.6" ry="6.3"/><ellipse transform="translate(100 115)rotate(0)" class="k6" rx="13.2" ry="13.2"/><ellipse transform="translate(100 115)rotate(0)" class="nu" style="fill:#34a8dc" rx="5.8" ry="6.3"/><path transform="translate(195 128)rotate(0)" class="k5" d="M-30,0Q0,-22.7 30,0Q0,22.7 -30,0"/><ellipse transform="translate(195 128)rotate(0)" class="nu" style="fill:#34a8dc" rx="7.9" ry="5.7"/><path transform="translate(290 40)rotate(80)" class="k7" d="M-33.6,0Q0,-18.9 33.6,0Q0,18.9 -33.6,0"/><ellipse transform="translate(290 40)rotate(80)" class="nu" style="fill:#34a8dc" rx="7.9" ry="4.7"/><ellipse transform="translate(275 75)rotate(0)" class="k6" rx="15.4" ry="15.4"/><ellipse transform="translate(275 75)rotate(0)" class="nu" style="fill:#34a8dc" rx="5.8" ry="6.3"/><ellipse transform="translate(375 25)rotate(0)" class="k6" rx="11" ry="11"/><ellipse transform="translate(375 25)rotate(0)" class="nu" style="fill:#34a8dc" rx="5.8" ry="5.8"/><path transform="translate(320 100)rotate(40)" class="k7" d="M-26.4,0Q0,-26.5 26.4,0Q0,26.5 -26.4,0"/><ellipse transform="translate(320 100)rotate(40)" class="nu" style="fill:#34a8dc" rx="7.2" ry="6.3"/><path transform="translate(330 150)rotate(-30)" class="k6" d="M-36,0Q0,-26.5 36,0Q0,26.5 -36,0"/><ellipse transform="translate(330 150)rotate(-30)" class="nu" style="fill:#34a8dc" rx="7.9" ry="6.3"/><path transform="translate(365 160)rotate(20)" class="k5" d="M-30,0Q0,-18.9 30,0Q0,18.9 -30,0"/><ellipse transform="translate(365 160)rotate(20)" class="nu" style="fill:#34a8dc" rx="7.9" ry="4.7"/><path transform="translate(370 100)rotate(120)" class="k3" d="M-30,0Q0,-18.9 30,0Q0,18.9 -30,0"/><ellipse transform="translate(370 100)rotate(120)" class="nu" style="fill:#34a8dc" rx="7.9" ry="4.7"/><path transform="translate(410 90)rotate(10)" class="k5" d="M-30,0Q0,-22.7 30,0Q0,22.7 -30,0"/><ellipse transform="translate(410 90)rotate(10)" class="nu" style="fill:#34a8dc" rx="7.9" ry="5.7"/><ellipse transform="translate(415 130)rotate(0)" class="k3" rx="19.8" ry="15.4"/><ellipse transform="translate(415 130)rotate(0)" class="nu" style="fill:#34a8dc" rx="5.8" ry="6.3"/><path transform="translate(425 50)rotate(90)" class="k5" d="M-48,0Q0,-18.9 48,0Q0,18.9 -48,0"/><ellipse transform="translate(425 50)rotate(90)" class="nu" style="fill:#34a8dc" rx="7.9" ry="4.7"/><path transform="translate(55 155)rotate(100)" class="k6" d="M-24,0Q0,-15.1 24,0Q0,15.1 -24,0"/><ellipse transform="translate(55 155)rotate(100)" class="nu" style="fill:#34a8dc" rx="6.6" ry="4.7"/><ellipse transform="translate(105 175)rotate(0)" class="k4" rx="15.4" ry="13.2"/><ellipse transform="translate(105 175)rotate(0)" class="nu" style="fill:#34a8dc" rx="5.8" ry="6.3"/><path transform="translate(130 180)rotate(95)" class="k4" d="M-60,0Q0,-11.3 60,0Q0,11.3 -60,0"/><ellipse transform="translate(130 180)rotate(95)" class="nu" style="fill:#34a8dc" rx="7.9" ry="4.7"/><ellipse transform="translate(155 195)rotate(0)" class="k1" rx="15.4" ry="13.2"/><ellipse transform="translate(155 195)rotate(0)" class="nv" style="fill:#34a8dc" rx="5.8" ry="6.3"/><ellipse transform="translate(190 200)rotate(0)" class="k5" rx="11" ry="11"/><ellipse transform="translate(190 200)rotate(0)" class="nu" style="fill:#34a8dc" rx="5.8" ry="5.8"/><ellipse transform="translate(220 215)rotate(-30)" class="k5" rx="15.4" ry="11"/><ellipse transform="translate(220 215)rotate(-30)" class="nu" style="fill:#34a8dc" rx="5.8" ry="5.8"/><ellipse transform="translate(60 225)rotate(30)" class="k5" rx="19.8" ry="13.2"/><ellipse transform="translate(60 225)rotate(30)" class="nu" style="fill:#34a8dc" rx="5.8" ry="6.3"/><path transform="translate(95 228)rotate(20)" class="k2" d="M-21.6,0Q0,-18.9 21.6,0Q0,18.9 -21.6,0"/><ellipse transform="translate(95 228)rotate(20)" class="nu" style="fill:#34a8dc" rx="5.9" ry="4.7"/><path transform="translate(210 240)rotate(0)" class="k6" d="M-16.8,0Q0,-15.1 16.8,0Q0,15.1 -16.8,0"/><ellipse transform="translate(210 240)rotate(0)" class="nu" style="fill:#34a8dc" rx="5.8" ry="4.7"/><path transform="translate(310 230)rotate(105)" class="k4" d="M-42,0Q0,-18.9 42,0Q0,18.9 -42,0"/><ellipse transform="translate(310 230)rotate(105)" class="nu" style="fill:#34a8dc" rx="7.9" ry="4.7"/><path transform="translate(160 265)rotate(30)" class="k4" d="M-26.4,0Q0,-18.9 26.4,0Q0,18.9 -26.4,0"/><ellipse transform="translate(160 265)rotate(30)" class="nu" style="fill:#34a8dc" rx="7.2" ry="4.7"/><path transform="translate(80 275)rotate(40)" class="k5" d="M-26.4,0Q0,-18.9 26.4,0Q0,18.9 -26.4,0"/><ellipse transform="translate(80 275)rotate(40)" class="nu" style="fill:#34a8dc" rx="7.2" ry="4.7"/><path transform="translate(60 295)rotate(100)" class="k7" d="M-24,0Q0,-18.9 24,0Q0,18.9 -24,0"/><ellipse transform="translate(60 295)rotate(100)" class="nu" style="fill:#34a8dc" rx="6.6" ry="4.7"/><ellipse transform="translate(40 315)rotate(0)" class="k6" rx="15.4" ry="13.2"/><ellipse transform="translate(40 315)rotate(0)" class="nu" style="fill:#34a8dc" rx="5.8" ry="6.3"/><path transform="translate(100 310)rotate(30)" class="k3" d="M-30,0Q0,-18.9 30,0Q0,18.9 -30,0"/><ellipse transform="translate(100 310)rotate(30)" class="nu" style="fill:#34a8dc" rx="7.9" ry="4.7"/><ellipse transform="translate(75 330)rotate(90)" class="k7" rx="15.4" ry="13.2"/><ellipse transform="translate(75 330)rotate(90)" class="nu" style="fill:#34a8dc" rx="5.8" ry="6.3"/><path transform="translate(185 300)rotate(80)" class="k7" d="M-21.6,0Q0,-18.9 21.6,0Q0,18.9 -21.6,0"/><ellipse transform="translate(185 300)rotate(80)" class="nu" style="fill:#34a8dc" rx="5.9" ry="4.7"/><ellipse transform="translate(225 310)rotate(0)" class="k4" rx="33" ry="27.5"/><ellipse transform="translate(225 310)rotate(0)" class="nu" style="fill:#34a8dc" rx="7.9" ry="6.3"/><path transform="translate(255 270)rotate(90)" class="k4" d="M-19.2,0Q0,-18.9 19.2,0Q0,18.9 -19.2,0"/><ellipse transform="translate(255 270)rotate(90)" class="nu" style="fill:#34a8dc" rx="5.8" ry="4.7"/><ellipse transform="translate(290 265)rotate(110)" class="k7" rx="17.6" ry="13.2"/><ellipse transform="translate(290 265)rotate(110)" class="nu" style="fill:#34a8dc" rx="5.8" ry="6.3"/><path transform="translate(280 305)rotate(-20)" class="k3" d="M-21.6,0Q0,-18.9 21.6,0Q0,18.9 -21.6,0"/><ellipse transform="translate(280 305)rotate(-20)" class="nu" style="fill:#34a8dc" rx="5.9" ry="4.7"/><path transform="translate(200 350)rotate(-10)" class="k2" d="M-36,0Q0,-26.5 36,0Q0,26.5 -36,0"/><ellipse transform="translate(200 350)rotate(-10)" class="nu" style="fill:#34a8dc" rx="7.9" ry="6.3"/><path transform="translate(270 350)rotate(10)" class="k4" d="M-30,0Q0,-18.9 30,0Q0,18.9 -30,0"/><ellipse transform="translate(270 350)rotate(10)" class="nu" style="fill:#34a8dc" rx="7.9" ry="4.7"/><path transform="translate(340 325)rotate(-30)" class="k6" d="M-42,0Q0,-18.9 42,0Q0,18.9 -42,0"/><ellipse transform="translate(340 325)rotate(-30)" class="nu" style="fill:#34a8dc" rx="7.9" ry="4.7"/><path transform="translate(405 200)rotate(20)" class="k2" d="M-30,0Q0,-18.9 30,0Q0,18.9 -30,0"/><ellipse transform="translate(405 200)rotate(20)" class="nu" style="fill:#34a8dc" rx="7.9" ry="4.7"/><ellipse transform="translate(420 265)rotate(0)" class="k3" rx="15.4" ry="11"/><ellipse transform="translate(420 265)rotate(0)" class="nu" style="fill:#34a8dc" rx="5.8" ry="5.8"/><path transform="translate(420 315)rotate(90)" class="k3" d="M-26.4,0Q0,-22.7 26.4,0Q0,22.7 -26.4,0"/><ellipse transform="translate(420 315)rotate(90)" class="nu" style="fill:#34a8dc" rx="7.2" ry="5.7"/><ellipse transform="translate(145 375)rotate(90)" class="k5" rx="15.4" ry="11"/><ellipse transform="translate(145 375)rotate(90)" class="nu" style="fill:#34a8dc" rx="5.8" ry="5.8"/><ellipse transform="translate(85 405)rotate(0)" class="k3" rx="8.8" ry="8.8"/><ellipse transform="translate(85 405)rotate(0)" class="nu" style="fill:#34a8dc" rx="5.8" ry="4.7"/><path transform="translate(60 435)rotate(-20)" class="k5" d="M-24,0Q0,-22.7 24,0Q0,22.7 -24,0"/><ellipse transform="translate(60 435)rotate(-20)" class="nu" style="fill:#34a8dc" rx="6.6" ry="5.7"/><path transform="translate(140 438)rotate(0)" class="k6" d="M-21.6,0Q0,-11.3 21.6,0Q0,11.3 -21.6,0"/><ellipse transform="translate(140 438)rotate(0)" class="nu" style="fill:#34a8dc" rx="5.9" ry="4.7"/><ellipse transform="translate(185 440)rotate(0)" class="k3" rx="13.2" ry="8.8"/><ellipse transform="translate(185 440)rotate(0)" class="nu" style="fill:#34a8dc" rx="5.8" ry="4.7"/><path transform="translate(285 440)rotate(-10)" class="k6" d="M-24,0Q0,-15.1 24,0Q0,15.1 -24,0"/><ellipse transform="translate(285 440)rotate(-10)" class="nu" style="fill:#34a8dc" rx="6.6" ry="4.7"/><ellipse transform="translate(335 400)rotate(70)" class="k5" rx="19.8" ry="15.4"/><ellipse transform="translate(335 400)rotate(70)" class="nu" style="fill:#34a8dc" rx="5.8" ry="6.3"/><path transform="translate(385 405)rotate(10)" class="k5" d="M-26.4,0Q0,-18.9 26.4,0Q0,18.9 -26.4,0"/><ellipse transform="translate(385 405)rotate(10)" class="nu" style="fill:#34a8dc" rx="7.2" ry="4.7"/><ellipse transform="translate(420 380)rotate(90)" class="k3" rx="15.4" ry="13.2"/><ellipse transform="translate(420 380)rotate(90)" class="nu" style="fill:#34a8dc" rx="5.8" ry="6.3"/><path transform="translate(425 410)rotate(90)" class="k2" d="M-24,0Q0,-18.9 24,0Q0,18.9 -24,0"/><ellipse transform="translate(425 410)rotate(90)" class="nu" style="fill:#34a8dc" rx="6.6" ry="4.7"/><ellipse transform="translate(420 180)rotate(0)" class="k3" rx="16.5" ry="11"/><ellipse transform="translate(420 180)rotate(0)" class="nu" style="fill:#34a8dc" rx="5.8" ry="5.8"/></g>
<g filter="url(#b1)"><rect x="384" y="428" width="37" height="6.5" fill="#fff"/><rect x="390" y="417" width="26" height="9" fill="#fff" opacity=".4"/></g></svg></g>
<clipPath id="c04"><rect x="331.8" y="36.0" width="71.0" height="73.7"/></clipPath>
<rect x="331.8" y="36.0" width="71.0" height="73.7" fill="#000"/>
<g clip-path="url(#c04)"><svg x="332" y="36" width="71" height="74" viewBox="0 0 435 453" preserveAspectRatio="none" overflow="visible"><g filter="url(#b1)"><path transform="translate(65.3 451.7)rotate(43.1)" class="k6" d="M-32.5,0Q0,-15.5 32.5,0Q0,15.5 -32.5,0"/><ellipse transform="translate(65.3 451.7)rotate(43.1)" class="nv" rx="6.8" ry="4"/><path transform="translate(310.1 124.9)rotate(40.2)" class="k3" d="M-19.3,0Q0,-17.1 19.3,0Q0,17.1 -19.3,0"/><ellipse transform="translate(310.1 124.9)rotate(40.2)" class="nv" rx="5" ry="4"/><path transform="translate(222.6 102.1)rotate(102.5)" class="k7" d="M-23.2,0Q0,-10 23.2,0Q0,10 -23.2,0"/><path transform="translate(39.4 48.8)rotate(90.4)" class="k4" d="M-24.2,0Q0,-16.9 24.2,0Q0,16.9 -24.2,0"/><ellipse transform="translate(39.4 48.8)rotate(90.4)" class="nu" rx="5.7" ry="4"/><path transform="translate(416.9 158.8)rotate(60.5)" class="k3" d="M-21,0Q0,-16.8 21,0Q0,16.8 -21,0"/><ellipse transform="translate(392.8 432.3)rotate(11.1)" class="k4" rx="18.6" ry="6.5"/><ellipse transform="translate(392.8 432.3)rotate(11.1)" class="nw" rx="5" ry="4"/><path transform="translate(259 315.6)rotate(68.4)" class="k6" d="M-16.4,0Q0,-9.4 16.4,0Q0,9.4 -16.4,0"/><ellipse transform="translate(259 315.6)rotate(68.4)" class="nu" rx="5" ry="4"/><path transform="translate(292.8 156.2)rotate(59.6)" class="k3" d="M-25.2,0Q0,-10.6 25.2,0Q0,10.6 -25.2,0"/><ellipse transform="translate(323.3 248.6)rotate(140.9)" class="k6" rx="24.8" ry="6.1"/><ellipse transform="translate(323.3 248.6)rotate(140.9)" class="nv" rx="5.8" ry="4"/><path transform="translate(434.3 301.6)rotate(10.9)" class="k2" d="M-20.2,0Q0,-10.5 20.2,0Q0,10.5 -20.2,0"/><ellipse transform="translate(434.3 301.6)rotate(10.9)" class="nv" rx="5" ry="4"/><path transform="translate(305.3 357.9)rotate(129.9)" class="k3" d="M-27.8,0Q0,-11.1 27.8,0Q0,11.1 -27.8,0"/><ellipse transform="translate(305.3 357.9)rotate(129.9)" class="nv" rx="6.5" ry="4"/><path transform="translate(388.6 101.2)rotate(157.9)" class="k3" d="M-32.2,0Q0,-9.8 32.2,0Q0,9.8 -32.2,0"/><ellipse transform="translate(388.6 101.2)rotate(157.9)" class="nw" rx="6.8" ry="4"/><path transform="translate(267.3 207.8)rotate(145)" class="k6" d="M-23.8,0Q0,-13.5 23.8,0Q0,13.5 -23.8,0"/><ellipse transform="translate(267.3 207.8)rotate(145)" class="nv" rx="5.6" ry="4"/><ellipse transform="translate(419.3 203.4)rotate(39.6)" class="k7" rx="25.8" ry="6.9"/><ellipse transform="translate(419.3 203.4)rotate(39.6)" class="nv" rx="6" ry="4"/><path transform="translate(357.2 319.5)rotate(139.3)" class="k8" d="M-27.4,0Q0,-12.9 27.4,0Q0,12.9 -27.4,0"/><path transform="translate(290.8 39.7)rotate(13.1)" class="k4" d="M-19.3,0Q0,-15.4 19.3,0Q0,15.4 -19.3,0"/><ellipse transform="translate(290.8 39.7)rotate(13.1)" class="nv" rx="5" ry="4"/><ellipse transform="translate(417.4 254.1)rotate(146)" class="k9" rx="9.5" ry="9.5"/><ellipse transform="translate(417.4 254.1)rotate(146)" class="nu" rx="5" ry="4.3"/><ellipse transform="translate(278 188.2)rotate(8)" class="k4" rx="10.6" ry="10.6"/><path transform="translate(16.5 227)rotate(122.6)" class="k7" d="M-26.6,0Q0,-16.5 26.6,0Q0,16.5 -26.6,0"/><ellipse transform="translate(16.5 227)rotate(122.6)" class="nw" rx="6.2" ry="4"/><ellipse transform="translate(372.3 298.7)rotate(154.3)" class="k5" rx="11.7" ry="11.7"/><ellipse transform="translate(372.3 298.7)rotate(154.3)" class="nv" rx="5" ry="5.3"/><path transform="translate(43.3 120.8)rotate(71.5)" class="k6" d="M-33.8,0Q0,-11.5 33.8,0Q0,11.5 -33.8,0"/><ellipse transform="translate(43.3 120.8)rotate(71.5)" class="nu" rx="6.8" ry="4"/><path transform="translate(304.6 57.9)rotate(67.3)" class="k6" d="M-28.1,0Q0,-16.8 28.1,0Q0,16.8 -28.1,0"/><ellipse transform="translate(304.6 57.9)rotate(67.3)" class="nu" rx="6.6" ry="4"/><path transform="translate(260.4 71.9)rotate(121.9)" class="k6" d="M-28.7,0Q0,-13.3 28.7,0Q0,13.3 -28.7,0"/><ellipse transform="translate(260.4 71.9)rotate(121.9)" class="nv" rx="6.7" ry="4"/><ellipse transform="translate(158.2 26.4)rotate(180)" class="k6" rx="8.5" ry="8.5"/><ellipse transform="translate(158.2 26.4)rotate(180)" class="nw" rx="5" ry="4"/><path transform="translate(29 161)rotate(3.2)" class="k1" d="M-29.5,0Q0,-15.5 29.5,0Q0,15.5 -29.5,0"/><ellipse transform="translate(29 161)rotate(3.2)" class="nv" rx="6.8" ry="4"/><ellipse transform="translate(368.1 182)rotate(137.2)" class="k9" rx="8.2" ry="8.2"/><ellipse transform="translate(368.1 182)rotate(137.2)" class="nu" rx="5" ry="4"/><path transform="translate(326.9 427)rotate(138.2)" class="k5" d="M-28.3,0Q0,-14.9 28.3,0Q0,14.9 -28.3,0"/><path transform="translate(392.6 5.7)rotate(164.8)" class="k7" d="M-19.9,0Q0,-17.2 19.9,0Q0,17.2 -19.9,0"/><ellipse transform="translate(392.6 5.7)rotate(164.8)" class="nw" rx="5" ry="4"/><ellipse transform="translate(393.2 56.3)rotate(96.9)" class="k4" rx="11.1" ry="11.1"/><ellipse transform="translate(82.8 93.3)rotate(76.2)" class="k6" rx="17.7" ry="5.5"/><ellipse transform="translate(82.8 93.3)rotate(76.2)" class="nv" rx="5" ry="4"/><path transform="translate(384.3 145.6)rotate(111.6)" class="k6" d="M-31.6,0Q0,-16.3 31.6,0Q0,16.3 -31.6,0"/><ellipse transform="translate(384.3 145.6)rotate(111.6)" class="nv" rx="6.8" ry="4"/><ellipse transform="translate(5.5 399)rotate(153.2)" class="k2" rx="15.1" ry="8.7"/><ellipse transform="translate(273.7 372.6)rotate(5.6)" class="k6" rx="11.6" ry="11.6"/><ellipse transform="translate(273.7 372.6)rotate(5.6)" class="nv" rx="5" ry="5.2"/><path transform="translate(127.9 398.4)rotate(11.7)" class="k6" d="M-15.5,0Q0,-14.7 15.5,0Q0,14.7 -15.5,0"/><ellipse transform="translate(127.9 398.4)rotate(11.7)" class="nv" rx="5" ry="4"/><path transform="translate(-2 200)rotate(176.2)" class="k1" d="M-19.4,0Q0,-13.6 19.4,0Q0,13.6 -19.4,0"/><ellipse transform="translate(-2 200)rotate(176.2)" class="nv" rx="5" ry="4"/><ellipse transform="translate(276.3 448.7)rotate(76.3)" class="k2" rx="9.3" ry="9.3"/><ellipse transform="translate(276.3 448.7)rotate(76.3)" class="nv" rx="5" ry="4.2"/><path transform="translate(300.6 2.1)rotate(31.6)" class="k2" d="M-28.6,0Q0,-17.7 28.6,0Q0,17.7 -28.6,0"/><ellipse transform="translate(300.6 2.1)rotate(31.6)" class="nv" rx="6.7" ry="4"/><path transform="translate(262.2 19)rotate(23.5)" class="k6" d="M-23.3,0Q0,-9.8 23.3,0Q0,9.8 -23.3,0"/><ellipse transform="translate(262.2 19)rotate(23.5)" class="nv" rx="5.5" ry="4"/><ellipse transform="translate(298.7 195.1)rotate(25)" class="k9" rx="10" ry="10"/><path transform="translate(379 349.5)rotate(141.1)" class="k6" d="M-25.2,0Q0,-12.2 25.2,0Q0,12.2 -25.2,0"/><ellipse transform="translate(379 349.5)rotate(141.1)" class="nv" rx="5.9" ry="4"/><path transform="translate(207.8 225.7)rotate(70.4)" class="k1" d="M-34.6,0Q0,-12.7 34.6,0Q0,12.7 -34.6,0"/><ellipse transform="translate(207.8 225.7)rotate(70.4)" class="nv" rx="6.8" ry="4"/><ellipse transform="translate(326.7 320)rotate(163.9)" class="k6" rx="9.4" ry="9.4"/><ellipse transform="translate(98.4 424.6)rotate(97.6)" class="k6" rx="21.6" ry="8.7"/><ellipse transform="translate(98.4 424.6)rotate(97.6)" class="nu" rx="5.1" ry="4"/><path transform="translate(195.7 119.2)rotate(49)" class="k4" d="M-22,0Q0,-15.2 22,0Q0,15.2 -22,0"/><ellipse transform="translate(195.7 119.2)rotate(49)" class="nu" rx="5.1" ry="4"/><ellipse transform="translate(343 140.9)rotate(65.4)" class="k5" rx="23.6" ry="4.4"/><ellipse transform="translate(343 140.9)rotate(65.4)" class="nu" rx="5.5" ry="4"/><path transform="translate(55.5 390.7)rotate(16.4)" class="k5" d="M-30.6,0Q0,-10.7 30.6,0Q0,10.7 -30.6,0"/><ellipse transform="translate(55.5 390.7)rotate(16.4)" class="nu" rx="6.8" ry="4"/><ellipse transform="translate(428.3 62.7)rotate(88.6)" class="k5" rx="19.9" ry="7.2"/><ellipse transform="translate(438.5 425.6)rotate(8.6)" class="k6" rx="10.3" ry="10.3"/><ellipse transform="translate(438.5 425.6)rotate(8.6)" class="nv" rx="5" ry="4.6"/><path transform="translate(355.2 92.8)rotate(7.7)" class="k7" d="M-16.5,0Q0,-16.6 16.5,0Q0,16.6 -16.5,0"/><ellipse transform="translate(355.2 92.8)rotate(7.7)" class="nv" rx="5" ry="4"/><path transform="translate(238.2 18.9)rotate(84.8)" class="k5" d="M-20.1,0Q0,-15 20.1,0Q0,15 -20.1,0"/><ellipse transform="translate(238.2 18.9)rotate(84.8)" class="nu" rx="5" ry="4"/><path transform="translate(294.4 219.8)rotate(136.1)" class="k2" d="M-29.6,0Q0,-15.7 29.6,0Q0,15.7 -29.6,0"/><ellipse transform="translate(294.4 219.8)rotate(136.1)" class="nu" rx="6.8" ry="4"/><path transform="translate(439.9 265)rotate(75.9)" class="k7" d="M-26.3,0Q0,-14.8 26.3,0Q0,14.8 -26.3,0"/><ellipse transform="translate(439.9 265)rotate(75.9)" class="nw" rx="6.2" ry="4"/><ellipse transform="translate(273.6 122.3)rotate(117.1)" class="k5" rx="24.8" ry="7.5"/><ellipse transform="translate(301.8 86.1)rotate(107.9)" class="k4" rx="11.4" ry="11.4"/><ellipse transform="translate(301.8 86.1)rotate(107.9)" class="nu" rx="5" ry="5.1"/><ellipse transform="translate(177.3 158.2)rotate(64.7)" class="k5" rx="10.8" ry="10.8"/><ellipse transform="translate(177.3 158.2)rotate(64.7)" class="nv" rx="5" ry="4.9"/><path transform="translate(213.4 22.4)rotate(173.5)" class="k2" d="M-19.7,0Q0,-9.6 19.7,0Q0,9.6 -19.7,0"/><ellipse transform="translate(108.5 123.3)rotate(28.2)" class="k3" rx="23.4" ry="5.9"/><ellipse transform="translate(108.5 123.3)rotate(28.2)" class="nv" rx="5.5" ry="4"/><ellipse transform="translate(394 291.6)rotate(50)" class="k8" rx="14.3" ry="8.3"/><ellipse transform="translate(397.5 209.2)rotate(18.7)" class="k6" rx="8.3" ry="8.3"/><ellipse transform="translate(397.5 209.2)rotate(18.7)" class="nu" rx="5" ry="4"/><ellipse transform="translate(235.5 207.3)rotate(61.5)" class="k6" rx="10.1" ry="10.1"/><ellipse transform="translate(310.7 285.8)rotate(21.4)" class="k5" rx="8.3" ry="8.3"/><ellipse transform="translate(310.7 285.8)rotate(21.4)" class="nu" rx="5" ry="4"/><path transform="translate(126.8 92.8)rotate(30.6)" class="k6" d="M-33,0Q0,-15.8 33,0Q0,15.8 -33,0"/><ellipse transform="translate(126.8 92.8)rotate(30.6)" class="nv" rx="6.8" ry="4"/><path transform="translate(286.1 104.5)rotate(136.9)" class="k1" d="M-22.6,0Q0,-12.7 22.6,0Q0,12.7 -22.6,0"/><ellipse transform="translate(286.1 104.5)rotate(136.9)" class="nv" rx="5.3" ry="4"/><ellipse transform="translate(20.5 318.3)rotate(27.8)" class="k6" rx="15.2" ry="6.4"/><path transform="translate(383.1 388.9)rotate(88.8)" class="k1" d="M-16.8,0Q0,-15.1 16.8,0Q0,15.1 -16.8,0"/><ellipse transform="translate(383.1 388.9)rotate(88.8)" class="nv" rx="5" ry="4"/><path transform="translate(28.3 189.9)rotate(74.3)" class="k6" d="M-18,0Q0,-11.8 18,0Q0,11.8 -18,0"/><ellipse transform="translate(40.3 436.9)rotate(174.5)" class="k6" rx="11.6" ry="11.6"/><ellipse transform="translate(40.3 436.9)rotate(174.5)" class="nv" rx="5" ry="5.2"/><ellipse transform="translate(168.4 63.5)rotate(125.1)" class="k6" rx="24" ry="6.8"/><ellipse transform="translate(168.4 63.5)rotate(125.1)" class="nu" rx="5.6" ry="4"/><path transform="translate(281.1 286.2)rotate(135.6)" class="k3" d="M-17.8,0Q0,-18 17.8,0Q0,18 -17.8,0"/><ellipse transform="translate(281.1 286.2)rotate(135.6)" class="nv" rx="5" ry="4"/><ellipse transform="translate(427.9 359.2)rotate(29)" class="k5" rx="20.9" ry="4.7"/><path transform="translate(236.6 399.4)rotate(49.6)" class="k4" d="M-25.2,0Q0,-9.7 25.2,0Q0,9.7 -25.2,0"/><ellipse transform="translate(236.6 399.4)rotate(49.6)" class="nu" rx="5.9" ry="4"/><path transform="translate(354.5 282)rotate(41.7)" class="k4" d="M-33.7,0Q0,-17.9 33.7,0Q0,17.9 -33.7,0"/><ellipse transform="translate(354.5 282)rotate(41.7)" class="nu" rx="6.8" ry="4"/><ellipse transform="translate(412.7 395.7)rotate(31.8)" class="k5" rx="17.8" ry="8.1"/><ellipse transform="translate(412.7 395.7)rotate(31.8)" class="nv" rx="5" ry="4"/><ellipse transform="translate(249.6 144)rotate(179.7)" class="k2" rx="12.1" ry="4.4"/><ellipse transform="translate(249.6 144)rotate(179.7)" class="nw" rx="5" ry="4"/><ellipse transform="translate(63.3 269.3)rotate(31.4)" class="k7" rx="19.3" ry="6.8"/><ellipse transform="translate(63.3 269.3)rotate(31.4)" class="nu" rx="5" ry="4"/><path transform="translate(285.8 243.8)rotate(92.1)" class="k4" d="M-34.7,0Q0,-16 34.7,0Q0,16 -34.7,0"/><ellipse transform="translate(285.8 243.8)rotate(92.1)" class="nv" rx="6.8" ry="4"/><ellipse transform="translate(49 77.3)rotate(168)" class="k4" rx="22.8" ry="7.7"/><ellipse transform="translate(49 77.3)rotate(168)" class="nu" rx="5.3" ry="4"/><path transform="translate(359.2 440.2)rotate(48.3)" class="k7" d="M-21.4,0Q0,-16.7 21.4,0Q0,16.7 -21.4,0"/><path transform="translate(352.6 202.2)rotate(15)" class="k3" d="M-27.3,0Q0,-12.7 27.3,0Q0,12.7 -27.3,0"/><ellipse transform="translate(351.9 31.8)rotate(110.9)" class="k7" rx="22.7" ry="6.7"/><ellipse transform="translate(351.9 31.8)rotate(110.9)" class="nu" rx="5.3" ry="4"/><path transform="translate(334.6 177.6)rotate(54.8)" class="k2" d="M-31.9,0Q0,-9.9 31.9,0Q0,9.9 -31.9,0"/><ellipse transform="translate(334.6 177.6)rotate(54.8)" class="nv" rx="6.8" ry="4"/><ellipse transform="translate(296.9 402.1)rotate(93.5)" class="k3" rx="17.2" ry="5"/><ellipse transform="translate(296.9 402.1)rotate(93.5)" class="nv" rx="5" ry="4"/><path transform="translate(255.8 181.3)rotate(107.8)" class="k1" d="M-17,0Q0,-18.3 17,0Q0,18.3 -17,0"/><ellipse transform="translate(255.8 181.3)rotate(107.8)" class="nv" rx="5" ry="4"/><path transform="translate(351.1 54.3)rotate(46.4)" class="k3" d="M-29.3,0Q0,-13.1 29.3,0Q0,13.1 -29.3,0"/><path transform="translate(84.3 188)rotate(46)" class="k6" d="M-34.5,0Q0,-15.5 34.5,0Q0,15.5 -34.5,0"/><path transform="translate(214.4 354.3)rotate(14.1)" class="k4" d="M-21,0Q0,-12.8 21,0Q0,12.8 -21,0"/><ellipse transform="translate(214.4 354.3)rotate(14.1)" class="nw" rx="5" ry="4"/><ellipse transform="translate(140.4 130.3)rotate(58)" class="k4" rx="12.2" ry="5.5"/><ellipse transform="translate(140.4 130.3)rotate(58)" class="nv" rx="5" ry="4"/><ellipse transform="translate(104.9 168.3)rotate(10.6)" class="k1" rx="9.2" ry="9.2"/><ellipse transform="translate(104.9 168.3)rotate(10.6)" class="nv" rx="5" ry="4.2"/><ellipse transform="translate(368.7 232.2)rotate(173.7)" class="k9" rx="8.7" ry="8.7"/><ellipse transform="translate(368.7 232.2)rotate(173.7)" class="nw" rx="5" ry="4"/><path transform="translate(98.9 9.8)rotate(115.8)" class="k1" d="M-25.5,0Q0,-10.9 25.5,0Q0,10.9 -25.5,0"/><ellipse transform="translate(98.9 9.8)rotate(115.8)" class="nv" rx="6" ry="4"/><path transform="translate(220.2 158.3)rotate(177.2)" class="k4" d="M-30.7,0Q0,-12.8 30.7,0Q0,12.8 -30.7,0"/><ellipse transform="translate(220.2 158.3)rotate(177.2)" class="nu" rx="6.8" ry="4"/><ellipse transform="translate(184.9 4.2)rotate(149.1)" class="k5" rx="11.9" ry="11.9"/><ellipse transform="translate(184.9 4.2)rotate(149.1)" class="nu" rx="5" ry="5.3"/><path transform="translate(153.5 192.9)rotate(71.5)" class="k7" d="M-20.5,0Q0,-15.9 20.5,0Q0,15.9 -20.5,0"/><ellipse transform="translate(153.5 192.9)rotate(71.5)" class="nv" rx="5" ry="4"/><ellipse transform="translate(327.8 219.5)rotate(47.5)" class="k3" rx="8.4" ry="8.4"/><ellipse transform="translate(327.8 219.5)rotate(47.5)" class="nw" rx="5" ry="4"/><ellipse transform="translate(359.2 366.9)rotate(149.3)" class="k6" rx="22.2" ry="7.1"/><ellipse transform="translate(359.2 366.9)rotate(149.3)" class="nu" rx="5.2" ry="4"/><ellipse transform="translate(6.9 34.6)rotate(82.1)" class="k3" rx="12.4" ry="8.6"/><ellipse transform="translate(6.9 34.6)rotate(82.1)" class="nu" rx="5" ry="4"/><ellipse transform="translate(10.3 452.7)rotate(31)" class="k6" rx="8.6" ry="8.6"/><ellipse transform="translate(10.3 452.7)rotate(31)" class="nw" rx="5" ry="4"/><path transform="translate(328.4 398.2)rotate(179.3)" class="k6" d="M-24.2,0Q0,-11.9 24.2,0Q0,11.9 -24.2,0"/><ellipse transform="translate(328.4 398.2)rotate(179.3)" class="nv" rx="5.7" ry="4"/><path transform="translate(63.6 154.5)rotate(175.2)" class="k7" d="M-31.6,0Q0,-13.5 31.6,0Q0,13.5 -31.6,0"/><ellipse transform="translate(63.6 154.5)rotate(175.2)" class="nu" rx="6.8" ry="4"/><ellipse transform="translate(227.1 50.7)rotate(13.2)" class="k4" rx="13.4" ry="8.6"/><ellipse transform="translate(227.1 50.7)rotate(13.2)" class="nu" rx="5" ry="4"/><path transform="translate(440 143)rotate(139.6)" class="k5" d="M-32.3,0Q0,-9.6 32.3,0Q0,9.6 -32.3,0"/><ellipse transform="translate(440 143)rotate(139.6)" class="nv" rx="6.8" ry="4"/><path transform="translate(178.9 361.3)rotate(142.3)" class="k7" d="M-33.4,0Q0,-13.2 33.4,0Q0,13.2 -33.4,0"/><ellipse transform="translate(178.9 361.3)rotate(142.3)" class="nv" rx="6.8" ry="4"/><ellipse transform="translate(331.3 111.7)rotate(50.3)" class="k5" rx="20.7" ry="8.4"/><ellipse transform="translate(331.3 111.7)rotate(50.3)" class="nu" rx="5" ry="4"/><ellipse transform="translate(364.2 258.9)rotate(139.2)" class="k9" rx="9" ry="9"/><ellipse transform="translate(364.2 258.9)rotate(139.2)" class="nw" rx="5" ry="4.1"/><ellipse transform="translate(6.1 108.5)rotate(148.4)" class="k2" rx="9.1" ry="9.1"/><ellipse transform="translate(6.1 108.5)rotate(148.4)" class="nu" rx="5" ry="4.1"/><path transform="translate(57.2 184.4)rotate(19)" class="k2" d="M-27.9,0Q0,-10.7 27.9,0Q0,10.7 -27.9,0"/><ellipse transform="translate(57.2 184.4)rotate(19)" class="nv" rx="6.5" ry="4"/><path transform="translate(136.2 163.4)rotate(108.3)" class="k1" d="M-17.7,0Q0,-11 17.7,0Q0,11 -17.7,0"/><ellipse transform="translate(136.2 163.4)rotate(108.3)" class="nv" rx="5" ry="4"/><ellipse transform="translate(78.4 53.6)rotate(29.5)" class="k5" rx="9.9" ry="9.9"/><ellipse transform="translate(78.4 53.6)rotate(29.5)" class="nv" rx="5" ry="4.5"/><path transform="translate(326.6 23.3)rotate(95.8)" class="k4" d="M-24.1,0Q0,-13.2 24.1,0Q0,13.2 -24.1,0"/><ellipse transform="translate(326.6 23.3)rotate(95.8)" class="nv" rx="5.6" ry="4"/><ellipse transform="translate(243.8 258.2)rotate(161.5)" class="k3" rx="25.2" ry="7.2"/><ellipse transform="translate(243.8 258.2)rotate(161.5)" class="nu" rx="5.9" ry="4"/><ellipse transform="translate(339.3 264.8)rotate(140.2)" class="k5" rx="23.2" ry="7"/><ellipse transform="translate(339.3 264.8)rotate(140.2)" class="nw" rx="5.4" ry="4"/><ellipse transform="translate(143.9 451.2)rotate(171.6)" class="k2" rx="9.3" ry="9.3"/><ellipse transform="translate(143.9 451.2)rotate(171.6)" class="nu" rx="5" ry="4.2"/><path transform="translate(414.1 330.9)rotate(94.5)" class="k5" d="M-28.9,0Q0,-18.1 28.9,0Q0,18.1 -28.9,0"/><ellipse transform="translate(330.4 81.3)rotate(7.6)" class="k3" rx="16.2" ry="8.5"/><ellipse transform="translate(330.4 81.3)rotate(7.6)" class="nu" rx="5" ry="4"/><ellipse transform="translate(178.9 284.5)rotate(52.1)" class="k7" rx="15.3" ry="8.3"/><path transform="translate(59.2 360.5)rotate(137.4)" class="k7" d="M-33.8,0Q0,-14.7 33.8,0Q0,14.7 -33.8,0"/><ellipse transform="translate(59.2 360.5)rotate(137.4)" class="nw" rx="6.8" ry="4"/><ellipse transform="translate(418.7 442)rotate(28.8)" class="k9" rx="10.1" ry="10.1"/><path transform="translate(414.1 131)rotate(76)" class="k6" d="M-27.3,0Q0,-16.2 27.3,0Q0,16.2 -27.3,0"/><ellipse transform="translate(414.1 131)rotate(76)" class="nw" rx="6.4" ry="4"/><path transform="translate(113.2 309.9)rotate(72.6)" class="k7" d="M-25.2,0Q0,-13.4 25.2,0Q0,13.4 -25.2,0"/><ellipse transform="translate(113.2 309.9)rotate(72.6)" class="nu" rx="5.9" ry="4"/><path transform="translate(355.5 165.2)rotate(68.4)" class="k1" d="M-16,0Q0,-9.4 16,0Q0,9.4 -16,0"/><ellipse transform="translate(355.5 165.2)rotate(68.4)" class="nv" rx="5" ry="4"/><ellipse transform="translate(436.6 91.9)rotate(78.9)" class="k9" rx="7.4" ry="7.4"/><ellipse transform="translate(436.6 91.9)rotate(78.9)" class="nw" rx="5" ry="4"/><ellipse transform="translate(141 -3.5)rotate(74.4)" class="k5" rx="9.4" ry="9.4"/><path transform="translate(214.8 428.3)rotate(92.3)" class="k6" d="M-24.7,0Q0,-11.2 24.7,0Q0,11.2 -24.7,0"/><ellipse transform="translate(214.8 428.3)rotate(92.3)" class="nv" rx="5.8" ry="4"/><ellipse transform="translate(365.6 133.3)rotate(73.8)" class="k2" rx="15.1" ry="7.3"/><ellipse transform="translate(365.6 133.3)rotate(73.8)" class="nw" rx="5" ry="4"/><path transform="translate(439.3 176.3)rotate(82.2)" class="k5" d="M-28.3,0Q0,-10.1 28.3,0Q0,10.1 -28.3,0"/><ellipse transform="translate(439.3 176.3)rotate(82.2)" class="nv" rx="6.6" ry="4"/><ellipse transform="translate(325.3 152.9)rotate(66.1)" class="k6" rx="24.9" ry="5.3"/><ellipse transform="translate(325.3 152.9)rotate(66.1)" class="nv" rx="5.8" ry="4"/><path transform="translate(374.8 207.8)rotate(94.3)" class="k4" d="M-29.9,0Q0,-9.7 29.9,0Q0,9.7 -29.9,0"/><ellipse transform="translate(374.8 207.8)rotate(94.3)" class="nw" rx="6.8" ry="4"/><path transform="translate(294.8 316.2)rotate(134)" class="k8" d="M-27,0Q0,-12.1 27,0Q0,12.1 -27,0"/><ellipse transform="translate(294.8 316.2)rotate(134)" class="nv" rx="6.3" ry="4"/><ellipse transform="translate(70.7 236.3)rotate(29)" class="k7" rx="11.5" ry="11.5"/><ellipse transform="translate(70.7 236.3)rotate(29)" class="nv" rx="5" ry="5.2"/><ellipse transform="translate(30.4 358.1)rotate(63.9)" class="k3" rx="11.3" ry="11.3"/><ellipse transform="translate(30.4 358.1)rotate(63.9)" class="nw" rx="5" ry="5.1"/><path transform="translate(189 31.2)rotate(58.2)" class="k5" d="M-27.3,0Q0,-10.6 27.3,0Q0,10.6 -27.3,0"/><ellipse transform="translate(372.7 75)rotate(16.9)" class="k6" rx="22.9" ry="5.9"/><ellipse transform="translate(372.7 75)rotate(16.9)" class="nw" rx="5.4" ry="4"/><path transform="translate(76.9 127)rotate(131.7)" class="k7" d="M-30.8,0Q0,-14.9 30.8,0Q0,14.9 -30.8,0"/><path transform="translate(383.4 270.1)rotate(143.2)" class="k5" d="M-19.2,0Q0,-12.1 19.2,0Q0,12.1 -19.2,0"/><ellipse transform="translate(383.4 270.1)rotate(143.2)" class="nv" rx="5" ry="4"/><path transform="translate(414.2 179.9)rotate(94)" class="k1" d="M-28.1,0Q0,-14.6 28.1,0Q0,14.6 -28.1,0"/><ellipse transform="translate(414.2 179.9)rotate(94)" class="nv" rx="6.6" ry="4"/><path transform="translate(437.1 215.7)rotate(30.3)" class="k4" d="M-23.7,0Q0,-13.9 23.7,0Q0,13.9 -23.7,0"/><ellipse transform="translate(437.1 215.7)rotate(30.3)" class="nv" rx="5.6" ry="4"/><path transform="translate(329.1 198.3)rotate(72)" class="k5" d="M-33,0Q0,-15.6 33,0Q0,15.6 -33,0"/><ellipse transform="translate(329.1 198.3)rotate(72)" class="nv" rx="6.8" ry="4"/><path transform="translate(108.9 42.7)rotate(101.5)" class="k3" d="M-22.1,0Q0,-17 22.1,0Q0,17 -22.1,0"/><ellipse transform="translate(108.9 42.7)rotate(101.5)" class="nv" rx="5.2" ry="4"/><ellipse transform="translate(393.6 165.2)rotate(46.7)" class="k9" rx="8.3" ry="8.3"/><ellipse transform="translate(393.6 165.2)rotate(46.7)" class="nv" rx="5" ry="4"/><ellipse transform="translate(252.4 93.2)rotate(34.2)" class="k5" rx="9.5" ry="9.5"/><ellipse transform="translate(252.4 93.2)rotate(34.2)" class="nw" rx="5" ry="4.3"/><ellipse transform="translate(141.2 239)rotate(131.5)" class="k4" rx="9.9" ry="9.9"/><ellipse transform="translate(141.2 239)rotate(131.5)" class="nu" rx="5" ry="4.4"/><ellipse transform="translate(201.7 186.6)rotate(28.2)" class="k4" rx="11.7" ry="7"/><ellipse transform="translate(435.7 115.9)rotate(45.4)" class="k2" rx="16" ry="7.6"/><ellipse transform="translate(435.7 115.9)rotate(45.4)" class="nw" rx="5" ry="4"/><ellipse transform="translate(254 228.7)rotate(22.8)" class="k7" rx="11.9" ry="11.9"/><ellipse transform="translate(254 228.7)rotate(22.8)" class="nu" rx="5" ry="5.3"/><ellipse transform="translate(115.6 208.4)rotate(90.7)" class="k6" rx="9.2" ry="9.2"/><ellipse transform="translate(115.6 208.4)rotate(90.7)" class="nv" rx="5" ry="4.2"/><ellipse transform="translate(170.9 127.9)rotate(24.4)" class="k3" rx="20.5" ry="5.6"/><ellipse transform="translate(170.9 127.9)rotate(24.4)" class="nu" rx="5" ry="4"/><path transform="translate(70 417.7)rotate(22.7)" class="k7" d="M-16.6,0Q0,-11.3 16.6,0Q0,11.3 -16.6,0"/><ellipse transform="translate(70 417.7)rotate(22.7)" class="nu" rx="5" ry="4"/><ellipse transform="translate(136.1 43.8)rotate(8.1)" class="k5" rx="11.8" ry="7.7"/><ellipse transform="translate(136.1 43.8)rotate(8.1)" class="nu" rx="5" ry="4"/><path transform="translate(398.1 243.7)rotate(117.5)" class="k8" d="M-31,0Q0,-15.6 31,0Q0,15.6 -31,0"/><ellipse transform="translate(398.1 243.7)rotate(117.5)" class="nu" rx="6.8" ry="4"/><path transform="translate(414.5 81.6)rotate(12)" class="k5" d="M-20.4,0Q0,-12.9 20.4,0Q0,12.9 -20.4,0"/><ellipse transform="translate(414.5 81.6)rotate(12)" class="nw" rx="5" ry="4"/><ellipse transform="translate(437.7 9.1)rotate(147.9)" class="k6" rx="9.5" ry="9.5"/><ellipse transform="translate(437.7 9.1)rotate(147.9)" class="nv" rx="5" ry="4.3"/><path transform="translate(354.3 402.3)rotate(2.4)" class="k7" d="M-33,0Q0,-17.1 33,0Q0,17.1 -33,0"/><ellipse transform="translate(354.3 402.3)rotate(2.4)" class="nw" rx="6.8" ry="4"/><path transform="translate(203.5 65.1)rotate(172.8)" class="k5" d="M-16,0Q0,-16.4 16,0Q0,16.4 -16,0"/><ellipse transform="translate(203.5 65.1)rotate(172.8)" class="nu" rx="5" ry="4"/><path transform="translate(249.9 43.2)rotate(137.3)" class="k2" d="M-17.6,0Q0,-15.4 17.6,0Q0,15.4 -17.6,0"/><ellipse transform="translate(249.9 43.2)rotate(137.3)" class="nv" rx="5" ry="4"/><path transform="translate(176.6 411.4)rotate(120.5)" class="k6" d="M-31.8,0Q0,-13.2 31.8,0Q0,13.2 -31.8,0"/><ellipse transform="translate(176.6 411.4)rotate(120.5)" class="nu" rx="6.8" ry="4"/><path transform="translate(310.5 174.4)rotate(61.3)" class="k6" d="M-25.6,0Q0,-11.6 25.6,0Q0,11.6 -25.6,0"/><path transform="translate(394.6 315.9)rotate(145.7)" class="k8" d="M-20.7,0Q0,-10.2 20.7,0Q0,10.2 -20.7,0"/><ellipse transform="translate(394.6 315.9)rotate(145.7)" class="nv" rx="5" ry="4"/><path transform="translate(297.5 263.8)rotate(169.7)" class="k3" d="M-18.2,0Q0,-16.1 18.2,0Q0,16.1 -18.2,0"/><ellipse transform="translate(297.5 263.8)rotate(169.7)" class="nu" rx="5" ry="4"/><ellipse transform="translate(92.1 374.6)rotate(99.1)" class="k9" rx="8" ry="8"/><ellipse transform="translate(92.1 374.6)rotate(99.1)" class="nv" rx="5" ry="4"/><ellipse transform="translate(320.5 456.3)rotate(44.9)" class="k7" rx="8.9" ry="8.9"/><ellipse transform="translate(368.2 109.6)rotate(40.8)" class="k2" rx="10.6" ry="10.6"/><ellipse transform="translate(368.2 109.6)rotate(40.8)" class="nv" rx="5" ry="4.8"/><ellipse transform="translate(280.8 62)rotate(121.6)" class="k7" rx="10.6" ry="10.6"/><ellipse transform="translate(280.8 62)rotate(121.6)" class="nv" rx="5" ry="4.8"/><ellipse transform="translate(438.1 241)rotate(38.8)" class="k1" rx="8.6" ry="8.6"/><ellipse transform="translate(438.1 241)rotate(38.8)" class="nv" rx="5" ry="4"/><ellipse transform="translate(138.2 347.2)rotate(163.7)" class="k9" rx="7.7" ry="7.7"/><ellipse transform="translate(138.2 347.2)rotate(163.7)" class="nu" rx="5" ry="4"/><ellipse transform="translate(353.7 1.2)rotate(7.1)" class="k5" rx="25.6" ry="7"/><ellipse transform="translate(353.7 1.2)rotate(7.1)" class="nu" rx="6" ry="4"/><path transform="translate(2.2 368.8)rotate(94)" class="k4" d="M-17.1,0Q0,-14.4 17.1,0Q0,14.4 -17.1,0"/><ellipse transform="translate(2.2 368.8)rotate(94)" class="nv" rx="5" ry="4"/><ellipse transform="translate(2.8 -0)rotate(169.6)" class="k6" rx="12.1" ry="4.5"/><ellipse transform="translate(2.8 -0)rotate(169.6)" class="nv" rx="5" ry="4"/><path transform="translate(418 226.3)rotate(106.5)" class="k7" d="M-30.1,0Q0,-10.4 30.1,0Q0,10.4 -30.1,0"/><ellipse transform="translate(418 226.3)rotate(106.5)" class="nu" rx="6.8" ry="4"/><path transform="translate(216.8 283.3)rotate(67.4)" class="k6" d="M-34.8,0Q0,-18.1 34.8,0Q0,18.1 -34.8,0"/><ellipse transform="translate(216.8 283.3)rotate(67.4)" class="nu" rx="6.8" ry="4"/><ellipse transform="translate(23.1 269.5)rotate(66.6)" class="k5" rx="10.1" ry="10.1"/><ellipse transform="translate(169.8 99.9)rotate(47.6)" class="k2" rx="8.5" ry="8.5"/><ellipse transform="translate(169.8 99.9)rotate(47.6)" class="nu" rx="5" ry="4"/></g>
<g filter="url(#b1)"><rect x="384" y="428" width="37" height="6.5" fill="#fff"/><rect x="390" y="417" width="26" height="9" fill="#fff" opacity=".4"/></g></svg></g>
<clipPath id="c10"><rect x="25.0" y="115.8" width="71.0" height="73.7"/></clipPath>
<rect x="25.0" y="115.8" width="71.0" height="73.7" fill="#000"/>
<g clip-path="url(#c10)"><svg x="25" y="116" width="71" height="73" viewBox="0 0 435 447" preserveAspectRatio="none" overflow="visible"><g transform="rotate(-174.2)"><path d="M-79.6,8.1Q-156,-2.2 -228.8,23.2Q-235.9,-1.1 -253.3,-19.5Q-228.1,-13.5 -203,-19.6Q-178.2,-11 -152.3,-14.7Q-121.7,-10.6 -92.6,-20.8L-79.6,8.1Z" fill="#c84c00" stroke="#f87006" stroke-width="9" stroke-linejoin="round" filter="url(#b2)"/></g><g transform="rotate(87.1)"><path d="M30,1.5L61.4,-26.9Q97.4,-21.7 131.9,-33.4L152.3,-42.4Q174.1,-25.2 201.3,-19.8L209.7,10.6Q120.9,-15.5 30,1.5Z" fill="#c84c00" stroke="#f87006" stroke-width="9" stroke-linejoin="round" filter="url(#b2)"/></g><g transform="rotate(94.1)"><path d="M149.6,-10.7Q148.7,-36.9 136.1,-59.9Q177.1,-55.7 215.5,-70.5Q254.8,-56.2 296.4,-61.3Q336.1,-49.5 376.9,-57L399,-28.5Q272.7,-41.6 149.6,-10.7Z" fill="#c84c00" stroke="#f87006" stroke-width="9" stroke-linejoin="round" filter="url(#b2)"/></g><g transform="rotate(46.5)"><path d="M56.7,5.6Q116.4,-30 153.3,-88.8Q150.1,-56.1 162,-25.4Q167.3,11 188.5,41.1L153.2,42Q123.4,24.5 89,22.5L56.7,5.6Z" fill="#c84c00" stroke="#f87006" stroke-width="9" stroke-linejoin="round" filter="url(#b2)"/></g><g transform="rotate(-160.6)"><path d="M-181.9,-4.8Q-221.8,9.7 -250.7,40.7Q-301.1,53.6 -340.1,88.1Q-368.3,65.1 -403.8,57.5Q-424.4,33.8 -453.5,22Q-456.1,-3.6 -470.1,-25.1Q-450.6,-11.7 -427.1,-8.5Q-409.7,10.4 -385.5,19.3Q-349.2,20.7 -316.2,5.4Q-275,3.7 -239.1,-16.5Q-211.9,-3.8 -181.9,-4.8Z" fill="#c84c00" stroke="#f87006" stroke-width="9" stroke-linejoin="round" filter="url(#b2)"/></g><g transform="rotate(-175.1)"><path d="M-260.6,-113.2Q-276,-149.3 -306,-174.5Q-286.9,-249.6 -303.9,-325.2Q-268.8,-299.1 -225.7,-291.8Q-193.2,-266.1 -152.6,-257.9Q-127.3,-235.9 -94.8,-227.7Q-136.4,-210.6 -165.7,-176.5Q-220.7,-156.2 -260.6,-113.2Z" fill="#a23e00" stroke="#e86606" stroke-width="9" stroke-linejoin="round" filter="url(#b2)"/></g><g transform="rotate(50.3)"><path d="M226.8,110.5Q264.3,117.7 301,107.2Q340.1,116.5 379.1,107.1L422.7,117.3L397.1,148L356.2,166Q321.2,153.6 284.4,158.4L244.1,144.4L226.8,110.5Z" fill="#c84c00" stroke="#f87006" stroke-width="9" stroke-linejoin="round" filter="url(#b2)"/></g><g transform="rotate(121.9)"><path d="M-66.8,-429.5L-93.8,-453.9Q-64.5,-463.6 -42.8,-485.6Q0.2,-470.1 45.7,-475.8Q79.8,-470.9 112.4,-482L144.2,-478.2Q141.8,-444.9 154.7,-414.1Q122.2,-430.4 85.8,-430.2Q43.6,-443.2 -0,-435.7Q-34.2,-440.6 -66.8,-429.5Z" fill="#c84c00" stroke="#f87006" stroke-width="9" stroke-linejoin="round" filter="url(#b2)"/></g><g transform="rotate(-173.8)"><path d="M-69.6,-364.6Q-96.4,-357.7 -117.2,-339.4Q-124.1,-366.2 -142.4,-386.9Q-167.9,-390.2 -192.1,-381.5Q-194.2,-406.2 -207.1,-427.2Q-125.5,-416.7 -48.1,-444.4Q-51.2,-420.4 -43,-397.7L-69.6,-364.6Z" fill="#c84c00" stroke="#f87006" stroke-width="9" stroke-linejoin="round" filter="url(#b2)"/></g><g transform="rotate(92.7)"><path d="M279.9,-433.7L269.2,-448.2Q324.7,-437.6 379,-453.4L370.2,-427.9Q344,-427.7 320.8,-415.6L279.9,-433.7Z" fill="#c84c00" stroke="#f87006" stroke-width="9" stroke-linejoin="round" filter="url(#b2)"/></g><g filter="url(#b3)"><ellipse cx="80" cy="90" rx="28" ry="22" fill="#14b0ec" transform="rotate(20 80 90)"/><ellipse cx="275" cy="75" rx="38" ry="18" fill="#14b0ec" transform="rotate(5 275 75)"/><ellipse cx="215" cy="235" rx="25" ry="38" fill="#14b0ec" transform="rotate(10 215 235)"/><ellipse cx="5" cy="255" rx="18" ry="30" fill="#14b0ec" transform="rotate(0 5 255)"/><ellipse cx="15" cy="330" rx="18" ry="32" fill="#14b0ec" transform="rotate(0 15 330)"/><ellipse cx="118" cy="340" rx="22" ry="28" fill="#14b0ec" transform="rotate(-30 118 340)"/><ellipse cx="350" cy="292" rx="20" ry="38" fill="#14b0ec" transform="rotate(25 350 292)"/></g><g filter="url(#b1)"></g>
<g filter="url(#b1)"><rect x="366" y="427" width="55" height="7" fill="#c4c4c4"/><rect x="385" y="414" width="30" height="10" fill="#fff" opacity=".35"/></g></svg></g>
<clipPath id="c11"><rect x="101.7" y="115.8" width="71.0" height="73.7"/></clipPath>
<rect x="101.7" y="115.8" width="71.0" height="73.7" fill="#000"/>
<g clip-path="url(#c11)"><svg x="102" y="116" width="71" height="73" viewBox="0 0 435 447" preserveAspectRatio="none" overflow="visible"><g transform="rotate(-152.2)"><path d="M-17,2.1L-53.1,27.9Q-88.6,34.3 -117.4,56.1Q-156.7,47.5 -195.6,57.7Q-230,47.9 -265,54.7Q-289.4,42.3 -316.7,42.4Q-350.4,35 -383.8,43.8L-428.5,44.7Q-449.7,34.2 -473.4,34.4Q-482.3,-0.5 -506,-27.5L-465.7,-26.1Q-435.8,-12.5 -402.9,-14Q-374.8,-7.9 -347,-15.2Q-318.9,-9 -291.1,-16.3Q-264.9,-17.7 -242.2,-30.8L-238,-44.3Q-212.4,-26.9 -181.6,-23.1Q-152.3,-12 -121.1,-15.4Q-95.5,-8.6 -69.6,-14.2L-29.7,-9.2L-17,2.1Z" fill="#cc4e00" stroke="#fa7408" stroke-width="9" stroke-linejoin="round" filter="url(#b2)"/></g><g transform="rotate(115.9)"><path d="M159,-221.9Q159.8,-253.7 146.2,-282.4Q143.5,-318.7 124.6,-349.7L111.6,-387.9L147.3,-383Q178,-363.4 214.1,-359.9Q241.5,-355.4 267.8,-363.8L294.6,-354.6L287.5,-323.3Q259.1,-309.2 240.1,-283.6Q216.7,-270.5 201.7,-248.2Q177.2,-240.2 159,-221.9Z" fill="#a84000" stroke="#f06c06" stroke-width="9" stroke-linejoin="round" filter="url(#b2)"/></g><g filter="url(#b3)"><ellipse cx="150" cy="30" rx="25" ry="14" fill="#2ab4e8" transform="rotate(10 150 30)"/><ellipse cx="180" cy="85" rx="45" ry="25" fill="#4cc0ea" transform="rotate(20 180 85)"/><ellipse cx="410" cy="220" rx="35" ry="20" fill="#2aaee4" transform="rotate(20 410 220)"/><ellipse cx="200" cy="315" rx="28" ry="25" fill="#14b0ec" transform="rotate(0 200 315)"/></g><g filter="url(#b1)"></g>
<g filter="url(#b1)"><rect x="366" y="427" width="55" height="7" fill="#c4c4c4"/><rect x="385" y="414" width="30" height="10" fill="#fff" opacity=".35"/></g></svg></g>
<clipPath id="c12"><rect x="178.3" y="115.8" width="71.0" height="73.7"/></clipPath>
<rect x="178.3" y="115.8" width="71.0" height="73.7" fill="#000"/>
<g clip-path="url(#c12)"><svg x="178" y="116" width="71" height="73" viewBox="0 0 435 447" preserveAspectRatio="none" overflow="visible"><g transform="rotate(-176)"><path d="M-135.7,-5.6Q-169.5,-6 -199.9,8.9Q-234.5,-2.1 -270.4,3.8L-302.1,-19.1L-293.8,-44.7Q-257.5,-43.8 -224.7,-59.5Q-195.1,-49.4 -164.1,-53.7L-142.4,-30.2L-135.7,-5.6Z" fill="#a03a00" stroke="#ff7a08" stroke-width="13" stroke-linejoin="round" filter="url(#b2)"/></g><g transform="rotate(53.1)"><path d="M107,24L114,-2Q139.7,-3.3 162,-16Q194.9,-16.6 224,-32.1L212,9L200,50L199,68Q178.7,51.4 153,46Q132.6,29.4 107,24Z" fill="#a03a00" stroke="#ff7a08" stroke-width="13" stroke-linejoin="round" filter="url(#b2)"/></g><g transform="rotate(46.4)"><path d="M208.1,-22.7Q235.2,-18.8 261,-27.5Q299.5,-24.9 335,-40Q367.9,-45.9 394.5,-66.1Q423.1,-69.3 447.1,-85.1L479,-82.3L501,-47.5Q499.3,-21.9 509.3,1.8L517.1,29.9L481.4,16.6Q454.5,3.4 424.5,3.9Q390.5,-10.9 353.4,-8.6Q315.1,-20.5 275.5,-13.8Q252,-16.9 229.7,-9.1L208.1,-22.7Z" fill="#a03a00" stroke="#ff7a08" stroke-width="13" stroke-linejoin="round" filter="url(#b2)"/></g><g transform="rotate(86.8)"><path d="M203.1,-404.2L194.2,-424.7Q221.3,-416.6 249.2,-421.6L238.3,-407.2L203.1,-404.2Z" fill="#a03a00" stroke="#ff7a08" stroke-width="13" stroke-linejoin="round" filter="url(#b2)"/></g><g transform="rotate(-141)"><path d="M-303.2,245.2Q-324.1,255.2 -338.2,273.5L-363.4,242.4L-334.5,238.4L-303.2,245.2Z" fill="#a03a00" stroke="#ff7a08" stroke-width="13" stroke-linejoin="round" filter="url(#b2)"/></g><g filter="url(#b3)"><ellipse cx="222" cy="38" rx="35" ry="20" fill="#1a9cd4" transform="rotate(0 222 38)"/><ellipse cx="88" cy="145" rx="22" ry="20" fill="#1a9cd4" transform="rotate(30 88 145)"/><ellipse cx="322" cy="275" rx="38" ry="28" fill="#1a9cd4" transform="rotate(35 322 275)"/></g><g filter="url(#b1)"></g>
<g filter="url(#b1)"><rect x="366" y="427" width="55" height="7" fill="#c4c4c4"/><rect x="385" y="414" width="30" height="10" fill="#fff" opacity=".35"/></g></svg></g>
<clipPath id="c13"><rect x="255.0" y="115.8" width="71.0" height="73.7"/></clipPath>
<rect x="255.0" y="115.8" width="71.0" height="73.7" fill="#000"/>
<g clip-path="url(#c13)"><svg x="255" y="116" width="71" height="73" viewBox="0 0 435 447" preserveAspectRatio="none" overflow="visible"><g transform="rotate(102.2)"><path d="M0,0L-8.4,-39.1L31.7,-42.6L75,-31.5L83.1,-17.9Q39.4,-18.9 0,0Z" fill="#8e3600" stroke="#dc6408" stroke-width="10" stroke-linejoin="round" filter="url(#b2)"/></g><g transform="rotate(-178)"><path d="M-349.8,12.1Q-392.6,3.3 -434.7,15L-435.4,-5Q-412.2,-2.9 -390.6,-11.6L-355.3,-2.8L-349.8,12.1Z" fill="#8e3600" stroke="#dc6408" stroke-width="10" stroke-linejoin="round" filter="url(#b2)"/></g><g transform="rotate(62.6)"><path d="M160.8,15.8L187.9,-3.9Q213.3,-5.8 235.1,-18.9Q255.9,-7.6 279.6,-7.1L303.8,22.4L274.5,35.3Q250.6,31.6 227.5,39.1L185.1,34L160.8,15.8Z" fill="#8e3600" stroke="#dc6408" stroke-width="10" stroke-linejoin="round" filter="url(#b2)"/></g><g transform="rotate(120.8)"><path d="M-75.6,-292.6L-55.8,-327.7Q-34.3,-345.2 -23.1,-370.5Q-7.1,-397 -4.9,-427.9L24.1,-398.7Q39.2,-376.4 62.6,-363.4Q74.3,-334.7 97.7,-314.5L106.2,-290.4Q79.4,-290.1 55.6,-277.7Q21.5,-283.2 -11.3,-272.7L-52.5,-283.1L-75.6,-292.6Z" fill="#8a3600" stroke="#c85606" stroke-width="10" stroke-linejoin="round" filter="url(#b2)"/></g><g transform="rotate(-172.7)"><path d="M-231.9,-237.6Q-258,-235.3 -280.2,-221.3Q-305.4,-227.7 -330.7,-222Q-349.6,-238.5 -373.9,-244.7L-336.8,-269.6Q-311.2,-266.8 -287.2,-275.9L-249.9,-260.5L-231.9,-237.6Z" fill="#8e3600" stroke="#dc6408" stroke-width="10" stroke-linejoin="round" filter="url(#b2)"/></g><g transform="rotate(113.3)"><path d="M198.2,-297.9L227,-332.1Q253.6,-328.9 278.8,-338.2L309.1,-318.6L348.5,-302.9Q317.2,-302.7 289.5,-288.3L246.8,-286.2Q223.9,-297.9 198.2,-297.9Z" fill="#8e3600" stroke="#dc6408" stroke-width="10" stroke-linejoin="round" filter="url(#b2)"/></g><g transform="rotate(-172.3)"><path d="M-378.1,-332.2L-415.7,-312Q-448.7,-317.9 -480.8,-308.2Q-478.2,-333.8 -487.5,-357.7Q-459.4,-354.9 -433,-365.1L-395.6,-350L-378.1,-332.2Z" fill="#8e3600" stroke="#dc6408" stroke-width="10" stroke-linejoin="round" filter="url(#b2)"/></g><g transform="rotate(92.3)"><path d="M133.2,-430.6L122.8,-440.2Q158.1,-433.1 192.8,-442.9L183.4,-427.5Q158.6,-435.1 133.2,-430.6Z" fill="#8e3600" stroke="#dc6408" stroke-width="10" stroke-linejoin="round" filter="url(#b2)"/></g><g filter="url(#b3)"><ellipse cx="262" cy="190" rx="35" ry="32" fill="#3fb4e4" transform="rotate(0 262 190)"/></g><g filter="url(#b1)"><ellipse cx="10" cy="35" rx="12" ry="28" fill="#9fb8c4" transform="rotate(10 10 35)"/><ellipse cx="98" cy="222" rx="18" ry="28" fill="#9fb8c4" transform="rotate(-20 98 222)"/><ellipse cx="265" cy="288" rx="28" ry="18" fill="#c2b8a8" transform="rotate(0 265 288)"/><ellipse cx="185" cy="360" rx="16" ry="25" fill="#9fb8c4" transform="rotate(20 185 360)"/><ellipse cx="385" cy="395" rx="25" ry="18" fill="#b8b8b0" transform="rotate(0 385 395)"/></g>
<g filter="url(#b1)"><rect x="366" y="427" width="55" height="7" fill="#c4c4c4"/><rect x="385" y="414" width="30" height="10" fill="#fff" opacity=".35"/></g></svg></g>
<clipPath id="c14"><rect x="331.8" y="115.8" width="71.0" height="73.7"/></clipPath>
<rect x="331.8" y="115.8" width="71.0" height="73.7" fill="#000"/>
<g clip-path="url(#c14)"><svg x="332" y="116" width="71" height="73" viewBox="0 0 435 447" preserveAspectRatio="none" overflow="visible"><g transform="rotate(176.6)"><path d="M-74.9,-4.5Q-143.7,-25.4 -214.6,-12.9L-212.8,-42.8L-186.1,-71.3L-144.9,-88.8Q-121.8,-76.4 -95.6,-75.9L-67.5,-44.1L-74.9,-4.5Z" fill="#e25c00" stroke="#ff8210" stroke-width="9" stroke-linejoin="round" filter="url(#b2)"/></g><g transform="rotate(45)"><path d="M180.3,-137.9Q206.4,-129.8 233.3,-134.4Q273,-128.6 311.1,-141.5Q355.2,-138.4 395.9,-155.7L403,-120.3Q399.3,-96.9 406.6,-74.4Q377.9,-71.9 353.5,-56.7Q323.6,-56.4 297,-42.5Q270.9,-50.6 243.9,-46Q230,-73.7 205,-92Q198.2,-117.9 180.3,-137.9Z" fill="#e25c00" stroke="#ff8210" stroke-width="9" stroke-linejoin="round" filter="url(#b2)"/></g><g transform="rotate(173.6)"><path d="M20.1,-178.9Q-12.4,-179.7 -41.8,-165.7Q-80.9,-163.4 -114.7,-143.7Q-145.7,-141.2 -172.1,-125Q-173.9,-150.2 -187,-171.9Q-192.1,-195.6 -207.4,-214.5L-175.3,-231Q-145.5,-222.9 -115.2,-229.3Q-83.1,-212.2 -46.7,-211.5Q-13.7,-196.9 22.3,-198.8L20.1,-178.9Z" fill="#e25c00" stroke="#ff8210" stroke-width="9" stroke-linejoin="round" filter="url(#b2)"/></g><g transform="rotate(-140.2)"><path d="M-153.5,-184.5Q-166.2,-163.9 -168.2,-139.7L-205.4,-121.8Q-238.6,-142.7 -277.7,-146.2Q-296,-165.9 -321.2,-175.1L-287.9,-189.8Q-255.8,-182.7 -223.9,-191Q-196.3,-193.1 -172.7,-207.6L-153.5,-184.5Z" fill="#e25c00" stroke="#ff8210" stroke-width="9" stroke-linejoin="round" filter="url(#b2)"/></g><g transform="rotate(52.6)"><path d="M256.6,51.2Q277.8,40.6 291.8,21.5Q323.1,19.2 350,3Q374.9,9.2 400,3.4Q420.2,20.1 445.8,25.8L451.4,67.9L417.3,79.6Q385.1,72.6 353.3,81Q325.1,70.8 295.4,74.5Q278.8,58.2 256.6,51.2Z" fill="#e25c00" stroke="#ff8210" stroke-width="9" stroke-linejoin="round" filter="url(#b2)"/></g><g transform="rotate(165.3)"><path d="M-255.6,-325.6L-264.8,-369.4Q-280.2,-395.2 -305.6,-411.1L-336.9,-429.7Q-322.3,-456.9 -321.6,-487.7Q-291.8,-483.4 -263.4,-493.1Q-224.7,-478.2 -183.4,-482.4Q-165.6,-461.2 -140.2,-450.4Q-161.4,-432.6 -172.2,-407.1Q-202.5,-394.2 -223.6,-368.9Q-244.8,-351.1 -255.6,-325.6Z" fill="#e25c00" stroke="#ff8210" stroke-width="9" stroke-linejoin="round" filter="url(#b2)"/></g><g transform="rotate(-149.3)"><path d="M-171.1,-288L-213.1,-280.5Q-247.9,-288.6 -282.6,-280Q-305.8,-294.3 -333.1,-296.5L-348.6,-312.8Q-279.9,-334.1 -228.2,-384.3Q-211.2,-329.3 -171.1,-288Z" fill="#e25c00" stroke="#ff8210" stroke-width="9" stroke-linejoin="round" filter="url(#b2)"/></g><g transform="rotate(-174.7)"><path d="M-266.7,-387.1Q-316.1,-404.7 -368.1,-397.9L-379.6,-413.9Q-318.6,-405 -260.1,-424.9L-266.7,-387.1Z" fill="#e25c00" stroke="#ff8210" stroke-width="9" stroke-linejoin="round" filter="url(#b2)"/></g><g filter="url(#b3)"><ellipse cx="150" cy="18" rx="30" ry="18" fill="#2a88b4" transform="rotate(0 150 18)"/><ellipse cx="272" cy="150" rx="25" ry="40" fill="#2a88b4" transform="rotate(-30 272 150)"/><ellipse cx="148" cy="183" rx="42" ry="22" fill="#2a88b4" transform="rotate(0 148 183)"/><ellipse cx="82" cy="285" rx="20" ry="35" fill="#2a88b4" transform="rotate(-25 82 285)"/><ellipse cx="195" cy="312" rx="25" ry="42" fill="#2a88b4" transform="rotate(-15 195 312)"/><ellipse cx="305" cy="345" rx="25" ry="40" fill="#2a88b4" transform="rotate(20 305 345)"/></g><g filter="url(#b1)"></g>
<g filter="url(#b1)"><rect x="366" y="427" width="55" height="7" fill="#c4c4c4"/><rect x="385" y="414" width="30" height="10" fill="#fff" opacity=".35"/></g></svg></g>
<text x="11.20" y="219.40" font-size="11.7" text-anchor="start" fill="#222" stroke="#222">b)</text>
<line x1="42.40" y1="330.90" x2="44.40" y2="330.90" stroke="#808080" stroke-width="0.8"/>
<text x="38.00" y="333.20" font-size="6.4" text-anchor="end" fill="#262626" stroke="#262626">0</text>
<line x1="42.40" y1="313.88" x2="44.40" y2="313.88" stroke="#808080" stroke-width="0.8"/>
<text x="38.00" y="316.18" font-size="6.4" text-anchor="end" fill="#262626" stroke="#262626">5</text>
<line x1="42.40" y1="296.86" x2="44.40" y2="296.86" stroke="#808080" stroke-width="0.8"/>
<text x="38.00" y="299.16" font-size="6.4" text-anchor="end" fill="#262626" stroke="#262626">10</text>
<line x1="42.40" y1="279.84" x2="44.40" y2="279.84" stroke="#808080" stroke-width="0.8"/>
<text x="38.00" y="282.14" font-size="6.4" text-anchor="end" fill="#262626" stroke="#262626">15</text>
<line x1="42.40" y1="262.82" x2="44.40" y2="262.82" stroke="#808080" stroke-width="0.8"/>
<text x="38.00" y="265.12" font-size="6.4" text-anchor="end" fill="#262626" stroke="#262626">20</text>
<line x1="42.40" y1="245.80" x2="44.40" y2="245.80" stroke="#808080" stroke-width="0.8"/>
<text x="38.00" y="248.10" font-size="6.4" text-anchor="end" fill="#262626" stroke="#262626">25</text>
<line x1="42.40" y1="228.78" x2="44.40" y2="228.78" stroke="#808080" stroke-width="0.8"/>
<text x="38.00" y="231.08" font-size="6.4" text-anchor="end" fill="#262626" stroke="#262626">30</text>
<line x1="44.40" y1="228.38" x2="44.40" y2="331.30" stroke="#808080" stroke-width="0.9"/>
<line x1="44.40" y1="330.90" x2="147.60" y2="330.90" stroke="#808080" stroke-width="0.9"/>
<text x="85.50" y="229.30" font-size="6.3" text-anchor="middle" fill="#222" textLength="45.00" lengthAdjust="spacingAndGlyphs" stroke="#222">ADHESION 24h</text>
<rect x="50.30" y="256.10" width="10.00" height="74.40" fill="#c0c0c0"/>
<line x1="55.30" y1="247.00" x2="55.30" y2="265.00" stroke="#7a7a7a" stroke-width="0.6"/>
<line x1="54.40" y1="247.00" x2="56.20" y2="247.00" stroke="#7a7a7a" stroke-width="0.6"/>
<line x1="54.40" y1="265.00" x2="56.20" y2="265.00" stroke="#7a7a7a" stroke-width="0.6"/>
<line x1="55.30" y1="330.90" x2="55.30" y2="332.50" stroke="#808080" stroke-width="0.7"/>
<text x="56.60" y="342.70" font-size="6.5" text-anchor="end" fill="#242424" textLength="5.00" lengthAdjust="spacingAndGlyphs" transform="rotate(-34 56.60 342.70)" stroke="#242424">Ti</text>
<rect x="70.50" y="249.70" width="10.00" height="80.80" fill="#ff9540"/>
<line x1="75.50" y1="242.90" x2="75.50" y2="255.30" stroke="#7a7a7a" stroke-width="0.6"/>
<line x1="74.60" y1="242.90" x2="76.40" y2="242.90" stroke="#7a7a7a" stroke-width="0.6"/>
<line x1="74.60" y1="255.30" x2="76.40" y2="255.30" stroke="#7a7a7a" stroke-width="0.6"/>
<line x1="75.50" y1="330.90" x2="75.50" y2="332.50" stroke="#808080" stroke-width="0.7"/>
<text x="76.80" y="342.70" font-size="6.5" text-anchor="end" fill="#242424" textLength="13.40" lengthAdjust="spacingAndGlyphs" transform="rotate(-34 76.80 342.70)" stroke="#242424">Ti-Ca</text>
<rect x="90.80" y="256.70" width="10.00" height="73.80" fill="#ffdc00"/>
<line x1="95.80" y1="242.30" x2="95.80" y2="270.60" stroke="#7a7a7a" stroke-width="0.6"/>
<line x1="94.90" y1="242.30" x2="96.70" y2="242.30" stroke="#7a7a7a" stroke-width="0.6"/>
<line x1="94.90" y1="270.60" x2="96.70" y2="270.60" stroke="#7a7a7a" stroke-width="0.6"/>
<line x1="95.80" y1="330.90" x2="95.80" y2="332.50" stroke="#808080" stroke-width="0.7"/>
<text x="97.10" y="342.70" font-size="6.5" text-anchor="end" fill="#242424" textLength="22.00" lengthAdjust="spacingAndGlyphs" transform="rotate(-34 97.10 342.70)" stroke="#242424">Ga5Ag1</text>
<rect x="111.30" y="272.20" width="10.00" height="58.30" fill="#6cd040"/>
<line x1="116.30" y1="265.00" x2="116.30" y2="279.50" stroke="#7a7a7a" stroke-width="0.6"/>
<line x1="115.40" y1="265.00" x2="117.20" y2="265.00" stroke="#7a7a7a" stroke-width="0.6"/>
<line x1="115.40" y1="279.50" x2="117.20" y2="279.50" stroke="#7a7a7a" stroke-width="0.6"/>
<line x1="116.30" y1="330.90" x2="116.30" y2="332.50" stroke="#808080" stroke-width="0.7"/>
<text x="117.60" y="342.70" font-size="6.5" text-anchor="end" fill="#242424" textLength="22.40" lengthAdjust="spacingAndGlyphs" transform="rotate(-34 117.60 342.70)" stroke="#242424">Ga5Ag2</text>
<rect x="131.60" y="255.90" width="10.00" height="74.60" fill="#0996ff"/>
<line x1="136.60" y1="245.40" x2="136.60" y2="266.50" stroke="#7a7a7a" stroke-width="0.6"/>
<line x1="135.70" y1="245.40" x2="137.50" y2="245.40" stroke="#7a7a7a" stroke-width="0.6"/>
<line x1="135.70" y1="266.50" x2="137.50" y2="266.50" stroke="#7a7a7a" stroke-width="0.6"/>
<line x1="136.60" y1="330.90" x2="136.60" y2="332.50" stroke="#808080" stroke-width="0.7"/>
<text x="137.90" y="342.70" font-size="6.5" text-anchor="end" fill="#242424" textLength="25.20" lengthAdjust="spacingAndGlyphs" transform="rotate(-34 137.90 342.70)" stroke="#242424">Ga10Ag2</text>
<text x="27.3" y="280.8" font-size="6.6" text-anchor="middle" fill="#242424" stroke="#242424" textLength="40" lengthAdjust="spacingAndGlyphs" transform="rotate(-90 27.3 280.8)">Cells/cm<tspan font-size="4" dy="-2.2">2</tspan><tspan dy="2.2"> x10</tspan><tspan font-size="4" dy="-2.2">4</tspan></text>
<text x="175.60" y="219.40" font-size="11.7" text-anchor="start" fill="#222" stroke="#222">c)</text>
<line x1="214.20" y1="358.70" x2="216.20" y2="358.70" stroke="#808080" stroke-width="0.8"/>
<text x="209.50" y="361.25" font-size="7.0" text-anchor="end" fill="#262626" stroke="#262626">0</text>
<line x1="214.20" y1="338.08" x2="216.20" y2="338.08" stroke="#808080" stroke-width="0.8"/>
<text x="209.50" y="340.63" font-size="7.0" text-anchor="end" fill="#262626" stroke="#262626">5</text>
<line x1="214.20" y1="317.46" x2="216.20" y2="317.46" stroke="#808080" stroke-width="0.8"/>
<text x="209.50" y="320.01" font-size="7.0" text-anchor="end" fill="#262626" stroke="#262626">10</text>
<line x1="214.20" y1="296.84" x2="216.20" y2="296.84" stroke="#808080" stroke-width="0.8"/>
<text x="209.50" y="299.39" font-size="7.0" text-anchor="end" fill="#262626" stroke="#262626">15</text>
<line x1="214.20" y1="276.22" x2="216.20" y2="276.22" stroke="#808080" stroke-width="0.8"/>
<text x="209.50" y="278.77" font-size="7.0" text-anchor="end" fill="#262626" stroke="#262626">20</text>
<line x1="214.20" y1="255.60" x2="216.20" y2="255.60" stroke="#808080" stroke-width="0.8"/>
<text x="209.50" y="258.15" font-size="7.0" text-anchor="end" fill="#262626" stroke="#262626">25</text>
<line x1="214.20" y1="234.98" x2="216.20" y2="234.98" stroke="#808080" stroke-width="0.8"/>
<text x="209.50" y="237.53" font-size="7.0" text-anchor="end" fill="#262626" stroke="#262626">30</text>
<line x1="216.20" y1="234.58" x2="216.20" y2="359.10" stroke="#808080" stroke-width="0.9"/>
<line x1="216.20" y1="358.70" x2="428.30" y2="358.70" stroke="#808080" stroke-width="0.9"/>
<text x="303.40" y="232.60" font-size="6.3" text-anchor="middle" fill="#222" textLength="46.50" lengthAdjust="spacingAndGlyphs" stroke="#222">PROLIFERATION</text>
<rect x="227.80" y="241.65" width="3.90" height="3.70" fill="#c0c0c0"/>
<text x="233.80" y="245.90" font-size="6.8" text-anchor="start" fill="#242424" textLength="5.80" lengthAdjust="spacingAndGlyphs" stroke="#242424">Ti</text>
<rect x="227.80" y="256.30" width="3.90" height="3.70" fill="#ff9540"/>
<text x="233.80" y="260.55" font-size="6.8" text-anchor="start" fill="#242424" textLength="14.80" lengthAdjust="spacingAndGlyphs" stroke="#242424">Ti-Ca</text>
<rect x="227.80" y="270.95" width="3.90" height="3.70" fill="#ffdc00"/>
<text x="233.80" y="275.20" font-size="6.8" text-anchor="start" fill="#242424" textLength="23.60" lengthAdjust="spacingAndGlyphs" stroke="#242424">Ga5Ag1</text>
<rect x="227.80" y="285.60" width="3.90" height="3.70" fill="#6cd040"/>
<text x="233.80" y="289.85" font-size="6.8" text-anchor="start" fill="#242424" textLength="23.60" lengthAdjust="spacingAndGlyphs" stroke="#242424">Ga5Ag2</text>
<rect x="227.80" y="300.25" width="3.90" height="3.70" fill="#0996ff"/>
<text x="233.80" y="304.50" font-size="6.8" text-anchor="start" fill="#242424" textLength="27.60" lengthAdjust="spacingAndGlyphs" stroke="#242424">Ga10Ag2</text>
<rect x="226.00" y="348.30" width="8.30" height="10.00" fill="#c0c0c0"/>
<line x1="230.15" y1="346.50" x2="230.15" y2="350.20" stroke="#7a7a7a" stroke-width="0.6"/>
<line x1="229.25" y1="346.50" x2="231.05" y2="346.50" stroke="#7a7a7a" stroke-width="0.6"/>
<line x1="229.25" y1="350.20" x2="231.05" y2="350.20" stroke="#7a7a7a" stroke-width="0.6"/>
<rect x="236.80" y="349.40" width="8.30" height="8.90" fill="#ff9540"/>
<line x1="240.95" y1="347.00" x2="240.95" y2="351.30" stroke="#7a7a7a" stroke-width="0.6"/>
<line x1="240.05" y1="347.00" x2="241.85" y2="347.00" stroke="#7a7a7a" stroke-width="0.6"/>
<line x1="240.05" y1="351.30" x2="241.85" y2="351.30" stroke="#7a7a7a" stroke-width="0.6"/>
<rect x="247.60" y="347.40" width="8.30" height="10.90" fill="#ffdc00"/>
<line x1="251.75" y1="344.50" x2="251.75" y2="350.00" stroke="#7a7a7a" stroke-width="0.6"/>
<line x1="250.85" y1="344.50" x2="252.65" y2="344.50" stroke="#7a7a7a" stroke-width="0.6"/>
<line x1="250.85" y1="350.00" x2="252.65" y2="350.00" stroke="#7a7a7a" stroke-width="0.6"/>
<rect x="258.40" y="348.30" width="8.30" height="10.00" fill="#6cd040"/>
<line x1="262.55" y1="345.00" x2="262.55" y2="350.80" stroke="#7a7a7a" stroke-width="0.6"/>
<line x1="261.65" y1="345.00" x2="263.45" y2="345.00" stroke="#7a7a7a" stroke-width="0.6"/>
<line x1="261.65" y1="350.80" x2="263.45" y2="350.80" stroke="#7a7a7a" stroke-width="0.6"/>
<rect x="269.20" y="347.40" width="8.30" height="10.90" fill="#0996ff"/>
<line x1="273.35" y1="345.50" x2="273.35" y2="349.00" stroke="#7a7a7a" stroke-width="0.6"/>
<line x1="272.45" y1="345.50" x2="274.25" y2="345.50" stroke="#7a7a7a" stroke-width="0.6"/>
<line x1="272.45" y1="349.00" x2="274.25" y2="349.00" stroke="#7a7a7a" stroke-width="0.6"/>
<line x1="251.60" y1="358.70" x2="251.60" y2="360.30" stroke="#808080" stroke-width="0.7"/>
<rect x="296.80" y="330.60" width="8.30" height="27.70" fill="#c0c0c0"/>
<line x1="300.95" y1="324.40" x2="300.95" y2="336.80" stroke="#7a7a7a" stroke-width="0.6"/>
<line x1="300.05" y1="324.40" x2="301.85" y2="324.40" stroke="#7a7a7a" stroke-width="0.6"/>
<line x1="300.05" y1="336.80" x2="301.85" y2="336.80" stroke="#7a7a7a" stroke-width="0.6"/>
<rect x="307.60" y="330.10" width="8.30" height="28.20" fill="#ff9540"/>
<line x1="311.75" y1="327.60" x2="311.75" y2="332.90" stroke="#7a7a7a" stroke-width="0.6"/>
<line x1="310.85" y1="327.60" x2="312.65" y2="327.60" stroke="#7a7a7a" stroke-width="0.6"/>
<line x1="310.85" y1="332.90" x2="312.65" y2="332.90" stroke="#7a7a7a" stroke-width="0.6"/>
<rect x="318.40" y="327.10" width="8.30" height="31.20" fill="#ffdc00"/>
<line x1="322.55" y1="321.40" x2="322.55" y2="332.90" stroke="#7a7a7a" stroke-width="0.6"/>
<line x1="321.65" y1="321.40" x2="323.45" y2="321.40" stroke="#7a7a7a" stroke-width="0.6"/>
<line x1="321.65" y1="332.90" x2="323.45" y2="332.90" stroke="#7a7a7a" stroke-width="0.6"/>
<rect x="329.20" y="327.80" width="8.30" height="30.50" fill="#6cd040"/>
<line x1="333.35" y1="317.90" x2="333.35" y2="337.50" stroke="#7a7a7a" stroke-width="0.6"/>
<line x1="332.45" y1="317.90" x2="334.25" y2="317.90" stroke="#7a7a7a" stroke-width="0.6"/>
<line x1="332.45" y1="337.50" x2="334.25" y2="337.50" stroke="#7a7a7a" stroke-width="0.6"/>
<rect x="340.00" y="334.50" width="8.30" height="23.80" fill="#0996ff"/>
<line x1="344.15" y1="332.40" x2="344.15" y2="336.30" stroke="#7a7a7a" stroke-width="0.6"/>
<line x1="343.25" y1="332.40" x2="345.05" y2="332.40" stroke="#7a7a7a" stroke-width="0.6"/>
<line x1="343.25" y1="336.30" x2="345.05" y2="336.30" stroke="#7a7a7a" stroke-width="0.6"/>
<line x1="322.40" y1="358.70" x2="322.40" y2="360.30" stroke="#808080" stroke-width="0.7"/>
<rect x="367.40" y="293.10" width="8.30" height="65.20" fill="#c0c0c0"/>
<line x1="371.55" y1="284.30" x2="371.55" y2="300.70" stroke="#7a7a7a" stroke-width="0.6"/>
<line x1="370.65" y1="284.30" x2="372.45" y2="284.30" stroke="#7a7a7a" stroke-width="0.6"/>
<line x1="370.65" y1="300.70" x2="372.45" y2="300.70" stroke="#7a7a7a" stroke-width="0.6"/>
<rect x="378.20" y="266.20" width="8.30" height="92.10" fill="#ff9540"/>
<line x1="382.35" y1="246.70" x2="382.35" y2="285.50" stroke="#7a7a7a" stroke-width="0.6"/>
<line x1="381.45" y1="246.70" x2="383.25" y2="246.70" stroke="#7a7a7a" stroke-width="0.6"/>
<line x1="381.45" y1="285.50" x2="383.25" y2="285.50" stroke="#7a7a7a" stroke-width="0.6"/>
<rect x="389.00" y="268.50" width="8.30" height="89.80" fill="#ffdc00"/>
<line x1="393.15" y1="249.00" x2="393.15" y2="288.50" stroke="#7a7a7a" stroke-width="0.6"/>
<line x1="392.25" y1="249.00" x2="394.05" y2="249.00" stroke="#7a7a7a" stroke-width="0.6"/>
<line x1="392.25" y1="288.50" x2="394.05" y2="288.50" stroke="#7a7a7a" stroke-width="0.6"/>
<rect x="399.80" y="274.00" width="8.30" height="84.30" fill="#6cd040"/>
<line x1="403.95" y1="263.20" x2="403.95" y2="283.90" stroke="#7a7a7a" stroke-width="0.6"/>
<line x1="403.05" y1="263.20" x2="404.85" y2="263.20" stroke="#7a7a7a" stroke-width="0.6"/>
<line x1="403.05" y1="283.90" x2="404.85" y2="283.90" stroke="#7a7a7a" stroke-width="0.6"/>
<rect x="410.60" y="306.00" width="8.30" height="52.30" fill="#0996ff"/>
<line x1="414.75" y1="300.20" x2="414.75" y2="311.00" stroke="#7a7a7a" stroke-width="0.6"/>
<line x1="413.85" y1="300.20" x2="415.65" y2="300.20" stroke="#7a7a7a" stroke-width="0.6"/>
<line x1="413.85" y1="311.00" x2="415.65" y2="311.00" stroke="#7a7a7a" stroke-width="0.6"/>
<line x1="393.00" y1="358.70" x2="393.00" y2="360.30" stroke="#808080" stroke-width="0.7"/>
<line x1="428.30" y1="358.70" x2="428.30" y2="360.30" stroke="#808080" stroke-width="0.7"/>
<text x="251.30" y="370.60" font-size="7.0" text-anchor="middle" fill="#262626" stroke="#262626">3</text>
<text x="322.10" y="370.60" font-size="7.0" text-anchor="middle" fill="#262626" stroke="#262626">7</text>
<text x="392.70" y="370.60" font-size="7.0" text-anchor="middle" fill="#262626" stroke="#262626">14</text>
<text x="322.30" y="378.80" font-size="7.6" text-anchor="middle" fill="#242424" textLength="26.00" lengthAdjust="spacingAndGlyphs" stroke="#242424">t (days)</text>
<text x="190.00" y="297.60" font-size="7.4" text-anchor="middle" fill="#242424" textLength="41.00" lengthAdjust="spacingAndGlyphs" transform="rotate(-90 190.00 297.60)" stroke="#242424">Fold Change</text>
<text x="199.00" y="297.30" font-size="7.4" text-anchor="middle" fill="#242424" textLength="60.60" lengthAdjust="spacingAndGlyphs" transform="rotate(-90 199.00 297.30)" stroke="#242424">(Relative to Day 1)</text>
<text x="11.30" y="392.60" font-size="11.7" text-anchor="start" fill="#222" stroke="#222">d)</text>
<line x1="55.20" y1="518.70" x2="57.20" y2="518.70" stroke="#808080" stroke-width="0.8"/>
<text x="51.00" y="521.15" font-size="6.7" text-anchor="end" fill="#262626" stroke="#262626">0</text>
<line x1="55.20" y1="505.67" x2="57.20" y2="505.67" stroke="#808080" stroke-width="0.8"/>
<text x="51.00" y="508.12" font-size="6.7" text-anchor="end" fill="#262626" stroke="#262626">2</text>
<line x1="55.20" y1="492.64" x2="57.20" y2="492.64" stroke="#808080" stroke-width="0.8"/>
<text x="51.00" y="495.09" font-size="6.7" text-anchor="end" fill="#262626" stroke="#262626">4</text>
<line x1="55.20" y1="479.61" x2="57.20" y2="479.61" stroke="#808080" stroke-width="0.8"/>
<text x="51.00" y="482.06" font-size="6.7" text-anchor="end" fill="#262626" stroke="#262626">6</text>
<line x1="55.20" y1="466.58" x2="57.20" y2="466.58" stroke="#808080" stroke-width="0.8"/>
<text x="51.00" y="469.03" font-size="6.7" text-anchor="end" fill="#262626" stroke="#262626">8</text>
<line x1="55.20" y1="453.55" x2="57.20" y2="453.55" stroke="#808080" stroke-width="0.8"/>
<text x="51.00" y="456.00" font-size="6.7" text-anchor="end" fill="#262626" stroke="#262626">10</text>
<line x1="55.20" y1="440.52" x2="57.20" y2="440.52" stroke="#808080" stroke-width="0.8"/>
<text x="51.00" y="442.97" font-size="6.7" text-anchor="end" fill="#262626" stroke="#262626">12</text>
<line x1="55.20" y1="427.49" x2="57.20" y2="427.49" stroke="#808080" stroke-width="0.8"/>
<text x="51.00" y="429.94" font-size="6.7" text-anchor="end" fill="#262626" stroke="#262626">14</text>
<line x1="55.20" y1="414.46" x2="57.20" y2="414.46" stroke="#808080" stroke-width="0.8"/>
<text x="51.00" y="416.91" font-size="6.7" text-anchor="end" fill="#262626" stroke="#262626">16</text>
<line x1="55.20" y1="401.43" x2="57.20" y2="401.43" stroke="#808080" stroke-width="0.8"/>
<text x="51.00" y="403.88" font-size="6.7" text-anchor="end" fill="#262626" stroke="#262626">18</text>
<line x1="57.20" y1="401.03" x2="57.20" y2="519.10" stroke="#808080" stroke-width="0.9"/>
<line x1="57.20" y1="518.70" x2="229.80" y2="518.70" stroke="#808080" stroke-width="0.9"/>
<text x="126.40" y="405.30" font-size="6.3" text-anchor="middle" fill="#222" textLength="39.00" lengthAdjust="spacingAndGlyphs" stroke="#222">ALP ACTIVITY</text>
<rect x="65.50" y="504.80" width="6.70" height="13.50" fill="#c0c0c0"/>
<line x1="68.85" y1="504.30" x2="68.85" y2="505.50" stroke="#7a7a7a" stroke-width="0.6"/>
<line x1="67.95" y1="504.30" x2="69.75" y2="504.30" stroke="#7a7a7a" stroke-width="0.6"/>
<line x1="67.95" y1="505.50" x2="69.75" y2="505.50" stroke="#7a7a7a" stroke-width="0.6"/>
<rect x="74.35" y="509.00" width="6.70" height="9.30" fill="#ff9540"/>
<line x1="77.70" y1="508.20" x2="77.70" y2="509.80" stroke="#7a7a7a" stroke-width="0.6"/>
<line x1="76.80" y1="508.20" x2="78.60" y2="508.20" stroke="#7a7a7a" stroke-width="0.6"/>
<line x1="76.80" y1="509.80" x2="78.60" y2="509.80" stroke="#7a7a7a" stroke-width="0.6"/>
<rect x="83.20" y="509.40" width="6.70" height="8.90" fill="#ffdc00"/>
<line x1="86.55" y1="507.60" x2="86.55" y2="511.30" stroke="#7a7a7a" stroke-width="0.6"/>
<line x1="85.65" y1="507.60" x2="87.45" y2="507.60" stroke="#7a7a7a" stroke-width="0.6"/>
<line x1="85.65" y1="511.30" x2="87.45" y2="511.30" stroke="#7a7a7a" stroke-width="0.6"/>
<rect x="92.05" y="511.00" width="6.70" height="7.30" fill="#6cd040"/>
<line x1="95.40" y1="509.20" x2="95.40" y2="512.60" stroke="#7a7a7a" stroke-width="0.6"/>
<line x1="94.50" y1="509.20" x2="96.30" y2="509.20" stroke="#7a7a7a" stroke-width="0.6"/>
<line x1="94.50" y1="512.60" x2="96.30" y2="512.60" stroke="#7a7a7a" stroke-width="0.6"/>
<rect x="100.90" y="512.20" width="6.70" height="6.10" fill="#0996ff"/>
<line x1="104.25" y1="511.30" x2="104.25" y2="513.20" stroke="#7a7a7a" stroke-width="0.6"/>
<line x1="103.35" y1="511.30" x2="105.15" y2="511.30" stroke="#7a7a7a" stroke-width="0.6"/>
<line x1="103.35" y1="513.20" x2="105.15" y2="513.20" stroke="#7a7a7a" stroke-width="0.6"/>
<line x1="86.50" y1="518.70" x2="86.50" y2="520.30" stroke="#808080" stroke-width="0.7"/>
<rect x="123.20" y="491.20" width="6.70" height="27.10" fill="#c0c0c0"/>
<line x1="126.55" y1="484.10" x2="126.55" y2="496.40" stroke="#7a7a7a" stroke-width="0.6"/>
<line x1="125.65" y1="484.10" x2="127.45" y2="484.10" stroke="#7a7a7a" stroke-width="0.6"/>
<line x1="125.65" y1="496.40" x2="127.45" y2="496.40" stroke="#7a7a7a" stroke-width="0.6"/>
<rect x="132.05" y="491.50" width="6.70" height="26.80" fill="#ff9540"/>
<line x1="135.40" y1="482.50" x2="135.40" y2="500.90" stroke="#7a7a7a" stroke-width="0.6"/>
<line x1="134.50" y1="482.50" x2="136.30" y2="482.50" stroke="#7a7a7a" stroke-width="0.6"/>
<line x1="134.50" y1="500.90" x2="136.30" y2="500.90" stroke="#7a7a7a" stroke-width="0.6"/>
<rect x="140.90" y="486.70" width="6.70" height="31.60" fill="#ffdc00"/>
<line x1="144.25" y1="478.70" x2="144.25" y2="494.80" stroke="#7a7a7a" stroke-width="0.6"/>
<line x1="143.35" y1="478.70" x2="145.15" y2="478.70" stroke="#7a7a7a" stroke-width="0.6"/>
<line x1="143.35" y1="494.80" x2="145.15" y2="494.80" stroke="#7a7a7a" stroke-width="0.6"/>
<rect x="149.75" y="497.70" width="6.70" height="20.60" fill="#6cd040"/>
<line x1="153.10" y1="493.20" x2="153.10" y2="501.80" stroke="#7a7a7a" stroke-width="0.6"/>
<line x1="152.20" y1="493.20" x2="154.00" y2="493.20" stroke="#7a7a7a" stroke-width="0.6"/>
<line x1="152.20" y1="501.80" x2="154.00" y2="501.80" stroke="#7a7a7a" stroke-width="0.6"/>
<rect x="158.60" y="486.70" width="6.70" height="31.60" fill="#0996ff"/>
<line x1="161.95" y1="479.30" x2="161.95" y2="494.80" stroke="#7a7a7a" stroke-width="0.6"/>
<line x1="161.05" y1="479.30" x2="162.85" y2="479.30" stroke="#7a7a7a" stroke-width="0.6"/>
<line x1="161.05" y1="494.80" x2="162.85" y2="494.80" stroke="#7a7a7a" stroke-width="0.6"/>
<line x1="144.20" y1="518.70" x2="144.20" y2="520.30" stroke="#808080" stroke-width="0.7"/>
<rect x="180.30" y="441.00" width="6.70" height="77.30" fill="#c0c0c0"/>
<line x1="183.65" y1="437.60" x2="183.65" y2="444.00" stroke="#7a7a7a" stroke-width="0.6"/>
<line x1="182.75" y1="437.60" x2="184.55" y2="437.60" stroke="#7a7a7a" stroke-width="0.6"/>
<line x1="182.75" y1="444.00" x2="184.55" y2="444.00" stroke="#7a7a7a" stroke-width="0.6"/>
<rect x="189.15" y="455.10" width="6.70" height="63.20" fill="#ff9540"/>
<line x1="192.50" y1="441.00" x2="192.50" y2="468.90" stroke="#7a7a7a" stroke-width="0.6"/>
<line x1="191.60" y1="441.00" x2="193.40" y2="441.00" stroke="#7a7a7a" stroke-width="0.6"/>
<line x1="191.60" y1="468.90" x2="193.40" y2="468.90" stroke="#7a7a7a" stroke-width="0.6"/>
<rect x="198.00" y="446.30" width="6.70" height="72.00" fill="#ffdc00"/>
<line x1="201.35" y1="430.90" x2="201.35" y2="462.00" stroke="#7a7a7a" stroke-width="0.6"/>
<line x1="200.45" y1="430.90" x2="202.25" y2="430.90" stroke="#7a7a7a" stroke-width="0.6"/>
<line x1="200.45" y1="462.00" x2="202.25" y2="462.00" stroke="#7a7a7a" stroke-width="0.6"/>
<rect x="206.85" y="460.60" width="6.70" height="57.70" fill="#6cd040"/>
<line x1="210.20" y1="458.30" x2="210.20" y2="462.40" stroke="#7a7a7a" stroke-width="0.6"/>
<line x1="209.30" y1="458.30" x2="211.10" y2="458.30" stroke="#7a7a7a" stroke-width="0.6"/>
<line x1="209.30" y1="462.40" x2="211.10" y2="462.40" stroke="#7a7a7a" stroke-width="0.6"/>
<rect x="215.70" y="419.90" width="6.70" height="98.40" fill="#0996ff"/>
<line x1="219.05" y1="413.70" x2="219.05" y2="426.80" stroke="#7a7a7a" stroke-width="0.6"/>
<line x1="218.15" y1="413.70" x2="219.95" y2="413.70" stroke="#7a7a7a" stroke-width="0.6"/>
<line x1="218.15" y1="426.80" x2="219.95" y2="426.80" stroke="#7a7a7a" stroke-width="0.6"/>
<line x1="201.30" y1="518.70" x2="201.30" y2="520.30" stroke="#808080" stroke-width="0.7"/>
<line x1="229.80" y1="518.70" x2="229.80" y2="520.30" stroke="#808080" stroke-width="0.7"/>
<text x="86.20" y="530.70" font-size="6.7" text-anchor="middle" fill="#262626" stroke="#262626">3</text>
<text x="143.90" y="530.70" font-size="6.7" text-anchor="middle" fill="#262626" stroke="#262626">7</text>
<text x="201.00" y="530.70" font-size="6.7" text-anchor="middle" fill="#262626" stroke="#262626">14</text>
<text x="144.10" y="541.00" font-size="7.6" text-anchor="middle" fill="#242424" textLength="26.00" lengthAdjust="spacingAndGlyphs" stroke="#242424">t (days)</text>
<text x="28.00" y="459.90" font-size="7.4" text-anchor="middle" fill="#242424" textLength="41.90" lengthAdjust="spacingAndGlyphs" transform="rotate(-90 28.00 459.90)" stroke="#242424">Fold Change</text>
<text x="37.00" y="460.50" font-size="7.4" text-anchor="middle" fill="#242424" textLength="61.60" lengthAdjust="spacingAndGlyphs" transform="rotate(-90 37.00 460.50)" stroke="#242424">(Relative to Day 1)</text>
</svg>
</body></html>
